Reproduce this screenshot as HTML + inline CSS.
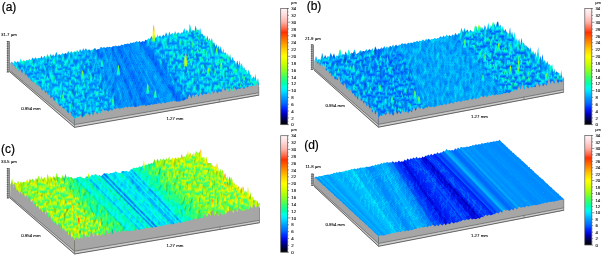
<!DOCTYPE html>
<html lang="en"><head><meta charset="utf-8"><title>3D surface topography</title>
<style>html,body{margin:0;padding:0;background:#fff}svg{display:block}text{font-family:"Liberation Sans",sans-serif;fill:#111}.s{font-size:4.35px;fill:#111;stroke:#111;stroke-width:0.12px}.u{font-size:4.1px;fill:#111;stroke:#111;stroke-width:0.1px}.l{font-size:12px;fill:#000;stroke:#000;stroke-width:0.2px}</style></head><body>
<svg width="602" height="255" viewBox="0 0 602 255">
<rect width="602" height="255" fill="#fff"/>
<defs><filter id="relief" filterUnits="userSpaceOnUse" x="0" y="0" width="602" height="255" color-interpolation-filters="sRGB">
<feTurbulence type="fractalNoise" baseFrequency="0.40 0.185" numOctaves="1" seed="5" result="t"/>
<feTurbulence type="fractalNoise" baseFrequency="0.22 0.105" numOctaves="1" seed="12" result="t2"/>
<feColorMatrix in="t" type="matrix" values="1 0 0 0 0  1 0 0 0 0  1 0 0 0 0  0 0 0 0 1" result="na"/>
<feColorMatrix in="t2" type="matrix" values="0 1 0 0 0  0 1 0 0 0  0 1 0 0 0  0 0 0 0 1" result="nb"/>
<feComposite in="na" in2="nb" operator="arithmetic" k1="0" k2="0.75" k3="0.6" k4="-0.175" result="n0"/>
<feComponentTransfer in="n0" result="n"><feFuncR type="table" tableValues="0.000 0.000 0.000 0.000 0.000 0.000 0.000 0.000 0.000 0.000 0.000 0.027 0.063 0.103 0.145 0.189 0.236 0.284 0.333 0.384 0.435 0.488 0.542 0.596 0.652 0.708 0.765 0.823 0.881 0.940 1.000 1.000 1.000 1.000 1.000 1.000 1.000 1.000 1.000 1.000 1.000"/><feFuncG type="table" tableValues="0.000 0.000 0.000 0.000 0.000 0.000 0.000 0.000 0.000 0.000 0.000 0.027 0.063 0.103 0.145 0.189 0.236 0.284 0.333 0.384 0.435 0.488 0.542 0.596 0.652 0.708 0.765 0.823 0.881 0.940 1.000 1.000 1.000 1.000 1.000 1.000 1.000 1.000 1.000 1.000 1.000"/><feFuncB type="table" tableValues="0.000 0.000 0.000 0.000 0.000 0.000 0.000 0.000 0.000 0.000 0.000 0.027 0.063 0.103 0.145 0.189 0.236 0.284 0.333 0.384 0.435 0.488 0.542 0.596 0.652 0.708 0.765 0.823 0.881 0.940 1.000 1.000 1.000 1.000 1.000 1.000 1.000 1.000 1.000 1.000 1.000"/></feComponentTransfer>
<feColorMatrix in="SourceGraphic" type="matrix" values="0 1 0 0 0  0 1 0 0 0  0 1 0 0 0  0 0 0 0 1" result="amp"/>
<feColorMatrix in="SourceGraphic" type="matrix" values="1 0 0 0 0  1 0 0 0 0  1 0 0 0 0  0 0 0 0 1" result="base"/>
<feComposite in="amp" in2="n" operator="arithmetic" k1="1" k2="0" k3="0" k4="0" result="an"/>
<feComposite in="base" in2="an" operator="arithmetic" k1="0" k2="1" k3="4.76" k4="0" result="h"/>
<feComponentTransfer in="h" result="col"><feFuncR type="table" tableValues="0.000 0.000 0.000 0.000 0.000 0.000 0.000 0.000 0.000 0.000 0.000 0.000 0.000 0.125 0.251 0.408 0.565 0.690 0.816 0.910 1.000 1.000 1.000 1.000 1.000 1.000 1.000 1.000 1.000 1.000 1.000 1.000 1.000 1.000 1.000"/><feFuncG type="table" tableValues="0.000 0.000 0.000 0.000 0.063 0.188 0.376 0.502 0.627 0.769 0.910 1.000 1.000 1.000 1.000 1.000 1.000 1.000 1.000 1.000 1.000 0.910 0.816 0.690 0.565 0.439 0.314 0.188 0.376 0.533 0.690 0.769 0.847 0.910 0.961"/><feFuncB type="table" tableValues="0.000 0.188 0.439 0.690 0.910 1.000 1.000 1.000 1.000 1.000 1.000 0.878 0.690 0.533 0.376 0.251 0.125 0.063 0.000 0.000 0.000 0.000 0.000 0.000 0.000 0.000 0.000 0.000 0.251 0.439 0.659 0.753 0.847 0.910 0.961"/></feComponentTransfer>
<feColorMatrix in="h" type="matrix" values="0 0 0 0 1  0 0 0 0 1  0 0 0 0 1  1 0 0 0 0" result="ha"/>
<feDiffuseLighting in="ha" surfaceScale="11" diffuseConstant="1.15" lighting-color="#fff" result="lit"><feDistantLight azimuth="215" elevation="58"/></feDiffuseLighting>
<feComposite in="col" in2="lit" operator="arithmetic" k1="0.3" k2="0.71" k3="0" k4="0" result="shaded"/>
<feComposite in="shaded" in2="SourceAlpha" operator="in"/>
</filter></defs>
<g id="panel-a">
<clipPath id="c0"><polygon points="10.3,63.3 11.6,61.7 13.4,63.7 14.6,60.7 16.4,62.7 17.5,61.2 19.4,62.3 20.9,58.3 21.9,62 23.5,60 25.4,61.5 26.6,59.9 28.4,60.2 29.3,58.7 30.8,60.2 32.7,57.4 34,59.3 35.4,57.3 36.8,58.7 38.8,57.7 40.3,58.3 41.6,55.7 42.8,58.5 44.4,55.8 46,58.1 47.3,53.8 49.2,57.3 50.6,53.8 52,56.4 53.1,54 54.6,56.3 56.4,51.7 57.7,55.5 59.1,53.9 60.8,55 62.5,53 63.9,54.3 65.3,53 66.9,53.8 68.1,50.9 69.8,53.3 71.3,50.9 72.7,52.8 74,51.2 76,52.1 76.9,49.9 78.8,51.9 80.1,49 81.7,51.7 83.3,48.3 84.7,50.6 85.9,48.2 87.3,50.6 89.1,49.3 90.4,50.6 91.9,49.7 93.5,49.6 95,47.7 96.4,49.9 97.9,49 99.3,49.3 100.9,46.8 102.6,48.1 103.9,47.1 105.5,48 107.1,46.8 108.6,47.2 109.6,46.7 111.3,47.6 113.1,46 114.4,46.3 115.8,45.5 117.3,46.5 118.6,45.6 120,45.9 121.6,44.4 123.2,45.2 124.5,44.1 126.3,44.1 127.6,43.6 129.4,44 130.7,42.5 131.9,43.3 133.3,42.2 134.8,42.4 136.4,41.3 138.3,42 139.7,40.9 140.8,42.6 142.5,41 144.3,41.7 145.4,39.8 146.9,40.2 148.5,38.3 149.7,39.3 151.7,36 152.6,38.5 154.5,35.5 155.9,38.4 157.6,34.4 158.6,37.1 160.1,35.3 161.5,37.3 163.2,34.6 164.7,36.2 166.1,32.2 168,36.4 169.2,31.5 170.5,34.7 172.3,33 173.9,34.7 175.1,31.1 176.8,34.2 178,31.9 179.9,34.4 181.1,32.7 182.9,32.5 184.3,27.9 185.5,31.9 187,29.5 188.5,32.7 189.8,23.8 191.7,31.5 192.9,29.7 194.5,31.3 195.7,25.5 196.8,30.2 198.1,29.3 199.3,31.3 200.1,27.8 201.5,34.4 202.3,33.4 203.6,35.9 204.7,35.4 206.1,39.4 207.4,35.5 208.5,40.8 209.4,38.1 210.6,41.1 211.9,38.1 212.9,42.8 214.3,42.4 215.5,46.9 216.3,44 217.8,48.1 218.6,45.3 219.6,49.8 220.7,45.9 222.2,52.9 223.5,48.2 224.2,53 225.9,52.5 226.8,55.5 227.8,53.2 229.1,57.8 230.1,53.8 231.2,60.7 232.4,56.8 233.8,60.4 235,61.3 236,64.8 237.4,60.3 238.4,65.8 239.7,60.3 240.6,66.6 241.8,62.9 243.1,68.7 244.1,66.9 245.2,70.2 246.4,70.1 247.5,74.6 248.6,69.5 249.9,74.1 251,75.3 251.9,78.9 253.4,76.3 254.6,78.5 255.3,73.6 256.4,81.3 258.1,78.3 259,83.9 258.2,92.9 74.4,124.6 10.8,69.8"/></clipPath>
<g clip-path="url(#c0)"><g filter="url(#relief)">
<polygon fill="#330800" points="50.8,146 54.2,145.4 -27.9,40.4 -31.2,41"/>
<polygon fill="#330800" points="52.7,145.6 56,145 -26.1,40.1 -29.4,40.7"/>
<polygon fill="#330800" points="54.5,145.3 57.9,144.7 -24.2,39.8 -27.6,40.4"/>
<polygon fill="#330800" points="56.4,145 59.7,144.4 -22.4,39.4 -25.7,40"/>
<polygon fill="#330800" points="58.2,144.6 61.5,144.1 -20.6,39.1 -23.9,39.7"/>
<polygon fill="#330800" points="60.1,144.3 63.4,143.7 -18.7,38.8 -22,39.4"/>
<polygon fill="#330800" points="61.9,144 65.2,143.4 -16.9,38.5 -20.2,39"/>
<polygon fill="#330800" points="63.8,143.7 67.1,143.1 -15,38.1 -18.4,38.7"/>
<polygon fill="#330800" points="65.6,143.3 68.9,142.7 -13.2,37.8 -16.5,38.4"/>
<polygon fill="#330800" points="67.5,143 70.8,142.4 -11.4,37.5 -14.7,38.1"/>
<polygon fill="#330800" points="69.3,142.7 72.6,142.1 -9.5,37.1 -12.8,37.7"/>
<polygon fill="#330800" points="71.2,142.3 74.5,141.7 -7.7,36.8 -11,37.4"/>
<polygon fill="#330800" points="73,142 76.3,141.4 -5.8,36.5 -9.2,37.1"/>
<polygon fill="#330800" points="74.9,141.7 78.2,141.1 -4,36.1 -7.3,36.7"/>
<polygon fill="#330800" points="76.7,141.3 80,140.8 -2.2,35.8 -5.5,36.4"/>
<polygon fill="#330800" points="78.5,141 81.7,140.5 -0.1,35.4 -3.6,36.1"/>
<polygon fill="#330800" points="80.4,140.7 83,140.2 2.3,35 -1.8,35.7"/>
<polygon fill="#330800" points="82,140.4 84.4,140 4.6,34.6 0.4,35.4"/>
<polygon fill="#330800" points="83.3,140.2 85.8,139.7 7,34.2 2.7,34.9"/>
<polygon fill="#330800" points="84.7,139.9 87.2,139.5 9.4,33.7 5.1,34.5"/>
<polygon fill="#330800" points="86.1,139.7 88.5,139.2 11.8,33.3 7.5,34.1"/>
<polygon fill="#330800" points="87.4,139.4 89.9,139 14.1,32.9 9.9,33.7"/>
<polygon fill="#330800" points="88.8,139.2 91.3,138.7 16.5,32.5 12.2,33.2"/>
<polygon fill="#330800" points="90.2,138.9 92.6,138.5 18.9,32 14.6,32.8"/>
<polygon fill="#330800" points="91.5,138.7 94,138.3 21.2,31.6 17,32.4"/>
<polygon fill="#330800" points="92.9,138.5 95.4,138 23.6,31.2 19.3,32"/>
<polygon fill="#330800" points="94.3,138.2 96.7,137.8 26,30.8 21.7,31.5"/>
<polygon fill="#330800" points="95.6,138 98.1,137.5 28.4,30.3 24.1,31.1"/>
<polygon fill="#330800" points="97,137.7 99.5,137.3 30.7,29.9 26.5,30.7"/>
<polygon fill="#330800" points="98.4,137.5 100.8,137 33.1,29.5 28.8,30.3"/>
<polygon fill="#320800" points="99.7,137.2 102.2,136.8 35.5,29.1 31.2,29.8"/>
<polygon fill="#320800" points="101.1,137 103.6,136.5 37.9,28.6 33.6,29.4"/>
<polygon fill="#320800" points="102.5,136.7 104.9,136.3 40.2,28.2 36,29"/>
<polygon fill="#320800" points="103.9,136.5 106.3,136.1 42.6,27.8 38.3,28.6"/>
<polygon fill="#320800" points="105.2,136.3 107.7,135.8 45,27.4 40.7,28.1"/>
<polygon fill="#320800" points="106.6,136 109.1,135.6 47.3,26.9 43.1,27.7"/>
<polygon fill="#320800" points="108,135.8 110.4,135.3 49.7,26.5 45.5,27.3"/>
<polygon fill="#320800" points="109.3,135.5 111.8,135.1 52.1,26.1 47.8,26.8"/>
<polygon fill="#320800" points="110.7,135.3 113.2,134.8 54.5,25.7 50.2,26.4"/>
<polygon fill="#320800" points="112.1,135 114.5,134.6 56.8,25.2 52.6,26"/>
<polygon fill="#320800" points="113.4,134.8 115.9,134.3 59.2,24.8 54.9,25.6"/>
<polygon fill="#310800" points="114.8,134.5 117.3,134.1 61.6,24.4 57.3,25.1"/>
<polygon fill="#310800" points="116.2,134.3 118.6,133.9 64,24 59.7,24.7"/>
<polygon fill="#310800" points="117.5,134.1 120,133.6 66.3,23.5 62.1,24.3"/>
<polygon fill="#300700" points="118.9,133.8 121.4,133.4 68.7,23.1 64.4,23.9"/>
<polygon fill="#300700" points="120.3,133.6 122.7,133.1 71.1,22.7 66.8,23.4"/>
<polygon fill="#300700" points="121.6,133.3 124.1,132.9 73.5,22.3 69.2,23"/>
<polygon fill="#2f0700" points="123,133.1 125.5,132.6 75.8,21.8 71.6,22.6"/>
<polygon fill="#300700" points="124.4,132.8 126.8,132.4 78.2,21.4 73.9,22.2"/>
<polygon fill="#300700" points="125.8,132.6 128.2,132.1 80.6,21 76.3,21.7"/>
<polygon fill="#2f0700" points="127.1,132.3 129.6,131.9 82.9,20.5 78.7,21.3"/>
<polygon fill="#2c0600" points="128.5,132.1 131,131.7 85.3,20.1 81,20.9"/>
<polygon fill="#2d0600" points="129.9,131.9 132.3,131.4 87.7,19.7 83.4,20.5"/>
<polygon fill="#2f0500" points="131.2,131.6 133.7,131.2 90.1,19.3 85.8,20"/>
<polygon fill="#310400" points="132.6,131.4 135.1,130.9 92.4,18.8 88.2,19.6"/>
<polygon fill="#360400" points="134,131.1 136.4,130.7 94.8,18.4 90.5,19.2"/>
<polygon fill="#320300" points="135.3,130.9 138.2,130.4 96.7,18.1 92.9,18.8"/>
<polygon fill="#350300" points="136.7,130.6 140.6,129.9 97.9,17.9 95.3,18.3"/>
<polygon fill="#360200" points="138.7,130.3 143,129.5 99.1,17.6 97,18"/>
<polygon fill="#340200" points="141.1,129.8 145.5,129.1 100.3,17.4 98.2,17.8"/>
<polygon fill="#2d0200" points="143.5,129.4 147.9,128.6 101.5,17.2 99.4,17.6"/>
<polygon fill="#340200" points="145.9,129 150.3,128.2 102.8,17 100.6,17.4"/>
<polygon fill="#360200" points="148.4,128.5 152.7,127.8 104,16.8 101.8,17.2"/>
<polygon fill="#330200" points="150.8,128.1 155.1,127.3 105.2,16.6 103,17"/>
<polygon fill="#2e0200" points="153.2,127.7 157.5,126.9 106.4,16.3 104.2,16.7"/>
<polygon fill="#2f0200" points="155.6,127.3 160,126.5 107.6,16.1 105.4,16.5"/>
<polygon fill="#300200" points="158,126.8 162.4,126 108.8,15.9 106.6,16.3"/>
<polygon fill="#360200" points="160.4,126.4 164.8,125.6 110,15.7 107.8,16.1"/>
<polygon fill="#320200" points="162.9,126 167.2,125.2 111.2,15.5 109,15.9"/>
<polygon fill="#320200" points="165.3,125.5 169.6,124.7 112.4,15.3 110.2,15.7"/>
<polygon fill="#370200" points="167.7,125.1 172,124.3 113.6,15 111.4,15.4"/>
<polygon fill="#330200" points="170.1,124.7 174.5,123.9 114.8,14.8 112.7,15.2"/>
<polygon fill="#390200" points="172.5,124.2 176.9,123.5 116,14.6 113.9,15"/>
<polygon fill="#340200" points="174.9,123.8 179.3,123 117.2,14.4 115.1,14.8"/>
<polygon fill="#350200" points="177.4,123.4 181.7,122.6 118.5,14.2 116.3,14.6"/>
<polygon fill="#380200" points="179.8,122.9 184.1,122.2 119.7,14 117.5,14.4"/>
<polygon fill="#390200" points="182.2,122.5 186.5,121.7 120.9,13.7 118.7,14.1"/>
<polygon fill="#360200" points="184.6,122.1 188.9,121.3 122.1,13.5 119.9,13.9"/>
<polygon fill="#340200" points="187,121.6 191.4,120.9 123.3,13.3 121.1,13.7"/>
<polygon fill="#2d0200" points="189.4,121.2 193.8,120.4 124.5,13.1 122.3,13.5"/>
<polygon fill="#2c0300" points="191.8,120.8 196.2,120 125.7,12.9 123.5,13.3"/>
<polygon fill="#2d0400" points="194.3,120.3 198.6,119.6 126.9,12.7 124.7,13.1"/>
<polygon fill="#2e0600" points="196.7,119.9 201,119.1 128.1,12.5 125.9,12.8"/>
<polygon fill="#300700" points="199.1,119.5 203.4,118.7 129.3,12.2 127.1,12.6"/>
<polygon fill="#2d0700" points="201.5,119.1 205.9,118.3 130.5,12 128.3,12.4"/>
<polygon fill="#2e0800" points="203.9,118.6 208.3,117.8 131.8,11.8 129.6,12.2"/>
<polygon fill="#2d0800" points="206.3,118.2 210.6,117.4 133,11.6 130.8,12"/>
<polygon fill="#300800" points="208.7,117.8 213,117 134.3,11.3 132,11.8"/>
<polygon fill="#310800" points="211.1,117.3 215.4,116.6 135.5,11.1 133.3,11.5"/>
<polygon fill="#330800" points="213.5,116.9 217.7,116.2 136.8,10.9 134.5,11.3"/>
<polygon fill="#330800" points="215.8,116.5 220.1,115.7 138,10.7 135.8,11.1"/>
<polygon fill="#330800" points="218.2,116.1 222.5,115.3 139.3,10.4 137,10.9"/>
<polygon fill="#330800" points="220.6,115.6 224.9,114.9 140.6,10.2 138.3,10.6"/>
<polygon fill="#340800" points="223,115.2 227.2,114.5 141.8,10 139.5,10.4"/>
<polygon fill="#340800" points="225.3,114.8 229.6,114 143.1,9.8 140.8,10.2"/>
<polygon fill="#340800" points="227.7,114.4 232,113.6 144.3,9.5 142.1,9.9"/>
<polygon fill="#340800" points="230.1,114 234.3,113.2 145.6,9.3 143.3,9.7"/>
<polygon fill="#340800" points="232.4,113.5 236.7,112.8 146.8,9.1 144.6,9.5"/>
<polygon fill="#340800" points="234.8,113.1 239.1,112.3 148.1,8.9 145.8,9.3"/>
<polygon fill="#340900" points="237.2,112.7 241.4,111.9 149.4,8.6 147.1,9"/>
<polygon fill="#340900" points="239.6,112.3 243.8,111.5 150.6,8.4 148.3,8.8"/>
<polygon fill="#340900" points="241.9,111.8 246.2,111.1 151.9,8.2 149.6,8.6"/>
<polygon fill="#340900" points="244.3,111.4 248.6,110.6 153.1,8 150.9,8.4"/>
<polygon fill="#350900" points="246.7,111 250.9,110.2 154.4,7.7 152.1,8.1"/>
<polygon fill="#350900" points="249,110.6 253.3,109.8 155.6,7.5 153.4,7.9"/>
<polygon fill="#350900" points="251.4,110.1 255.7,109.4 156.9,7.3 154.6,7.7"/>
<polygon fill="#350900" points="253.8,109.7 258,109 158.2,7.1 155.9,7.5"/>
<polygon fill="#350900" points="256.1,109.3 260.4,108.5 159.4,6.8 157.2,7.2"/>
<polygon fill="#350900" points="258.5,108.9 262.8,108.1 160.7,6.6 158.4,7"/>
<polygon fill="#350900" points="260.9,108.4 265.2,107.7 161.9,6.4 159.7,6.8"/>
<polygon fill="#350900" points="263.3,108 267.5,107.3 163.2,6.2 160.9,6.6"/>
<polygon fill="#350900" points="265.6,107.6 269.9,106.8 164.4,5.9 162.2,6.3"/>
<polygon fill="#350900" points="268,107.2 272.3,106.4 165.7,5.7 163.4,6.1"/>
<polygon fill="#360900" points="270.4,106.8 274.6,106 167,5.5 164.7,5.9"/>
<polygon fill="#360900" points="272.7,106.3 277,105.6 168.2,5.3 166,5.7"/>
<polygon fill="#360900" points="275.1,105.9 279.2,105.2 169.7,5 167.2,5.4"/>
<polygon fill="#360900" points="277.5,105.5 281,104.8 171.5,4.7 168.5,5.2"/>
<polygon fill="#360900" points="279.5,105.1 282.9,104.5 173.4,4.3 170.1,4.9"/>
<polygon fill="#360900" points="281.4,104.8 284.7,104.2 175.2,4 171.9,4.6"/>
<polygon fill="#360900" points="283.2,104.5 286.6,103.9 177.1,3.7 173.8,4.3"/>
<polygon fill="#360900" points="285.1,104.1 288.4,103.5 178.9,3.3 175.6,3.9"/>
<polygon fill="#360900" points="286.9,103.8 290.3,103.2 180.7,3 177.4,3.6"/>
<polygon fill="#360900" points="288.8,103.5 292.1,102.9 182.6,2.7 179.3,3.3"/>
<polygon fill="#360900" points="290.6,103.1 294,102.5 184.4,2.4 181.1,2.9"/>
<polygon fill="#360900" points="292.5,102.8 295.8,102.2 186.3,2 183,2.6"/>
<polygon fill="#360900" points="294.3,102.5 297.6,101.9 188.1,1.7 184.8,2.3"/>
<polygon fill="#360900" points="296.2,102.1 299.5,101.5 189.9,1.4 186.6,2"/>
<polygon fill="#360900" points="298,101.8 301.3,101.2 191.8,1 188.5,1.6"/>
<polygon fill="#360900" points="299.9,101.5 303.2,100.9 193.6,0.7 190.3,1.3"/>
<polygon fill="#360900" points="301.7,101.2 305,100.6 195.5,0.4 192.2,1"/>
<polygon fill="#360900" points="303.6,100.8 306.9,100.2 197.3,0 194,0.6"/>
<polygon fill="#360900" points="305.4,100.5 308.7,99.9 199.2,-0.3 195.8,0.3"/>
</g></g>
<defs>
<linearGradient id="kg0_0" x1="0" y1="0" x2="0" y2="1"><stop offset="0" stop-color="#00fae7"/><stop offset="0.45" stop-color="#00bbff"/><stop offset="0.8" stop-color="#0074ff" stop-opacity="0.85"/><stop offset="1" stop-color="#0074ff" stop-opacity="0"/></linearGradient>
<path id="k000" fill="url(#kg0_0)" d="M0 -0.5C0.3 1.9 1.4 3.8 2.5 6.2L-2.5 6.2C-1.4 3.8 -0.3 1.9 0 -0.5Z"/>
<path id="k001" fill="url(#kg0_0)" d="M0 -0.5C0.3 2.5 1.8 5.1 3.2 8.2L-3.2 8.2C-1.8 5.1 -0.3 2.5 0 -0.5Z"/>
<linearGradient id="kg0_1" x1="0" y1="0" x2="0" y2="1"><stop offset="0" stop-color="#00ffc8"/><stop offset="0.45" stop-color="#00cdff"/><stop offset="0.8" stop-color="#0074ff" stop-opacity="0.85"/><stop offset="1" stop-color="#0074ff" stop-opacity="0"/></linearGradient>
<path id="k010" fill="url(#kg0_1)" d="M0 -0.5C0.3 1.9 1.4 3.8 2.5 6.2L-2.5 6.2C-1.4 3.8 -0.3 1.9 0 -0.5Z"/>
<path id="k011" fill="url(#kg0_1)" d="M0 -0.5C0.3 2.5 1.8 5.1 3.2 8.2L-3.2 8.2C-1.8 5.1 -0.3 2.5 0 -0.5Z"/>
<linearGradient id="kg0_2" x1="0" y1="0" x2="0" y2="1"><stop offset="0" stop-color="#06ffa8"/><stop offset="0.45" stop-color="#00dfff"/><stop offset="0.8" stop-color="#0074ff" stop-opacity="0.85"/><stop offset="1" stop-color="#0074ff" stop-opacity="0"/></linearGradient>
<path id="k020" fill="url(#kg0_2)" d="M0 -0.5C0.3 1.9 1.4 3.8 2.5 6.2L-2.5 6.2C-1.4 3.8 -0.3 1.9 0 -0.5Z"/>
<path id="k021" fill="url(#kg0_2)" d="M0 -0.5C0.3 2.5 1.8 5.1 3.2 8.2L-3.2 8.2C-1.8 5.1 -0.3 2.5 0 -0.5Z"/>
<linearGradient id="kg0_3" x1="0" y1="0" x2="0" y2="1"><stop offset="0" stop-color="#1cff8c"/><stop offset="0.45" stop-color="#00edf8"/><stop offset="0.8" stop-color="#0074ff" stop-opacity="0.85"/><stop offset="1" stop-color="#0074ff" stop-opacity="0"/></linearGradient>
<path id="k030" fill="url(#kg0_3)" d="M0 -0.5C0.3 1.9 1.4 3.8 2.5 6.2L-2.5 6.2C-1.4 3.8 -0.3 1.9 0 -0.5Z"/>
<path id="k031" fill="url(#kg0_3)" d="M0 -0.5C0.3 2.5 1.8 5.1 3.2 8.2L-3.2 8.2C-1.8 5.1 -0.3 2.5 0 -0.5Z"/>
<linearGradient id="kg0_4" x1="0" y1="0" x2="0" y2="1"><stop offset="0" stop-color="#33ff70"/><stop offset="0.45" stop-color="#00f9e9"/><stop offset="0.8" stop-color="#0074ff" stop-opacity="0.85"/><stop offset="1" stop-color="#0074ff" stop-opacity="0"/></linearGradient>
<path id="k040" fill="url(#kg0_4)" d="M0 -0.5C0.3 1.9 1.4 3.8 2.5 6.2L-2.5 6.2C-1.4 3.8 -0.3 1.9 0 -0.5Z"/>
<path id="k041" fill="url(#kg0_4)" d="M0 -0.5C0.3 2.5 1.8 5.1 3.2 8.2L-3.2 8.2C-1.8 5.1 -0.3 2.5 0 -0.5Z"/>
<linearGradient id="kg0_5" x1="0" y1="0" x2="0" y2="1"><stop offset="0" stop-color="#4cff57"/><stop offset="0.45" stop-color="#00ffd6"/><stop offset="0.8" stop-color="#0074ff" stop-opacity="0.85"/><stop offset="1" stop-color="#0074ff" stop-opacity="0"/></linearGradient>
<path id="k050" fill="url(#kg0_5)" d="M0 -0.5C0.3 1.9 1.4 3.8 2.5 6.2L-2.5 6.2C-1.4 3.8 -0.3 1.9 0 -0.5Z"/>
<path id="k051" fill="url(#kg0_5)" d="M0 -0.5C0.3 2.5 1.8 5.1 3.2 8.2L-3.2 8.2C-1.8 5.1 -0.3 2.5 0 -0.5Z"/>
<linearGradient id="kg0_6" x1="0" y1="0" x2="0" y2="1"><stop offset="0" stop-color="#68ff40"/><stop offset="0.45" stop-color="#00ffbe"/><stop offset="0.8" stop-color="#0074ff" stop-opacity="0.85"/><stop offset="1" stop-color="#0074ff" stop-opacity="0"/></linearGradient>
<path id="k060" fill="url(#kg0_6)" d="M0 -0.5C0.3 1.9 1.4 3.8 2.5 6.2L-2.5 6.2C-1.4 3.8 -0.3 1.9 0 -0.5Z"/>
<path id="k061" fill="url(#kg0_6)" d="M0 -0.5C0.3 2.5 1.8 5.1 3.2 8.2L-3.2 8.2C-1.8 5.1 -0.3 2.5 0 -0.5Z"/>
<linearGradient id="kg0_7" x1="0" y1="0" x2="0" y2="1"><stop offset="0" stop-color="#84ff2a"/><stop offset="0.45" stop-color="#06ffa8"/><stop offset="0.8" stop-color="#0074ff" stop-opacity="0.85"/><stop offset="1" stop-color="#0074ff" stop-opacity="0"/></linearGradient>
<path id="k070" fill="url(#kg0_7)" d="M0 -0.5C0.3 1.9 1.4 3.8 2.5 6.2L-2.5 6.2C-1.4 3.8 -0.3 1.9 0 -0.5Z"/>
<path id="k071" fill="url(#kg0_7)" d="M0 -0.5C0.3 2.5 1.8 5.1 3.2 8.2L-3.2 8.2C-1.8 5.1 -0.3 2.5 0 -0.5Z"/>
</defs>
<use href="#k020" x="21.6" y="61.2"/>
<use href="#k040" x="179.5" y="32.5"/>
<use href="#k030" x="79.8" y="50.7"/>
<use href="#k040" x="195" y="30.3"/>
<use href="#k040" x="190" y="30.9"/>
<use href="#k030" x="183.1" y="32.8"/>
<use href="#k030" x="13.2" y="63.1"/>
<use href="#k040" x="175.6" y="34.3"/>
<use href="#k030" x="196.7" y="31.4"/>
<use href="#k010" x="29.5" y="61.8"/>
<use href="#k050" x="50.3" y="55.9"/>
<use href="#k070" x="196.7" y="28.7"/>
<use href="#k041" x="176.5" y="34.4"/>
<use href="#k010" x="60" y="56.5"/>
<use href="#k010" x="46.1" y="59.6"/>
<use href="#k010" x="87.8" y="51.8"/>
<use href="#k050" x="174.4" y="34.4"/>
<use href="#k020" x="31.2" y="62"/>
<use href="#k010" x="49.4" y="59.4"/>
<use href="#k030" x="195" y="32.9"/>
<use href="#k020" x="174.3" y="37.1"/>
<use href="#k030" x="186.6" y="34"/>
<use href="#k000" x="74.7" y="55.8"/>
<use href="#k010" x="36.7" y="63"/>
<use href="#k010" x="83.4" y="54.9"/>
<use href="#k020" x="62.7" y="58.1"/>
<use href="#k041" x="175.9" y="37"/>
<use href="#k010" x="49" y="61.9"/>
<use href="#k020" x="196.4" y="35.3"/>
<use href="#k040" x="170.1" y="38.6"/>
<use href="#k000" x="90.2" y="55.8"/>
<use href="#k040" x="76" y="55.5"/>
<use href="#k040" x="32.6" y="63.1"/>
<use href="#k030" x="22" y="66.1"/>
<use href="#k020" x="18.9" y="66.9"/>
<use href="#k010" x="156.1" y="43.6"/>
<use href="#k010" x="18.8" y="67.8"/>
<use href="#k030" x="189.3" y="37.5"/>
<use href="#k010" x="31" y="66.6"/>
<use href="#k010" x="72.3" y="60.3"/>
<use href="#k050" x="201.9" y="35.2"/>
<use href="#k030" x="40.4" y="65.4"/>
<use href="#k010" x="72" y="60.8"/>
<use href="#k041" x="30.3" y="67"/>
<use href="#k010" x="37.6" y="67.7"/>
<use href="#k010" x="60.2" y="64.4"/>
<use href="#k010" x="86.1" y="59.7"/>
<use href="#k010" x="27.9" y="69.8"/>
<use href="#k051" x="65.3" y="61.2"/>
<use href="#k020" x="161.1" y="46.3"/>
<use href="#k041" x="34.7" y="67.2"/>
<use href="#k041" x="188.9" y="40.3"/>
<use href="#k051" x="167" y="43.9"/>
<use href="#k030" x="88.2" y="59.2"/>
<use href="#k020" x="175.5" y="44.5"/>
<use href="#k030" x="60.2" y="64.3"/>
<use href="#k030" x="170.3" y="45.6"/>
<use href="#k020" x="193.6" y="42.1"/>
<use href="#k041" x="185" y="41.9"/>
<use href="#k020" x="69.1" y="64.2"/>
<use href="#k020" x="200.1" y="41.9"/>
<use href="#k020" x="88.8" y="61.9"/>
<use href="#k010" x="33.8" y="72.3"/>
<use href="#k060" x="206.5" y="38.7"/>
<use href="#k030" x="193.8" y="43.1"/>
<use href="#k000" x="156.1" y="51.8"/>
<use href="#k041" x="56.5" y="67.1"/>
<use href="#k071" x="192.8" y="41.6"/>
<use href="#k050" x="175.9" y="45.3"/>
<use href="#k020" x="208" y="42"/>
<use href="#k070" x="197.4" y="40.6"/>
<use href="#k030" x="189" y="45"/>
<use href="#k030" x="203.8" y="42.5"/>
<use href="#k020" x="197.2" y="44.5"/>
<use href="#k020" x="56.2" y="69.5"/>
<use href="#k030" x="203.3" y="43.2"/>
<use href="#k010" x="60" y="69.5"/>
<use href="#k010" x="167.3" y="50.9"/>
<use href="#k010" x="37.5" y="74.1"/>
<use href="#k030" x="197.2" y="44.8"/>
<use href="#k030" x="197.3" y="44.8"/>
<use href="#k000" x="159.9" y="53"/>
<use href="#k000" x="96.6" y="64.3"/>
<use href="#k000" x="94.1" y="65.4"/>
<use href="#k060" x="192.7" y="44.4"/>
<use href="#k030" x="195.2" y="45.9"/>
<use href="#k030" x="42.2" y="73.1"/>
<use href="#k041" x="171.5" y="50.2"/>
<use href="#k020" x="79" y="67.7"/>
<use href="#k020" x="185.6" y="49.7"/>
<use href="#k020" x="185.8" y="50.2"/>
<use href="#k020" x="185.3" y="49.8"/>
<use href="#k020" x="163.9" y="54.1"/>
<use href="#k050" x="199.9" y="46.3"/>
<use href="#k000" x="96.3" y="68.1"/>
<use href="#k020" x="163.3" y="55.1"/>
<use href="#k020" x="173.5" y="53.1"/>
<use href="#k010" x="40" y="77.6"/>
<use href="#k020" x="73.5" y="71.2"/>
<use href="#k030" x="65.6" y="71.9"/>
<use href="#k010" x="78.8" y="71.3"/>
<use href="#k010" x="59.2" y="74.9"/>
<use href="#k041" x="174.3" y="53.1"/>
<use href="#k020" x="93.3" y="68.5"/>
<use href="#k061" x="191.9" y="48.8"/>
<use href="#k020" x="69.2" y="73.4"/>
<use href="#k041" x="47.3" y="75.5"/>
<use href="#k071" x="197.6" y="47.8"/>
<use href="#k041" x="200.9" y="49.2"/>
<use href="#k010" x="170.7" y="56.7"/>
<use href="#k020" x="192.6" y="52.8"/>
<use href="#k041" x="178" y="54"/>
<use href="#k000" x="165.9" y="58.7"/>
<use href="#k030" x="182.2" y="53.7"/>
<use href="#k010" x="65.2" y="76.3"/>
<use href="#k030" x="76.6" y="72.8"/>
<use href="#k020" x="179.1" y="55.8"/>
<use href="#k020" x="188.5" y="54.1"/>
<use href="#k050" x="198.7" y="50.1"/>
<use href="#k030" x="178" y="55.9"/>
<use href="#k050" x="201.5" y="49.9"/>
<use href="#k030" x="203.9" y="51.6"/>
<use href="#k041" x="172.2" y="56.2"/>
<use href="#k030" x="178.9" y="55.6"/>
<use href="#k041" x="181" y="55.1"/>
<use href="#k040" x="35" y="80.5"/>
<use href="#k000" x="86.5" y="74.5"/>
<use href="#k041" x="206.4" y="51"/>
<use href="#k010" x="36.1" y="83.2"/>
<use href="#k030" x="170.5" y="58.2"/>
<use href="#k000" x="90.4" y="74.3"/>
<use href="#k030" x="53" y="79.3"/>
<use href="#k020" x="54.7" y="80"/>
<use href="#k041" x="55.4" y="78.8"/>
<use href="#k010" x="91.7" y="74.7"/>
<use href="#k010" x="63.9" y="79.5"/>
<use href="#k050" x="195" y="54.4"/>
<use href="#k020" x="45.6" y="83.1"/>
<use href="#k040" x="212.5" y="52.7"/>
<use href="#k030" x="189.7" y="57.3"/>
<use href="#k041" x="206.6" y="53.5"/>
<use href="#k020" x="208" y="55"/>
<use href="#k041" x="170.5" y="60.4"/>
<use href="#k010" x="69.8" y="80.2"/>
<use href="#k010" x="77.5" y="78.8"/>
<use href="#k010" x="65.4" y="81.4"/>
<use href="#k010" x="70.1" y="80.6"/>
<use href="#k020" x="185.6" y="59.8"/>
<use href="#k010" x="45.1" y="85.3"/>
<use href="#k030" x="191.1" y="58.6"/>
<use href="#k030" x="39.4" y="85.3"/>
<use href="#k030" x="191" y="59"/>
<use href="#k030" x="40.1" y="85.8"/>
<use href="#k030" x="94.7" y="76.1"/>
<use href="#k000" x="98" y="78.1"/>
<use href="#k020" x="202.9" y="58.4"/>
<use href="#k041" x="190.7" y="59.2"/>
<use href="#k030" x="70.2" y="81.1"/>
<use href="#k000" x="93.6" y="78.9"/>
<use href="#k030" x="67.4" y="82.1"/>
<use href="#k060" x="221.2" y="53"/>
<use href="#k051" x="202.2" y="57.3"/>
<use href="#k010" x="90.2" y="79.9"/>
<use href="#k020" x="45.4" y="87.3"/>
<use href="#k040" x="70.8" y="81.8"/>
<use href="#k051" x="207.1" y="57.3"/>
<use href="#k020" x="174" y="65.6"/>
<use href="#k030" x="209.5" y="59.1"/>
<use href="#k040" x="225.5" y="55.4"/>
<use href="#k041" x="179.2" y="63.9"/>
<use href="#k020" x="215.4" y="58.8"/>
<use href="#k010" x="69.8" y="85.2"/>
<use href="#k000" x="99.3" y="81.5"/>
<use href="#k010" x="170.9" y="68"/>
<use href="#k020" x="76.3" y="84.8"/>
<use href="#k060" x="191.4" y="62.2"/>
<use href="#k010" x="189.6" y="65.5"/>
<use href="#k010" x="174.1" y="68.8"/>
<use href="#k030" x="184.4" y="66"/>
<use href="#k041" x="65.7" y="86.4"/>
<use href="#k020" x="216.2" y="61.4"/>
<use href="#k041" x="84.3" y="83.1"/>
<use href="#k051" x="193.7" y="63.6"/>
<use href="#k040" x="215.8" y="60.5"/>
<use href="#k051" x="220.4" y="58.8"/>
<use href="#k061" x="222.6" y="58.3"/>
<use href="#k020" x="202.9" y="64.7"/>
<use href="#k040" x="218.5" y="60.5"/>
<use href="#k030" x="217.7" y="62"/>
<use href="#k041" x="76" y="85.8"/>
<use href="#k041" x="225.2" y="60.2"/>
<use href="#k020" x="93.6" y="84.6"/>
<use href="#k041" x="56.9" y="90"/>
<use href="#k041" x="221.4" y="61.6"/>
<use href="#k050" x="216.7" y="62"/>
<use href="#k041" x="203.6" y="64.6"/>
<use href="#k000" x="177.5" y="72.8"/>
<use href="#k020" x="58" y="92.8"/>
<use href="#k030" x="97.8" y="85.2"/>
<use href="#k051" x="187.9" y="68.4"/>
<use href="#k041" x="63.5" y="90.8"/>
<use href="#k020" x="86.5" y="88.6"/>
<use href="#k020" x="205.8" y="68.6"/>
<use href="#k040" x="64.9" y="91.4"/>
<use href="#k010" x="80.7" y="90.7"/>
<use href="#k050" x="196.1" y="68.3"/>
<use href="#k030" x="195.8" y="70"/>
<use href="#k020" x="188.5" y="72.3"/>
<use href="#k041" x="217.5" y="65.9"/>
<use href="#k020" x="78.9" y="91.5"/>
<use href="#k000" x="107.3" y="88.3"/>
<use href="#k061" x="209.8" y="66.5"/>
<use href="#k030" x="100.5" y="87.5"/>
<use href="#k020" x="191.8" y="72.3"/>
<use href="#k041" x="76.8" y="91.5"/>
<use href="#k030" x="226.6" y="66.7"/>
<use href="#k010" x="68.2" y="96.1"/>
<use href="#k030" x="72.4" y="94"/>
<use href="#k020" x="188.9" y="74.5"/>
<use href="#k061" x="203.7" y="69.1"/>
<use href="#k050" x="230" y="65.2"/>
<use href="#k020" x="68.3" y="96.2"/>
<use href="#k010" x="72.5" y="95.6"/>
<use href="#k050" x="203.2" y="69.8"/>
<use href="#k030" x="94.9" y="90.5"/>
<use href="#k000" x="98.5" y="92.6"/>
<use href="#k010" x="107.1" y="90.9"/>
<use href="#k010" x="185.6" y="77"/>
<use href="#k020" x="178" y="78.4"/>
<use href="#k000" x="178.7" y="79.4"/>
<use href="#k020" x="106.9" y="90.9"/>
<use href="#k041" x="96.4" y="91.8"/>
<use href="#k010" x="84.2" y="96.2"/>
<use href="#k040" x="91.1" y="93"/>
<use href="#k020" x="101" y="92.3"/>
<use href="#k071" x="215" y="69.2"/>
<use href="#k020" x="60.7" y="100.1"/>
<use href="#k030" x="214.5" y="72.2"/>
<use href="#k041" x="57.1" y="99.2"/>
<use href="#k041" x="220.3" y="70.9"/>
<use href="#k030" x="83.7" y="95.2"/>
<use href="#k041" x="209.5" y="73"/>
<use href="#k030" x="69.4" y="97.9"/>
<use href="#k040" x="207.3" y="73.3"/>
<use href="#k020" x="81.9" y="96.9"/>
<use href="#k020" x="226.7" y="71.7"/>
<use href="#k030" x="216.7" y="73.7"/>
<use href="#k000" x="106.3" y="95.4"/>
<use href="#k020" x="199.8" y="77.9"/>
<use href="#k030" x="180.8" y="80.7"/>
<use href="#k020" x="107.1" y="94.8"/>
<use href="#k040" x="231.6" y="71.5"/>
<use href="#k020" x="66.7" y="101.9"/>
<use href="#k071" x="235.3" y="68.8"/>
<use href="#k020" x="220.4" y="75.3"/>
<use href="#k030" x="98.5" y="96.4"/>
<use href="#k020" x="197.7" y="80.2"/>
<use href="#k030" x="216.8" y="76.7"/>
<use href="#k030" x="63.4" y="103"/>
<use href="#k040" x="244.9" y="70.8"/>
<use href="#k030" x="78.2" y="101.3"/>
<use href="#k020" x="77.5" y="102.4"/>
<use href="#k030" x="205.1" y="79.4"/>
<use href="#k010" x="88.8" y="101.1"/>
<use href="#k040" x="226.8" y="75.3"/>
<use href="#k041" x="215.6" y="77.4"/>
<use href="#k051" x="215.7" y="76.5"/>
<use href="#k020" x="101.5" y="98.8"/>
<use href="#k051" x="207.8" y="78.6"/>
<use href="#k030" x="246" y="73.7"/>
<use href="#k000" x="180.1" y="87.3"/>
<use href="#k010" x="72.6" y="105.8"/>
<use href="#k000" x="186" y="86.5"/>
<use href="#k030" x="235" y="76.3"/>
<use href="#k020" x="80.7" y="104.2"/>
<use href="#k010" x="110.3" y="99.3"/>
<use href="#k041" x="231.2" y="77.1"/>
<use href="#k020" x="98.2" y="101.7"/>
<use href="#k030" x="248" y="75"/>
<use href="#k040" x="189" y="84.5"/>
<use href="#k010" x="74.6" y="106.6"/>
<use href="#k010" x="81.6" y="105.5"/>
<use href="#k020" x="202.8" y="84.6"/>
<use href="#k020" x="70.9" y="107.9"/>
<use href="#k071" x="243" y="74.2"/>
<use href="#k020" x="80.9" y="106"/>
<use href="#k030" x="231" y="79.9"/>
<use href="#k010" x="187" y="89"/>
<use href="#k030" x="186.9" y="88"/>
<use href="#k010" x="76.5" y="109.2"/>
<use href="#k010" x="93.5" y="106.7"/>
<use href="#k041" x="194.8" y="87.2"/>
<use href="#k010" x="193.8" y="89.3"/>
<use href="#k071" x="244.2" y="76.3"/>
<use href="#k010" x="79" y="110"/>
<use href="#k020" x="243.9" y="80.1"/>
<use href="#k020" x="104.7" y="104.5"/>
<use href="#k041" x="85.2" y="106.5"/>
<use href="#k030" x="238.1" y="80.8"/>
<use href="#k020" x="221.1" y="85"/>
<use href="#k030" x="105.7" y="104.5"/>
<use href="#k020" x="101.4" y="105.9"/>
<use href="#k041" x="235.1" y="81"/>
<use href="#k010" x="205" y="88.5"/>
<use href="#k020" x="88.2" y="108.5"/>
<use href="#k051" x="218.9" y="83.6"/>
<use href="#k030" x="241.8" y="81.2"/>
<use href="#k020" x="207.3" y="88.5"/>
<use href="#k060" x="239.6" y="79.6"/>
<use href="#k061" x="229.4" y="81.4"/>
<use href="#k050" x="248.2" y="79.4"/>
<use href="#k051" x="216" y="85.2"/>
<use href="#k020" x="237.5" y="83.5"/>
<use href="#k030" x="220.9" y="86.1"/>
<use href="#k020" x="198" y="91.1"/>
<use href="#k040" x="79.4" y="110.7"/>
<use href="#k010" x="100" y="109.6"/>
<use href="#k030" x="244.1" y="83.5"/>
<use href="#k030" x="249.6" y="82.7"/>
<use href="#k070" x="251.1" y="79.2"/>
<use href="#k030" x="230.4" y="86.5"/>
<use href="#k010" x="105.8" y="109.7"/>
<use href="#k020" x="226.5" y="88"/>
<use href="#k020" x="222.9" y="89"/>
<use href="#k030" x="85.9" y="112.9"/>
<use href="#k040" x="226.4" y="87.7"/>
<use href="#k020" x="234.4" y="87.8"/>
<use href="#k020" x="99.2" y="111.3"/>
<use href="#k020" x="101.9" y="110.8"/>
<use href="#k000" x="111.2" y="110.9"/>
<use href="#k020" x="84.5" y="114.6"/>
<use href="#k030" x="86.6" y="113.1"/>
<use href="#k070" x="240.7" y="83.8"/>
<use href="#k030" x="76.8" y="115.7"/>
<use href="#k050" x="251.7" y="83.2"/>
<linearGradient id="sg0" x1="0" y1="0" x2="0" y2="1"><stop offset="0" stop-color="#ff5000"/><stop offset="0.2" stop-color="#ffb000"/><stop offset="0.5" stop-color="#ffff00"/><stop offset="0.8" stop-color="#b0ff10"/><stop offset="1" stop-color="#40ff60"/></linearGradient><polygon fill="url(#sg0)" points="152.2,41.5 153,28.8 153.7,24.5 154.4,28.8 155.2,41.5"/>
<linearGradient id="sg1" x1="0" y1="0" x2="0" y2="1"><stop offset="0" stop-color="#ff3000"/><stop offset="0.2" stop-color="#ff9000"/><stop offset="0.5" stop-color="#ffe800"/><stop offset="0.8" stop-color="#d0ff00"/><stop offset="1" stop-color="#68ff40"/></linearGradient><polygon fill="url(#sg1)" points="184.1,66.5 184.9,54.5 185.6,50.5 186.3,54.5 187.1,66.5"/>
<linearGradient id="sg2" x1="0" y1="0" x2="0" y2="1"><stop offset="0" stop-color="#e8ff00"/><stop offset="0.2" stop-color="#a0ff18"/><stop offset="0.5" stop-color="#40ff60"/><stop offset="0.8" stop-color="#00ffc8"/><stop offset="1" stop-color="#00c4ff"/></linearGradient><polygon fill="url(#sg2)" points="81,80 82,72.5 82.7,70 83.4,72.5 84.4,80"/>
<linearGradient id="sg3" x1="0" y1="0" x2="0" y2="1"><stop offset="0" stop-color="#b0ff10"/><stop offset="0.2" stop-color="#68ff40"/><stop offset="0.5" stop-color="#20ff88"/><stop offset="0.8" stop-color="#00ffe0"/><stop offset="1" stop-color="#00c4ff"/></linearGradient><polygon fill="url(#sg3)" points="116.7,75.5 117.7,67.2 118.4,64.5 119.1,67.2 120.1,75.5"/>
<linearGradient id="sg4" x1="0" y1="0" x2="0" y2="1"><stop offset="0" stop-color="#d0ff00"/><stop offset="0.2" stop-color="#86ff28"/><stop offset="0.5" stop-color="#30ff74"/><stop offset="0.8" stop-color="#00ffd4"/><stop offset="1" stop-color="#00c4ff"/></linearGradient><polygon fill="url(#sg4)" points="146,94 147,85.8 147.7,83 148.4,85.8 149.4,94"/>
<linearGradient id="sg5" x1="0" y1="0" x2="0" y2="1"><stop offset="0" stop-color="#b0ff10"/><stop offset="0.2" stop-color="#68ff40"/><stop offset="0.5" stop-color="#20ff88"/><stop offset="0.8" stop-color="#00ffe0"/><stop offset="1" stop-color="#00c4ff"/></linearGradient><polygon fill="url(#sg5)" points="153.6,98 154.6,92 155.3,90 156,92 157,98"/>
<linearGradient id="sg6" x1="0" y1="0" x2="0" y2="1"><stop offset="0" stop-color="#68ff40"/><stop offset="0.2" stop-color="#30ff74"/><stop offset="0.5" stop-color="#00ffb0"/><stop offset="0.8" stop-color="#00f4f0"/><stop offset="1" stop-color="#00c4ff"/></linearGradient><polygon fill="url(#sg6)" points="201.8,57 202.8,51 203.5,49 204.2,51 205.2,57"/>
<linearGradient id="sg7" x1="0" y1="0" x2="0" y2="1"><stop offset="0" stop-color="#e8ff00"/><stop offset="0.2" stop-color="#a0ff18"/><stop offset="0.5" stop-color="#40ff60"/><stop offset="0.8" stop-color="#00ffc8"/><stop offset="1" stop-color="#00c4ff"/></linearGradient><polygon fill="url(#sg7)" points="206.6,76.5 207.6,69.8 208.3,67.5 209,69.8 210,76.5"/>
<linearGradient id="sg8" x1="0" y1="0" x2="0" y2="1"><stop offset="0" stop-color="#d0ff00"/><stop offset="0.2" stop-color="#86ff28"/><stop offset="0.5" stop-color="#30ff74"/><stop offset="0.8" stop-color="#00ffd4"/><stop offset="1" stop-color="#00c4ff"/></linearGradient><polygon fill="url(#sg8)" points="215,56.5 216,49.8 216.7,47.5 217.4,49.8 218.4,56.5"/>
<linearGradient id="sg9" x1="0" y1="0" x2="0" y2="1"><stop offset="0" stop-color="#d0ff00"/><stop offset="0.2" stop-color="#86ff28"/><stop offset="0.5" stop-color="#30ff74"/><stop offset="0.8" stop-color="#00ffd4"/><stop offset="1" stop-color="#00c4ff"/></linearGradient><polygon fill="url(#sg9)" points="219.5,71 220.5,64.2 221.2,62 221.9,64.2 222.9,71"/>
<linearGradient id="sg10" x1="0" y1="0" x2="0" y2="1"><stop offset="0" stop-color="#68ff40"/><stop offset="0.2" stop-color="#30ff74"/><stop offset="0.5" stop-color="#00ffb0"/><stop offset="0.8" stop-color="#00f4f0"/><stop offset="1" stop-color="#00c4ff"/></linearGradient><polygon fill="url(#sg10)" points="234.6,75.5 235.6,70.2 236.3,68.5 237,70.2 238,75.5"/>
<linearGradient id="sg11" x1="0" y1="0" x2="0" y2="1"><stop offset="0" stop-color="#40ff60"/><stop offset="0.2" stop-color="#18ff92"/><stop offset="0.5" stop-color="#00ffc8"/><stop offset="0.8" stop-color="#00eef7"/><stop offset="1" stop-color="#00c4ff"/></linearGradient><polygon fill="url(#sg11)" points="89.3,82 90.3,76.8 91,75 91.7,76.8 92.7,82"/>
<linearGradient id="sg12" x1="0" y1="0" x2="0" y2="1"><stop offset="0" stop-color="#b0ff10"/><stop offset="0.2" stop-color="#68ff40"/><stop offset="0.5" stop-color="#20ff88"/><stop offset="0.8" stop-color="#00ffe0"/><stop offset="1" stop-color="#00c4ff"/></linearGradient><polygon fill="url(#sg12)" points="61.3,102 62.3,96 63,94 63.7,96 64.7,102"/>
<linearGradient id="sg13" x1="0" y1="0" x2="0" y2="1"><stop offset="0" stop-color="#90ff20"/><stop offset="0.2" stop-color="#4aff58"/><stop offset="0.5" stop-color="#10ff9c"/><stop offset="0.8" stop-color="#00f9e8"/><stop offset="1" stop-color="#00c4ff"/></linearGradient><polygon fill="url(#sg13)" points="111.3,106.5 112.3,100.5 113,98.5 113.7,100.5 114.7,106.5"/>
<linearGradient id="sg14" x1="0" y1="0" x2="0" y2="1"><stop offset="0" stop-color="#40ff60"/><stop offset="0.2" stop-color="#18ff92"/><stop offset="0.5" stop-color="#00ffc8"/><stop offset="0.8" stop-color="#00eef7"/><stop offset="1" stop-color="#00c4ff"/></linearGradient><polygon fill="url(#sg14)" points="100.3,67 101.3,61.8 102,60 102.7,61.8 103.7,67"/>
<linearGradient id="sg15" x1="0" y1="0" x2="0" y2="1"><stop offset="0" stop-color="#68ff40"/><stop offset="0.2" stop-color="#30ff74"/><stop offset="0.5" stop-color="#00ffb0"/><stop offset="0.8" stop-color="#00f4f0"/><stop offset="1" stop-color="#00c4ff"/></linearGradient><polygon fill="url(#sg15)" points="226.3,63 227.3,57.8 228,56 228.7,57.8 229.7,63"/>
<polygon fill="#a3a3a3" points="10.3,63.4 12,61.6 13.2,66.2 14.7,65.9 15.9,69.1 17.3,67.2 18.9,71.4 20.4,68.9 22.1,73.7 23.6,69.1 25.1,75.4 26.2,74.1 28,78.1 29.4,77.8 31,80.5 32.4,81.5 33.9,83 35.2,81.7 36.3,85 37.8,84.3 39.6,88.1 40.6,87.5 42.2,90.8 44,88.8 45.2,93.2 46.9,91.5 48,95.2 49.9,94 50.8,98.6 52.3,96.4 54.1,101.1 55.4,99.7 56.9,103.2 58.2,103.9 60.1,106.6 61.3,104.8 63,108.6 64.1,108.2 65.8,110.6 67.2,111.8 68.8,113.6 69.9,110.1 71.6,115.9 73.1,116.4 74.4,118.5 74.4,127.6 10,72.3"/>
<polygon fill="#a6a6a6" points="74.4,118.6 76.3,117.8 78.1,118.1 80.2,114.6 81.9,118 83.8,116.1 85.7,116.5 87.4,111.9 89.4,116.2 91.3,112.3 93.1,115.7 94.9,110.6 97.2,114.2 99,112.2 101,113.2 102.9,108.5 104.7,111.6 106.1,109.9 108.4,111.7 110.2,109.3 112.1,110.8 114,108.2 115.6,109.2 117.9,107.6 119.5,109.3 121.7,107.8 123.3,108.8 125.2,106.6 127.3,107.5 129.1,106.6 130.8,107.3 133,106.2 134.6,107 136.4,106.7 138.7,106.2 140.5,105.4 142.3,105.4 144.3,105 146,106 148,105 149.7,105.3 151.5,104.2 153.4,104.8 155.3,103.4 157.1,104.3 158.9,103 161.3,103.7 163.1,102.2 165,103.2 166.7,102.3 168.6,102.3 170.7,101.4 172.1,101.5 174.1,100.7 176.1,101.4 178,101.4 180.1,101.5 181.7,100.3 183.7,100.8 185.5,99.2 187.5,99 189.5,93.7 191.2,98.9 193,93.9 194.7,97.2 196.9,93.7 198.7,96.7 200.4,92.8 202.4,95.5 204.6,93.4 206.1,94.7 208.1,92.2 210.3,94.8 211.8,90.2 213.6,94.2 215.5,89.5 217.4,94 219.3,91.1 221.4,92.4 223.1,86.9 225.2,91.4 227.2,87.4 228.9,92.1 230.7,88.3 232.4,91.3 234.2,87.1 236.4,90.2 238.3,88.4 240.1,89 241.9,87 243.9,89.3 245.9,86.8 247.7,87.5 249.4,85.5 251.5,86.9 253.6,84.8 255,86.6 257.3,82.8 259,86.6 259,95.4 74.4,127.6"/>
<polygon fill="#cdcdcd" points="10,70.7 74.4,124.6 74.4,126.9 10,71.9"/>
<polyline fill="none" stroke="#5e5e5e" stroke-width="0.7" points="10,70.7 74.4,124.6"/>
<polyline fill="none" stroke="#505050" stroke-width="0.8" points="10,72.1 74.4,127.3"/>
<polygon fill="#cdcdcd" points="74.4,124.6 259,92.7 259,94.7 74.4,127.2"/>
<polyline fill="none" stroke="#5e5e5e" stroke-width="0.7" points="74.4,124.6 259,92.7"/>
<polyline fill="none" stroke="#505050" stroke-width="0.8" points="74.4,127.4 259,95.1"/>
<line x1="74.4" y1="119.1" x2="74.4" y2="127.6" stroke="#6a6a6a" stroke-width="0.7"/>
<line x1="258.8" y1="86.6" x2="258.8" y2="95.4" stroke="#7a7a7a" stroke-width="0.7"/>
<line x1="219.3" y1="99.1" x2="219.3" y2="101.9" stroke="#666" stroke-width="0.6"/>
</g>
<g id="panel-b">
<clipPath id="c1"><polygon points="314.5,60.9 316,56 317.4,60.2 318.9,59.1 320.5,60 322.1,52.8 323.7,58.8 325.1,54.7 326.6,58.3 327.8,55.7 329.3,57.2 330.7,52.6 332.4,56.9 334,53.2 335.4,57.7 336.5,55.4 338.5,56.2 339.7,51.1 341.1,55.7 342.8,53.9 344.4,55.1 345.6,51.3 347.4,55.3 348.4,49.3 350.3,53.9 351.7,52.4 352.9,53.5 354.5,49.2 356.2,54.3 357.3,53.4 358.8,52.6 360.3,50.1 361.9,51.8 363.2,51 365,51.4 366.3,49.1 367.6,51 369.4,48.9 371.2,50.4 372.2,48.2 373.8,50.9 375.2,46.2 377,49.9 378.6,48.4 379.9,49.7 381.2,47.3 382.8,48.7 384.4,46 385.6,48.4 387,46.3 388.5,47.8 390.1,45.7 391.6,47.1 393.2,44.6 394.5,46.5 396,44.4 397.6,46.3 399.2,44.6 400.4,45.1 402.2,43.1 403.3,44.3 405.2,43.3 406.4,44.4 408.1,42.4 409.2,43.6 410.9,42.4 412.7,42.9 413.9,41.5 415.4,42.3 417,40.7 418.4,41.9 419.6,40.5 421.2,41.3 422.9,39.6 424.6,41 426.1,38.8 427.1,39.9 428.8,38.8 430.1,39.9 431.7,38.9 433.4,39.1 434.8,37.9 436.3,39 437.4,37.9 438.8,38.2 440.4,36.3 442.1,37.5 443.9,35.5 444.8,37.3 446.8,34.5 448.1,36.4 449.3,35.1 451.2,36.4 452.2,34.5 454.2,35.4 455.3,33.1 457.1,35.3 458.3,33.2 460,33.5 461.3,27.7 463.1,32.6 464.5,27.8 465.6,31.6 467.5,29.4 469,32.5 470.1,29.7 471.7,31.2 473.2,31.8 475,31.4 476.4,25.8 477.5,30.8 479,26.7 480.5,30 482,27.1 483.5,29.9 484.9,25.1 486.8,30.1 488.4,22.4 489.5,29.6 490.9,25 492.8,28.4 493.8,22.2 495.7,27 497,22.3 498.1,21.2 499.1,27 500.3,24.6 501.7,28.9 502.8,25.8 503.9,31.4 505.4,28.9 506.5,31.8 507.6,32.8 509,33.7 510.1,27.1 510.9,35.8 512.1,31.3 513.4,38.1 514.7,31.9 515.8,41.5 517,37.7 517.8,43 519.1,38.7 520.2,45.3 521.6,37.7 522.6,43.5 523.9,42.6 524.8,46.1 526,45.3 527.7,47.6 528.6,47.8 530,50 530.7,46.9 532,53.1 533.1,50.5 534.2,54.3 535.7,51.9 536.7,57.3 538.2,46.7 539.2,60 540.2,55.8 541.4,60.3 542.4,53.9 543.7,62.1 544.9,59.8 546.1,63.6 547.3,60.9 548.7,65 549.8,64.2 551,66.6 552.2,64.1 553.3,72.1 554.2,68.4 555.4,73.1 556.6,71.2 557.8,72.7 559,72.7 560.1,77.2 561.3,70.3 562.6,79.6 563.7,75.9 563,89.9 378.3,124.4 314.8,67.8"/></clipPath>
<g clip-path="url(#c1)"><g filter="url(#relief)">
<polygon fill="#2f0800" points="354.2,145 357.6,144.4 276.5,36.2 273.3,36.8"/>
<polygon fill="#2f0800" points="356.1,144.6 359.4,144 278.4,35.9 275.1,36.5"/>
<polygon fill="#2f0800" points="357.9,144.3 361.3,143.7 280.2,35.6 276.9,36.2"/>
<polygon fill="#2f0800" points="359.8,143.9 363.2,143.3 282,35.3 278.7,35.8"/>
<polygon fill="#2f0800" points="361.7,143.6 365,143 283.8,34.9 280.5,35.5"/>
<polygon fill="#2f0800" points="363.5,143.2 366.9,142.6 285.6,34.6 282.3,35.2"/>
<polygon fill="#2f0800" points="365.4,142.9 368.8,142.3 287.4,34.3 284.2,34.9"/>
<polygon fill="#2f0800" points="367.3,142.5 370.6,141.9 289.2,34 286,34.5"/>
<polygon fill="#2f0800" points="369.1,142.2 372.5,141.6 291,33.6 287.8,34.2"/>
<polygon fill="#2f0800" points="371,141.8 374.3,141.2 292.9,33.3 289.6,33.9"/>
<polygon fill="#2f0800" points="372.9,141.5 376.2,140.9 294.7,33 291.4,33.6"/>
<polygon fill="#2f0800" points="374.7,141.1 378.1,140.5 296.5,32.7 293.2,33.2"/>
<polygon fill="#2f0800" points="376.6,140.8 379.9,140.2 298.3,32.3 295,32.9"/>
<polygon fill="#2f0800" points="378.4,140.4 381.8,139.8 300.1,32 296.8,32.6"/>
<polygon fill="#2f0800" points="380.3,140.1 383.7,139.5 301.9,31.7 298.7,32.3"/>
<polygon fill="#2f0800" points="382.2,139.7 385.3,139.2 304,31.3 300.5,32"/>
<polygon fill="#2f0800" points="384,139.4 386.7,138.9 306.3,30.9 302.3,31.6"/>
<polygon fill="#2e0800" points="385.6,139.1 388,138.6 308.7,30.5 304.4,31.2"/>
<polygon fill="#2e0800" points="386.9,138.8 389.3,138.4 311.1,30.1 306.8,30.8"/>
<polygon fill="#2e0800" points="388.3,138.6 390.7,138.1 313.5,29.6 309.2,30.4"/>
<polygon fill="#2d0800" points="389.6,138.3 392,137.9 315.9,29.2 311.6,30"/>
<polygon fill="#2d0800" points="391,138.1 393.4,137.6 318.2,28.8 313.9,29.6"/>
<polygon fill="#2d0800" points="392.3,137.8 394.7,137.4 320.6,28.4 316.3,29.1"/>
<polygon fill="#2c0800" points="393.6,137.6 396.1,137.1 323,27.9 318.7,28.7"/>
<polygon fill="#2c0800" points="395,137.3 397.4,136.9 325.4,27.5 321.1,28.3"/>
<polygon fill="#2b0800" points="396.3,137.1 398.7,136.6 327.7,27.1 323.5,27.9"/>
<polygon fill="#2b0800" points="397.7,136.8 400.1,136.4 330.1,26.7 325.8,27.4"/>
<polygon fill="#2b0800" points="399,136.6 401.4,136.1 332.5,26.2 328.2,27"/>
<polygon fill="#2b0800" points="400.4,136.3 402.8,135.9 334.9,25.8 330.6,26.6"/>
<polygon fill="#2b0800" points="401.7,136.1 404.1,135.6 337.3,25.4 333,26.2"/>
<polygon fill="#2b0800" points="403,135.8 405.5,135.4 339.6,25 335.4,25.7"/>
<polygon fill="#2b0800" points="404.4,135.6 406.8,135.1 342,24.5 337.7,25.3"/>
<polygon fill="#2b0800" points="405.7,135.3 408.1,134.9 344.4,24.1 340.1,24.9"/>
<polygon fill="#2a0800" points="407.1,135.1 409.5,134.6 346.8,23.7 342.5,24.5"/>
<polygon fill="#2a0800" points="408.4,134.8 410.8,134.4 349.2,23.3 344.9,24"/>
<polygon fill="#2a0800" points="409.7,134.6 412.2,134.1 351.5,22.8 347.3,23.6"/>
<polygon fill="#2a0800" points="411.1,134.3 413.5,133.9 353.9,22.4 349.6,23.2"/>
<polygon fill="#2a0800" points="412.4,134.1 414.8,133.6 356.3,22 352,22.8"/>
<polygon fill="#2a0800" points="413.8,133.8 416.2,133.4 358.7,21.6 354.4,22.3"/>
<polygon fill="#2a0800" points="415.1,133.6 417.5,133.1 361.1,21.1 356.8,21.9"/>
<polygon fill="#2a0800" points="416.5,133.3 418.9,132.8 363.4,20.7 359.2,21.5"/>
<polygon fill="#2a0800" points="417.8,133 420.2,132.6 365.8,20.3 361.5,21.1"/>
<polygon fill="#290800" points="419.1,132.8 421.6,132.3 368.2,19.9 363.9,20.6"/>
<polygon fill="#2a0800" points="420.5,132.5 422.9,132.1 370.6,19.4 366.3,20.2"/>
<polygon fill="#2a0800" points="421.8,132.3 424.2,131.8 373,19 368.7,19.8"/>
<polygon fill="#2b0800" points="423.2,132 425.6,131.6 375.3,18.6 371,19.4"/>
<polygon fill="#2b0800" points="424.5,131.8 426.9,131.3 377.7,18.2 373.4,18.9"/>
<polygon fill="#2c0700" points="425.8,131.5 428.3,131.1 380.1,17.8 375.8,18.5"/>
<polygon fill="#2d0700" points="427.2,131.3 429.6,130.8 382.5,17.3 378.2,18.1"/>
<polygon fill="#2d0700" points="428.5,131 430.9,130.6 384.8,16.9 380.6,17.7"/>
<polygon fill="#2d0700" points="429.9,130.8 432.5,130.3 387,16.5 382.9,17.2"/>
<polygon fill="#2e0700" points="431.2,130.5 434.9,129.8 388.2,16.3 385.3,16.8"/>
<polygon fill="#310600" points="433,130.2 437.3,129.4 389.5,16.1 387.2,16.5"/>
<polygon fill="#330600" points="435.4,129.7 439.7,128.9 390.7,15.9 388.5,16.3"/>
<polygon fill="#350500" points="437.7,129.3 442,128.5 392,15.6 389.7,16"/>
<polygon fill="#360500" points="440.1,128.9 444.4,128 393.2,15.4 391,15.8"/>
<polygon fill="#350400" points="442.5,128.4 446.8,127.6 394.5,15.2 392.2,15.6"/>
<polygon fill="#340400" points="444.9,128 449.2,127.1 395.7,15 393.5,15.4"/>
<polygon fill="#350400" points="447.3,127.5 451.6,126.7 397,14.7 394.7,15.1"/>
<polygon fill="#360400" points="449.7,127.1 454,126.3 398.2,14.5 396,14.9"/>
<polygon fill="#360400" points="452.1,126.6 456.4,125.8 399.5,14.3 397.2,14.7"/>
<polygon fill="#350400" points="454.5,126.2 458.7,125.4 400.7,14.1 398.5,14.5"/>
<polygon fill="#370400" points="456.8,125.7 461.1,124.9 401.9,13.9 399.7,14.3"/>
<polygon fill="#360400" points="459.2,125.3 463.5,124.5 403.2,13.6 400.9,14"/>
<polygon fill="#350400" points="461.6,124.8 465.9,124 404.4,13.4 402.2,13.8"/>
<polygon fill="#360400" points="464,124.4 468.3,123.6 405.7,13.2 403.4,13.6"/>
<polygon fill="#360400" points="466.4,123.9 470.7,123.1 406.9,13 404.7,13.4"/>
<polygon fill="#360400" points="468.8,123.5 473.1,122.7 408.2,12.7 405.9,13.1"/>
<polygon fill="#380400" points="471.2,123 475.4,122.2 409.4,12.5 407.2,12.9"/>
<polygon fill="#380400" points="473.5,122.6 477.8,121.8 410.7,12.3 408.4,12.7"/>
<polygon fill="#380400" points="475.9,122.1 480.2,121.3 411.9,12.1 409.7,12.5"/>
<polygon fill="#360400" points="478.3,121.7 482.6,120.9 413.1,11.9 410.9,12.3"/>
<polygon fill="#370400" points="480.7,121.2 485,120.4 414.4,11.6 412.2,12"/>
<polygon fill="#370400" points="483.1,120.8 487.4,120 415.6,11.4 413.4,11.8"/>
<polygon fill="#370400" points="485.5,120.3 489.8,119.5 416.9,11.2 414.6,11.6"/>
<polygon fill="#360400" points="487.9,119.9 492.1,119.1 418.1,11 415.9,11.4"/>
<polygon fill="#370400" points="490.2,119.4 494.5,118.6 419.4,10.7 417.1,11.1"/>
<polygon fill="#370400" points="492.6,119 496.9,118.2 420.6,10.5 418.4,10.9"/>
<polygon fill="#370400" points="495,118.5 499.3,117.7 421.9,10.3 419.6,10.7"/>
<polygon fill="#360400" points="497.4,118.1 501.7,117.3 423.1,10.1 420.9,10.5"/>
<polygon fill="#370400" points="499.8,117.6 504.1,116.8 424.4,9.9 422.1,10.3"/>
<polygon fill="#360400" points="502.2,117.2 506.5,116.4 425.6,9.6 423.4,10"/>
<polygon fill="#370400" points="504.6,116.7 508.8,115.9 426.8,9.4 424.6,9.8"/>
<polygon fill="#360400" points="506.9,116.3 511.2,115.5 428.1,9.2 425.8,9.6"/>
<polygon fill="#370400" points="509.3,115.9 513.6,115 429.3,9 427.1,9.4"/>
<polygon fill="#360400" points="511.7,115.4 516,114.6 430.6,8.7 428.3,9.1"/>
<polygon fill="#360400" points="514.1,115 518.4,114.1 431.8,8.5 429.6,8.9"/>
<polygon fill="#370400" points="516.5,114.5 520.8,113.7 433.1,8.3 430.8,8.7"/>
<polygon fill="#360500" points="518.9,114.1 523.2,113.3 434.3,8.1 432.1,8.5"/>
<polygon fill="#320700" points="521.3,113.6 525.6,112.8 435.6,7.9 433.3,8.3"/>
<polygon fill="#310800" points="523.6,113.2 527.9,112.4 436.8,7.6 434.6,8"/>
<polygon fill="#330800" points="526,112.7 530.3,111.9 438.1,7.4 435.8,7.8"/>
<polygon fill="#340900" points="528.4,112.3 532.7,111.5 439.3,7.2 437.1,7.6"/>
<polygon fill="#370900" points="530.8,111.8 535.1,111 440.5,7 438.3,7.4"/>
<polygon fill="#350900" points="533.2,111.4 537.5,110.6 441.7,6.8 439.5,7.1"/>
<polygon fill="#340900" points="535.6,110.9 539.9,110.1 443,6.5 440.7,6.9"/>
<polygon fill="#320900" points="538,110.5 542.3,109.6 444.2,6.3 442,6.7"/>
<polygon fill="#310900" points="540.4,110 544.7,109.2 445.4,6.1 443.2,6.5"/>
<polygon fill="#300900" points="542.8,109.6 547.1,108.7 446.6,5.9 444.4,6.3"/>
<polygon fill="#300900" points="545.2,109.1 549.5,108.3 447.9,5.7 445.7,6.1"/>
<polygon fill="#300900" points="547.6,108.7 552,107.8 449.1,5.4 446.9,5.8"/>
<polygon fill="#300900" points="550,108.2 554.4,107.4 450.3,5.2 448.1,5.6"/>
<polygon fill="#300900" points="552.4,107.8 556.8,106.9 451.5,5 449.3,5.4"/>
<polygon fill="#300900" points="554.8,107.3 559.2,106.5 452.8,4.8 450.6,5.2"/>
<polygon fill="#300900" points="557.2,106.8 561.6,106 454,4.6 451.8,5"/>
<polygon fill="#300900" points="559.6,106.4 564,105.6 455.2,4.3 453,4.7"/>
<polygon fill="#300900" points="562,105.9 566.4,105.1 456.4,4.1 454.2,4.5"/>
<polygon fill="#300900" points="564.5,105.5 568.8,104.7 457.7,3.9 455.5,4.3"/>
<polygon fill="#300900" points="566.9,105 571.2,104.2 458.9,3.7 456.7,4.1"/>
<polygon fill="#300900" points="569.3,104.6 573.6,103.8 460.1,3.5 457.9,3.9"/>
<polygon fill="#300900" points="571.7,104.1 576,103.3 461.3,3.3 459.1,3.6"/>
<polygon fill="#300900" points="574.1,103.7 578.4,102.9 462.6,3 460.4,3.4"/>
<polygon fill="#300a00" points="576.5,103.2 580.8,102.4 463.8,2.8 461.6,3.2"/>
<polygon fill="#300a00" points="578.9,102.8 583.2,102 465,2.6 462.8,3"/>
<polygon fill="#300a00" points="581.3,102.3 585.6,101.5 466.2,2.4 464,2.8"/>
<polygon fill="#2f0a00" points="583.7,101.9 587.8,101.1 467.7,2.1 465.3,2.6"/>
<polygon fill="#2f0a00" points="586.1,101.4 589.7,100.8 469.5,1.8 466.5,2.3"/>
<polygon fill="#2f0a00" points="588.2,101 591.5,100.4 471.3,1.5 468.1,2.1"/>
<polygon fill="#2f0a00" points="590,100.7 593.4,100.1 473.1,1.2 469.9,1.7"/>
<polygon fill="#2f0a00" points="591.9,100.3 595.2,99.7 475,0.8 471.7,1.4"/>
<polygon fill="#2f0a00" points="593.8,100 597.1,99.4 476.8,0.5 473.5,1.1"/>
<polygon fill="#2f0a00" points="595.6,99.6 599,99 478.6,0.2 475.3,0.8"/>
<polygon fill="#2f0a00" points="597.5,99.3 600.8,98.7 480.4,-0.1 477.1,0.4"/>
<polygon fill="#2f0a00" points="599.3,98.9 602.7,98.3 482.2,-0.5 478.9,0.1"/>
<polygon fill="#2f0a00" points="601.2,98.6 604.6,98 484,-0.8 480.8,-0.2"/>
<polygon fill="#2f0a00" points="603.1,98.2 606.4,97.6 485.8,-1.1 482.6,-0.5"/>
<polygon fill="#2f0a00" points="604.9,97.9 608.3,97.3 487.6,-1.4 484.4,-0.9"/>
<polygon fill="#2f0a00" points="606.8,97.5 610.2,96.9 489.5,-1.8 486.2,-1.2"/>
<polygon fill="#2f0a00" points="608.7,97.2 612,96.6 491.3,-2.1 488,-1.5"/>
<polygon fill="#2f0a00" points="610.5,96.8 613.9,96.2 493.1,-2.4 489.8,-1.8"/>
<polygon fill="#2f0a00" points="612.4,96.5 615.8,95.9 494.9,-2.7 491.6,-2.1"/>
<polygon fill="#2f0a00" points="614.3,96.1 617.6,95.5 496.7,-3.1 493.4,-2.5"/>
</g></g>
<defs>
<linearGradient id="kg1_0" x1="0" y1="0" x2="0" y2="1"><stop offset="0" stop-color="#00f2f2"/><stop offset="0.45" stop-color="#00a9ff"/><stop offset="0.8" stop-color="#0055ff" stop-opacity="0.85"/><stop offset="1" stop-color="#0055ff" stop-opacity="0"/></linearGradient>
<path id="k100" fill="url(#kg1_0)" d="M0 -0.5C0.3 1.9 1.4 3.8 2.5 6.2L-2.5 6.2C-1.4 3.8 -0.3 1.9 0 -0.5Z"/>
<path id="k101" fill="url(#kg1_0)" d="M0 -0.5C0.3 2.5 1.8 5.1 3.2 8.2L-3.2 8.2C-1.8 5.1 -0.3 2.5 0 -0.5Z"/>
<linearGradient id="kg1_1" x1="0" y1="0" x2="0" y2="1"><stop offset="0" stop-color="#00ffd8"/><stop offset="0.45" stop-color="#00bcff"/><stop offset="0.8" stop-color="#0055ff" stop-opacity="0.85"/><stop offset="1" stop-color="#0055ff" stop-opacity="0"/></linearGradient>
<path id="k110" fill="url(#kg1_1)" d="M0 -0.5C0.3 1.9 1.4 3.8 2.5 6.2L-2.5 6.2C-1.4 3.8 -0.3 1.9 0 -0.5Z"/>
<path id="k111" fill="url(#kg1_1)" d="M0 -0.5C0.3 2.5 1.8 5.1 3.2 8.2L-3.2 8.2C-1.8 5.1 -0.3 2.5 0 -0.5Z"/>
<linearGradient id="kg1_2" x1="0" y1="0" x2="0" y2="1"><stop offset="0" stop-color="#00ffb4"/><stop offset="0.45" stop-color="#00ceff"/><stop offset="0.8" stop-color="#0055ff" stop-opacity="0.85"/><stop offset="1" stop-color="#0055ff" stop-opacity="0"/></linearGradient>
<path id="k120" fill="url(#kg1_2)" d="M0 -0.5C0.3 1.9 1.4 3.8 2.5 6.2L-2.5 6.2C-1.4 3.8 -0.3 1.9 0 -0.5Z"/>
<path id="k121" fill="url(#kg1_2)" d="M0 -0.5C0.3 2.5 1.8 5.1 3.2 8.2L-3.2 8.2C-1.8 5.1 -0.3 2.5 0 -0.5Z"/>
<linearGradient id="kg1_3" x1="0" y1="0" x2="0" y2="1"><stop offset="0" stop-color="#15ff96"/><stop offset="0.45" stop-color="#00e1ff"/><stop offset="0.8" stop-color="#0055ff" stop-opacity="0.85"/><stop offset="1" stop-color="#0055ff" stop-opacity="0"/></linearGradient>
<path id="k130" fill="url(#kg1_3)" d="M0 -0.5C0.3 1.9 1.4 3.8 2.5 6.2L-2.5 6.2C-1.4 3.8 -0.3 1.9 0 -0.5Z"/>
<path id="k131" fill="url(#kg1_3)" d="M0 -0.5C0.3 2.5 1.8 5.1 3.2 8.2L-3.2 8.2C-1.8 5.1 -0.3 2.5 0 -0.5Z"/>
<linearGradient id="kg1_4" x1="0" y1="0" x2="0" y2="1"><stop offset="0" stop-color="#2dff78"/><stop offset="0.45" stop-color="#00f0f5"/><stop offset="0.8" stop-color="#0055ff" stop-opacity="0.85"/><stop offset="1" stop-color="#0055ff" stop-opacity="0"/></linearGradient>
<path id="k140" fill="url(#kg1_4)" d="M0 -0.5C0.3 1.9 1.4 3.8 2.5 6.2L-2.5 6.2C-1.4 3.8 -0.3 1.9 0 -0.5Z"/>
<path id="k141" fill="url(#kg1_4)" d="M0 -0.5C0.3 2.5 1.8 5.1 3.2 8.2L-3.2 8.2C-1.8 5.1 -0.3 2.5 0 -0.5Z"/>
<linearGradient id="kg1_5" x1="0" y1="0" x2="0" y2="1"><stop offset="0" stop-color="#46ff5c"/><stop offset="0.45" stop-color="#00fce5"/><stop offset="0.8" stop-color="#0055ff" stop-opacity="0.85"/><stop offset="1" stop-color="#0055ff" stop-opacity="0"/></linearGradient>
<path id="k150" fill="url(#kg1_5)" d="M0 -0.5C0.3 1.9 1.4 3.8 2.5 6.2L-2.5 6.2C-1.4 3.8 -0.3 1.9 0 -0.5Z"/>
<path id="k151" fill="url(#kg1_5)" d="M0 -0.5C0.3 2.5 1.8 5.1 3.2 8.2L-3.2 8.2C-1.8 5.1 -0.3 2.5 0 -0.5Z"/>
<linearGradient id="kg1_6" x1="0" y1="0" x2="0" y2="1"><stop offset="0" stop-color="#63ff44"/><stop offset="0.45" stop-color="#00ffce"/><stop offset="0.8" stop-color="#0055ff" stop-opacity="0.85"/><stop offset="1" stop-color="#0055ff" stop-opacity="0"/></linearGradient>
<path id="k160" fill="url(#kg1_6)" d="M0 -0.5C0.3 1.9 1.4 3.8 2.5 6.2L-2.5 6.2C-1.4 3.8 -0.3 1.9 0 -0.5Z"/>
<path id="k161" fill="url(#kg1_6)" d="M0 -0.5C0.3 2.5 1.8 5.1 3.2 8.2L-3.2 8.2C-1.8 5.1 -0.3 2.5 0 -0.5Z"/>
<linearGradient id="kg1_7" x1="0" y1="0" x2="0" y2="1"><stop offset="0" stop-color="#81ff2c"/><stop offset="0.45" stop-color="#00ffb5"/><stop offset="0.8" stop-color="#0055ff" stop-opacity="0.85"/><stop offset="1" stop-color="#0055ff" stop-opacity="0"/></linearGradient>
<path id="k170" fill="url(#kg1_7)" d="M0 -0.5C0.3 1.9 1.4 3.8 2.5 6.2L-2.5 6.2C-1.4 3.8 -0.3 1.9 0 -0.5Z"/>
<path id="k171" fill="url(#kg1_7)" d="M0 -0.5C0.3 2.5 1.8 5.1 3.2 8.2L-3.2 8.2C-1.8 5.1 -0.3 2.5 0 -0.5Z"/>
</defs>
<use href="#k160" x="480.6" y="26.5"/>
<use href="#k110" x="337.5" y="56.3"/>
<use href="#k110" x="335.4" y="56.9"/>
<use href="#k110" x="339.5" y="56.4"/>
<use href="#k141" x="498.1" y="24.9"/>
<use href="#k151" x="349.4" y="51.5"/>
<use href="#k141" x="493" y="26.8"/>
<use href="#k100" x="398.6" y="47.4"/>
<use href="#k120" x="326.7" y="58.5"/>
<use href="#k130" x="340.9" y="55"/>
<use href="#k130" x="324.3" y="57.8"/>
<use href="#k130" x="474" y="30.9"/>
<use href="#k120" x="471" y="32.8"/>
<use href="#k110" x="333.6" y="58"/>
<use href="#k130" x="325.7" y="57.7"/>
<use href="#k120" x="474.8" y="32.5"/>
<use href="#k171" x="492.6" y="24.8"/>
<use href="#k100" x="458.9" y="36.9"/>
<use href="#k141" x="467.6" y="32.6"/>
<use href="#k100" x="347.5" y="57"/>
<use href="#k130" x="355.6" y="53.5"/>
<use href="#k151" x="466.4" y="32"/>
<use href="#k150" x="497.1" y="26.9"/>
<use href="#k141" x="372.9" y="50.3"/>
<use href="#k140" x="493" y="28.8"/>
<use href="#k141" x="349.3" y="54.9"/>
<use href="#k130" x="367.8" y="53"/>
<use href="#k120" x="360.2" y="55.1"/>
<use href="#k100" x="399.1" y="49.7"/>
<use href="#k120" x="361" y="55.6"/>
<use href="#k120" x="382.7" y="52.2"/>
<use href="#k110" x="357.2" y="57.8"/>
<use href="#k120" x="490.3" y="33.1"/>
<use href="#k120" x="393.9" y="51"/>
<use href="#k161" x="481.7" y="32"/>
<use href="#k120" x="481.3" y="35.3"/>
<use href="#k130" x="501" y="31.3"/>
<use href="#k120" x="465.6" y="38.7"/>
<use href="#k150" x="472.2" y="34.6"/>
<use href="#k140" x="325.5" y="61.7"/>
<use href="#k130" x="342" y="60.1"/>
<use href="#k120" x="329.6" y="63.2"/>
<use href="#k140" x="358.1" y="56.7"/>
<use href="#k110" x="324.6" y="65.1"/>
<use href="#k100" x="395.4" y="53.7"/>
<use href="#k141" x="465" y="38.1"/>
<use href="#k161" x="501.5" y="30.2"/>
<use href="#k151" x="323.7" y="63.5"/>
<use href="#k150" x="502.9" y="31.2"/>
<use href="#k100" x="364.7" y="60"/>
<use href="#k141" x="346.3" y="59.9"/>
<use href="#k151" x="325.3" y="63.8"/>
<use href="#k110" x="364.3" y="60.3"/>
<use href="#k110" x="336.8" y="65.1"/>
<use href="#k130" x="474.1" y="39.2"/>
<use href="#k110" x="343.6" y="64.9"/>
<use href="#k141" x="380.8" y="55.9"/>
<use href="#k100" x="373.5" y="60"/>
<use href="#k120" x="387.5" y="56.2"/>
<use href="#k100" x="399.9" y="55.9"/>
<use href="#k141" x="493" y="35.8"/>
<use href="#k140" x="496.5" y="35.7"/>
<use href="#k100" x="381" y="60"/>
<use href="#k130" x="508.8" y="34.8"/>
<use href="#k130" x="477" y="40.6"/>
<use href="#k110" x="343.6" y="66.2"/>
<use href="#k120" x="485.2" y="40.9"/>
<use href="#k171" x="488" y="36.5"/>
<use href="#k110" x="372.9" y="62.4"/>
<use href="#k141" x="491.5" y="38.3"/>
<use href="#k120" x="345.8" y="65.9"/>
<use href="#k130" x="494.9" y="39"/>
<use href="#k140" x="510.9" y="35.2"/>
<use href="#k141" x="346.8" y="65.4"/>
<use href="#k141" x="387.6" y="58"/>
<use href="#k130" x="470.9" y="43.9"/>
<use href="#k141" x="347.7" y="64.8"/>
<use href="#k151" x="481.2" y="40.2"/>
<use href="#k110" x="386.4" y="61.4"/>
<use href="#k100" x="404" y="59.1"/>
<use href="#k141" x="500.9" y="38.5"/>
<use href="#k130" x="498.3" y="39.8"/>
<use href="#k120" x="404.3" y="58.2"/>
<use href="#k100" x="392.4" y="61.5"/>
<use href="#k110" x="346.8" y="68.9"/>
<use href="#k151" x="350.4" y="65.6"/>
<use href="#k110" x="361.9" y="66.5"/>
<use href="#k110" x="387.6" y="61.7"/>
<use href="#k130" x="380.6" y="62"/>
<use href="#k120" x="479" y="44.9"/>
<use href="#k110" x="351.2" y="69"/>
<use href="#k151" x="338.4" y="68.3"/>
<use href="#k120" x="499.6" y="41.7"/>
<use href="#k120" x="503.4" y="41.5"/>
<use href="#k100" x="370.8" y="67.2"/>
<use href="#k120" x="500.2" y="42.2"/>
<use href="#k110" x="368.6" y="66.9"/>
<use href="#k120" x="351.7" y="69.5"/>
<use href="#k120" x="400.5" y="60.2"/>
<use href="#k170" x="477.6" y="42.1"/>
<use href="#k120" x="348.1" y="70.2"/>
<use href="#k161" x="490.8" y="40.9"/>
<use href="#k120" x="490.6" y="45.1"/>
<use href="#k120" x="492.7" y="45"/>
<use href="#k130" x="387.7" y="63.8"/>
<use href="#k151" x="335" y="71.6"/>
<use href="#k150" x="499.6" y="41.6"/>
<use href="#k100" x="398" y="64.9"/>
<use href="#k110" x="350.3" y="72.7"/>
<use href="#k120" x="491.5" y="46.8"/>
<use href="#k130" x="506.1" y="43.4"/>
<use href="#k100" x="373" y="69.6"/>
<use href="#k140" x="378.2" y="66.6"/>
<use href="#k130" x="476.7" y="49"/>
<use href="#k110" x="344.8" y="75.4"/>
<use href="#k130" x="337.5" y="74.9"/>
<use href="#k110" x="389.8" y="67.3"/>
<use href="#k140" x="505" y="44.5"/>
<use href="#k110" x="406.5" y="64.5"/>
<use href="#k141" x="371.1" y="68.4"/>
<use href="#k100" x="378.9" y="71.3"/>
<use href="#k120" x="502.1" y="48.4"/>
<use href="#k141" x="388.8" y="67.1"/>
<use href="#k120" x="385.8" y="69.3"/>
<use href="#k120" x="347.2" y="76.2"/>
<use href="#k100" x="392.7" y="69.7"/>
<use href="#k120" x="401.6" y="67.2"/>
<use href="#k110" x="397.2" y="68.6"/>
<use href="#k130" x="504.5" y="48.3"/>
<use href="#k130" x="344" y="77.3"/>
<use href="#k110" x="348.9" y="77.9"/>
<use href="#k140" x="499.9" y="48.3"/>
<use href="#k130" x="486.7" y="52.4"/>
<use href="#k120" x="500.9" y="50.1"/>
<use href="#k110" x="350.6" y="78.1"/>
<use href="#k120" x="341.5" y="79.1"/>
<use href="#k141" x="389.9" y="68.9"/>
<use href="#k151" x="351.2" y="75.4"/>
<use href="#k161" x="497.3" y="47.8"/>
<use href="#k141" x="518.3" y="45.5"/>
<use href="#k141" x="506.6" y="48.1"/>
<use href="#k120" x="517.7" y="47.9"/>
<use href="#k110" x="369.7" y="76.2"/>
<use href="#k110" x="392.7" y="71.9"/>
<use href="#k130" x="390.5" y="70.8"/>
<use href="#k120" x="494" y="53.3"/>
<use href="#k110" x="350.5" y="79.7"/>
<use href="#k120" x="494.8" y="52.7"/>
<use href="#k161" x="504.9" y="48"/>
<use href="#k141" x="521.5" y="46.6"/>
<use href="#k130" x="523.3" y="47.7"/>
<use href="#k170" x="485.5" y="50.9"/>
<use href="#k100" x="379.3" y="76.5"/>
<use href="#k130" x="485.6" y="54.5"/>
<use href="#k120" x="496.7" y="54.5"/>
<use href="#k120" x="489.8" y="55.5"/>
<use href="#k130" x="513.6" y="50.5"/>
<use href="#k100" x="384.1" y="76.5"/>
<use href="#k130" x="361.4" y="78.2"/>
<use href="#k171" x="522" y="46.6"/>
<use href="#k110" x="386.7" y="76.3"/>
<use href="#k100" x="410.5" y="73"/>
<use href="#k151" x="510.3" y="50.5"/>
<use href="#k110" x="375.8" y="78.5"/>
<use href="#k120" x="501.1" y="55.2"/>
<use href="#k120" x="396" y="74.4"/>
<use href="#k130" x="357.2" y="80.4"/>
<use href="#k100" x="395.3" y="76.8"/>
<use href="#k100" x="406.6" y="74.8"/>
<use href="#k110" x="410.5" y="73.6"/>
<use href="#k140" x="507.9" y="54.2"/>
<use href="#k100" x="404.9" y="77.2"/>
<use href="#k110" x="411.5" y="75.5"/>
<use href="#k120" x="511.6" y="56.1"/>
<use href="#k120" x="360.2" y="83.3"/>
<use href="#k110" x="390.2" y="79.2"/>
<use href="#k100" x="374" y="82.8"/>
<use href="#k100" x="378.5" y="82.6"/>
<use href="#k110" x="360.9" y="85.4"/>
<use href="#k160" x="509.1" y="54.1"/>
<use href="#k110" x="382.9" y="81.7"/>
<use href="#k130" x="398.7" y="77.6"/>
<use href="#k150" x="492.3" y="58.3"/>
<use href="#k150" x="354.2" y="83.8"/>
<use href="#k110" x="399.6" y="79.5"/>
<use href="#k130" x="349" y="87.3"/>
<use href="#k110" x="372.1" y="84.4"/>
<use href="#k130" x="514.5" y="57"/>
<use href="#k130" x="507.8" y="58.9"/>
<use href="#k130" x="528.2" y="55.1"/>
<use href="#k120" x="517.3" y="58.4"/>
<use href="#k151" x="353.9" y="85.3"/>
<use href="#k120" x="399.7" y="80.1"/>
<use href="#k130" x="485.8" y="63.6"/>
<use href="#k110" x="413" y="79"/>
<use href="#k100" x="395.6" y="82.7"/>
<use href="#k110" x="402.2" y="80.5"/>
<use href="#k160" x="518.5" y="55.7"/>
<use href="#k120" x="502.1" y="62.4"/>
<use href="#k120" x="500.1" y="63"/>
<use href="#k120" x="524.1" y="58.6"/>
<use href="#k100" x="379.2" y="86.2"/>
<use href="#k120" x="406.6" y="79.8"/>
<use href="#k120" x="396.9" y="81.7"/>
<use href="#k160" x="524.7" y="55.4"/>
<use href="#k130" x="487.2" y="64.7"/>
<use href="#k100" x="365.5" y="89.2"/>
<use href="#k120" x="519" y="60.2"/>
<use href="#k151" x="509.6" y="59.8"/>
<use href="#k151" x="507.7" y="60.2"/>
<use href="#k130" x="378.8" y="85"/>
<use href="#k141" x="393.2" y="82.2"/>
<use href="#k171" x="518.7" y="57"/>
<use href="#k141" x="370.6" y="86.7"/>
<use href="#k110" x="379.3" y="87.9"/>
<use href="#k151" x="513.2" y="59.9"/>
<use href="#k110" x="377" y="88.6"/>
<use href="#k120" x="379.3" y="87.2"/>
<use href="#k130" x="530.5" y="59.2"/>
<use href="#k130" x="504.5" y="63.5"/>
<use href="#k160" x="493.4" y="63.5"/>
<use href="#k120" x="488" y="68.2"/>
<use href="#k141" x="494.5" y="65.5"/>
<use href="#k110" x="369.9" y="90.4"/>
<use href="#k100" x="382.2" y="89.2"/>
<use href="#k110" x="356.5" y="93.6"/>
<use href="#k100" x="386.2" y="89.1"/>
<use href="#k110" x="487.4" y="70"/>
<use href="#k141" x="368.9" y="89"/>
<use href="#k110" x="373.6" y="91.3"/>
<use href="#k110" x="385.4" y="88.9"/>
<use href="#k120" x="488.7" y="69.5"/>
<use href="#k151" x="521" y="60.5"/>
<use href="#k141" x="364.2" y="90.5"/>
<use href="#k100" x="373.5" y="92.3"/>
<use href="#k151" x="527.9" y="60.2"/>
<use href="#k120" x="538" y="61.1"/>
<use href="#k110" x="389.3" y="89"/>
<use href="#k110" x="385.8" y="90.2"/>
<use href="#k130" x="516.9" y="64.3"/>
<use href="#k150" x="500.9" y="66.5"/>
<use href="#k130" x="411.7" y="84.7"/>
<use href="#k171" x="529.4" y="59.4"/>
<use href="#k110" x="360.6" y="95.3"/>
<use href="#k150" x="528.4" y="62.2"/>
<use href="#k120" x="379.2" y="92.5"/>
<use href="#k130" x="504" y="68.6"/>
<use href="#k130" x="521.4" y="65.7"/>
<use href="#k140" x="399.7" y="86.7"/>
<use href="#k130" x="359.1" y="95.1"/>
<use href="#k130" x="391.1" y="89.7"/>
<use href="#k140" x="394.6" y="88.2"/>
<use href="#k100" x="409.5" y="89.3"/>
<use href="#k130" x="533.8" y="64"/>
<use href="#k120" x="386.3" y="92.1"/>
<use href="#k110" x="396.9" y="91.6"/>
<use href="#k110" x="386.3" y="93"/>
<use href="#k150" x="535.9" y="63"/>
<use href="#k110" x="404.4" y="90"/>
<use href="#k141" x="502.1" y="70.2"/>
<use href="#k110" x="363.8" y="97.8"/>
<use href="#k120" x="404.7" y="89.6"/>
<use href="#k130" x="363.2" y="97.4"/>
<use href="#k120" x="507.4" y="71.8"/>
<use href="#k110" x="377.7" y="97.3"/>
<use href="#k110" x="393.1" y="94.4"/>
<use href="#k110" x="380.2" y="96.7"/>
<use href="#k110" x="393.1" y="94.6"/>
<use href="#k120" x="538.1" y="67.3"/>
<use href="#k130" x="401.7" y="91.7"/>
<use href="#k130" x="495.5" y="74.9"/>
<use href="#k120" x="515.2" y="72.7"/>
<use href="#k160" x="504.5" y="71.3"/>
<use href="#k100" x="405.1" y="94.4"/>
<use href="#k130" x="520.5" y="70.6"/>
<use href="#k140" x="507.2" y="73.4"/>
<use href="#k100" x="396.9" y="96.4"/>
<use href="#k150" x="539.4" y="66.3"/>
<use href="#k130" x="496.3" y="76.2"/>
<use href="#k120" x="531.3" y="71.4"/>
<use href="#k110" x="375.8" y="101.1"/>
<use href="#k110" x="411.8" y="95.3"/>
<use href="#k130" x="374.3" y="99.8"/>
<use href="#k130" x="402.5" y="95"/>
<use href="#k120" x="407.5" y="95.7"/>
<use href="#k120" x="409.6" y="95.2"/>
<use href="#k170" x="533.1" y="68.5"/>
<use href="#k120" x="375.7" y="101.1"/>
<use href="#k141" x="538.1" y="70.7"/>
<use href="#k161" x="528.5" y="71.5"/>
<use href="#k110" x="410.5" y="97.1"/>
<use href="#k130" x="550.5" y="69.6"/>
<use href="#k120" x="500.9" y="80"/>
<use href="#k151" x="513" y="75"/>
<use href="#k130" x="537.4" y="72.5"/>
<use href="#k141" x="385.6" y="99.2"/>
<use href="#k110" x="385.1" y="102.6"/>
<use href="#k110" x="396.5" y="100.8"/>
<use href="#k130" x="518" y="77.5"/>
<use href="#k120" x="549.3" y="72.4"/>
<use href="#k141" x="504.4" y="78.5"/>
<use href="#k160" x="505.8" y="77.3"/>
<use href="#k151" x="508.8" y="77.9"/>
<use href="#k120" x="530.6" y="76.5"/>
<use href="#k120" x="388.8" y="102.8"/>
<use href="#k130" x="538.2" y="74.4"/>
<use href="#k120" x="519.8" y="78.8"/>
<use href="#k120" x="398.9" y="101.4"/>
<use href="#k130" x="536.2" y="75.2"/>
<use href="#k120" x="550" y="73.1"/>
<use href="#k100" x="420.7" y="99.2"/>
<use href="#k141" x="379" y="103"/>
<use href="#k171" x="523.1" y="74.8"/>
<use href="#k110" x="384.9" y="104.9"/>
<use href="#k120" x="548.9" y="74.7"/>
<use href="#k110" x="386.1" y="106.3"/>
<use href="#k120" x="414.9" y="99.7"/>
<use href="#k161" x="537.5" y="74.3"/>
<use href="#k120" x="529.6" y="79.3"/>
<use href="#k141" x="399.9" y="101.3"/>
<use href="#k100" x="382.6" y="107.7"/>
<use href="#k140" x="555.6" y="73"/>
<use href="#k130" x="382" y="106.3"/>
<use href="#k140" x="372.3" y="106.5"/>
<use href="#k140" x="526.2" y="79.1"/>
<use href="#k141" x="551.4" y="74.1"/>
<use href="#k141" x="548.6" y="75.2"/>
<use href="#k100" x="410.8" y="103.7"/>
<use href="#k171" x="528.4" y="76.5"/>
<use href="#k141" x="392.8" y="104.2"/>
<use href="#k130" x="546.1" y="77.3"/>
<use href="#k150" x="539.4" y="76.5"/>
<use href="#k171" x="529.4" y="77"/>
<use href="#k141" x="505.5" y="84.6"/>
<use href="#k110" x="386.9" y="109.2"/>
<use href="#k100" x="416.5" y="104.7"/>
<use href="#k120" x="558.9" y="76.8"/>
<use href="#k120" x="536" y="81.6"/>
<use href="#k130" x="543.8" y="79.4"/>
<use href="#k110" x="504.5" y="88.4"/>
<use href="#k120" x="541.8" y="80.6"/>
<use href="#k120" x="554.8" y="78.2"/>
<use href="#k171" x="515.2" y="81.3"/>
<use href="#k130" x="509.3" y="86.3"/>
<use href="#k120" x="545.7" y="80.6"/>
<use href="#k110" x="394.3" y="109.3"/>
<use href="#k120" x="399.1" y="107.7"/>
<use href="#k141" x="410.5" y="104"/>
<use href="#k171" x="557.9" y="74.4"/>
<use href="#k141" x="377" y="110.6"/>
<use href="#k150" x="561" y="76.3"/>
<use href="#k100" x="407.2" y="108.5"/>
<use href="#k110" x="414.1" y="106.4"/>
<use href="#k120" x="402.3" y="108.2"/>
<use href="#k140" x="398.4" y="107"/>
<use href="#k100" x="387.5" y="112.8"/>
<use href="#k120" x="411.1" y="107.2"/>
<use href="#k120" x="541.1" y="84.1"/>
<use href="#k110" x="407" y="109.8"/>
<linearGradient id="sg16" x1="0" y1="0" x2="0" y2="1"><stop offset="0" stop-color="#e8ff00"/><stop offset="0.2" stop-color="#a0ff18"/><stop offset="0.5" stop-color="#40ff60"/><stop offset="0.8" stop-color="#00ffc8"/><stop offset="1" stop-color="#00c4ff"/></linearGradient><polygon fill="url(#sg16)" points="477.3,33 478.3,26.2 479,24 479.7,26.2 480.7,33"/>
<linearGradient id="sg17" x1="0" y1="0" x2="0" y2="1"><stop offset="0" stop-color="#90ff20"/><stop offset="0.2" stop-color="#4aff58"/><stop offset="0.5" stop-color="#10ff9c"/><stop offset="0.8" stop-color="#00f9e8"/><stop offset="1" stop-color="#00c4ff"/></linearGradient><polygon fill="url(#sg17)" points="473.6,33 474.6,27 475.3,25 476,27 477,33"/>
<linearGradient id="sg18" x1="0" y1="0" x2="0" y2="1"><stop offset="0" stop-color="#68ff40"/><stop offset="0.2" stop-color="#30ff74"/><stop offset="0.5" stop-color="#00ffb0"/><stop offset="0.8" stop-color="#00f4f0"/><stop offset="1" stop-color="#00c4ff"/></linearGradient><polygon fill="url(#sg18)" points="491.3,30.5 492.3,23.8 493,21.5 493.7,23.8 494.7,30.5"/>
<linearGradient id="sg19" x1="0" y1="0" x2="0" y2="1"><stop offset="0" stop-color="#b0ff10"/><stop offset="0.2" stop-color="#68ff40"/><stop offset="0.5" stop-color="#20ff88"/><stop offset="0.8" stop-color="#00ffe0"/><stop offset="1" stop-color="#00c4ff"/></linearGradient><polygon fill="url(#sg19)" points="463.1,48 464.1,42 464.8,40 465.5,42 466.5,48"/>
<linearGradient id="sg20" x1="0" y1="0" x2="0" y2="1"><stop offset="0" stop-color="#e8ff00"/><stop offset="0.2" stop-color="#a0ff18"/><stop offset="0.5" stop-color="#40ff60"/><stop offset="0.8" stop-color="#00ffc8"/><stop offset="1" stop-color="#00c4ff"/></linearGradient><polygon fill="url(#sg20)" points="497,51.6 498,44.9 498.7,42.6 499.4,44.9 500.4,51.6"/>
<linearGradient id="sg21" x1="0" y1="0" x2="0" y2="1"><stop offset="0" stop-color="#b0ff10"/><stop offset="0.2" stop-color="#68ff40"/><stop offset="0.5" stop-color="#20ff88"/><stop offset="0.8" stop-color="#00ffe0"/><stop offset="1" stop-color="#00c4ff"/></linearGradient><polygon fill="url(#sg21)" points="483.2,62 484.2,56 484.9,54 485.6,56 486.6,62"/>
<linearGradient id="sg22" x1="0" y1="0" x2="0" y2="1"><stop offset="0" stop-color="#e8ff00"/><stop offset="0.2" stop-color="#a0ff18"/><stop offset="0.5" stop-color="#40ff60"/><stop offset="0.8" stop-color="#00ffc8"/><stop offset="1" stop-color="#00c4ff"/></linearGradient><polygon fill="url(#sg22)" points="517,69 518,62.2 518.7,60 519.4,62.2 520.4,69"/>
<linearGradient id="sg23" x1="0" y1="0" x2="0" y2="1"><stop offset="0" stop-color="#68ff40"/><stop offset="0.2" stop-color="#30ff74"/><stop offset="0.5" stop-color="#00ffb0"/><stop offset="0.8" stop-color="#00f4f0"/><stop offset="1" stop-color="#00c4ff"/></linearGradient><polygon fill="url(#sg23)" points="509.3,52 510.3,46 511,44 511.7,46 512.7,52"/>
<linearGradient id="sg24" x1="0" y1="0" x2="0" y2="1"><stop offset="0" stop-color="#ffff00"/><stop offset="0.2" stop-color="#b8ff0c"/><stop offset="0.5" stop-color="#54ff50"/><stop offset="0.8" stop-color="#00ffbc"/><stop offset="1" stop-color="#00c4ff"/></linearGradient><polygon fill="url(#sg24)" points="508.7,75 509.7,67.5 510.4,65 511.1,67.5 512.1,75"/>
<linearGradient id="sg25" x1="0" y1="0" x2="0" y2="1"><stop offset="0" stop-color="#e8ff00"/><stop offset="0.2" stop-color="#a0ff18"/><stop offset="0.5" stop-color="#40ff60"/><stop offset="0.8" stop-color="#00ffc8"/><stop offset="1" stop-color="#00c4ff"/></linearGradient><polygon fill="url(#sg25)" points="516.5,75.5 517.5,68.8 518.2,66.5 518.9,68.8 519.9,75.5"/>
<linearGradient id="sg26" x1="0" y1="0" x2="0" y2="1"><stop offset="0" stop-color="#b0ff10"/><stop offset="0.2" stop-color="#68ff40"/><stop offset="0.5" stop-color="#20ff88"/><stop offset="0.8" stop-color="#00ffe0"/><stop offset="1" stop-color="#00c4ff"/></linearGradient><polygon fill="url(#sg26)" points="544.6,80.8 545.6,74.8 546.3,72.8 547,74.8 548,80.8"/>
<linearGradient id="sg27" x1="0" y1="0" x2="0" y2="1"><stop offset="0" stop-color="#68ff40"/><stop offset="0.2" stop-color="#30ff74"/><stop offset="0.5" stop-color="#00ffb0"/><stop offset="0.8" stop-color="#00f4f0"/><stop offset="1" stop-color="#00c4ff"/></linearGradient><polygon fill="url(#sg27)" points="481.3,81 482.3,75.8 483,74 483.7,75.8 484.7,81"/>
<linearGradient id="sg28" x1="0" y1="0" x2="0" y2="1"><stop offset="0" stop-color="#90ff20"/><stop offset="0.2" stop-color="#4aff58"/><stop offset="0.5" stop-color="#10ff9c"/><stop offset="0.8" stop-color="#00f9e8"/><stop offset="1" stop-color="#00c4ff"/></linearGradient><polygon fill="url(#sg28)" points="351.8,72.5 352.8,66.5 353.5,64.5 354.2,66.5 355.2,72.5"/>
<linearGradient id="sg29" x1="0" y1="0" x2="0" y2="1"><stop offset="0" stop-color="#b0ff10"/><stop offset="0.2" stop-color="#68ff40"/><stop offset="0.5" stop-color="#20ff88"/><stop offset="0.8" stop-color="#00ffe0"/><stop offset="1" stop-color="#00c4ff"/></linearGradient><polygon fill="url(#sg29)" points="378.3,92 379.3,86 380,84 380.7,86 381.7,92"/>
<linearGradient id="sg30" x1="0" y1="0" x2="0" y2="1"><stop offset="0" stop-color="#d0ff00"/><stop offset="0.2" stop-color="#86ff28"/><stop offset="0.5" stop-color="#30ff74"/><stop offset="0.8" stop-color="#00ffd4"/><stop offset="1" stop-color="#00c4ff"/></linearGradient><polygon fill="url(#sg30)" points="413.3,99 414.3,92.2 415,90 415.7,92.2 416.7,99"/>
<linearGradient id="sg31" x1="0" y1="0" x2="0" y2="1"><stop offset="0" stop-color="#e8ff00"/><stop offset="0.2" stop-color="#a0ff18"/><stop offset="0.5" stop-color="#40ff60"/><stop offset="0.8" stop-color="#00ffc8"/><stop offset="1" stop-color="#00c4ff"/></linearGradient><polygon fill="url(#sg31)" points="417.3,104 418.3,98 419,96 419.7,98 420.7,104"/>
<linearGradient id="sg32" x1="0" y1="0" x2="0" y2="1"><stop offset="0" stop-color="#40ff60"/><stop offset="0.2" stop-color="#18ff92"/><stop offset="0.5" stop-color="#00ffc8"/><stop offset="0.8" stop-color="#00eef7"/><stop offset="1" stop-color="#00c4ff"/></linearGradient><polygon fill="url(#sg32)" points="338.3,56 339.3,50.8 340,49 340.7,50.8 341.7,56"/>
<linearGradient id="sg33" x1="0" y1="0" x2="0" y2="1"><stop offset="0" stop-color="#90ff20"/><stop offset="0.2" stop-color="#4aff58"/><stop offset="0.5" stop-color="#10ff9c"/><stop offset="0.8" stop-color="#00f9e8"/><stop offset="1" stop-color="#00c4ff"/></linearGradient><polygon fill="url(#sg33)" points="424.8,114 425.8,108.8 426.5,107 427.2,108.8 428.2,114"/>
<linearGradient id="sg34" x1="0" y1="0" x2="0" y2="1"><stop offset="0" stop-color="#90ff20"/><stop offset="0.2" stop-color="#4aff58"/><stop offset="0.5" stop-color="#10ff9c"/><stop offset="0.8" stop-color="#00f9e8"/><stop offset="1" stop-color="#00c4ff"/></linearGradient><polygon fill="url(#sg34)" points="390.3,103 391.3,97.8 392,96 392.7,97.8 393.7,103"/>
<polygon fill="#a3a3a3" points="314.5,60.7 315.9,60.2 317.4,63.7 318.9,62.8 320.1,66 321.5,62.3 323.2,68.1 324.8,65.7 326,70.8 327.7,69.6 329.2,74 330.5,72.5 331.7,76.7 333.6,75 334.7,79.2 336.4,79.3 337.5,80.3 338.9,76 340.8,83 342.2,84 343.7,86.1 344.9,82.3 346.7,89 347.7,88.4 349.3,91.3 350.8,89.8 352.3,93.7 353.6,93 355.3,97.3 356.3,96 358,100 359.4,93.4 361,101.6 362.2,99.5 363.9,103.8 365,101.3 366.7,106.7 368.1,103.7 369.5,109.2 370.9,107.2 372.3,112.9 373.7,107.3 375.2,115.1 376.8,111.4 378.3,116.6 378.3,127.4 314,70.3"/>
<polygon fill="#a6a6a6" points="378.3,118 380.3,115.2 382.3,116.1 384.1,113.8 385.9,115.6 387.8,110.2 389.6,115.5 391.3,112.9 393.4,115.9 395.4,109.3 397.1,114.5 398.9,111.1 400.6,114.4 402.4,110.1 404.5,112.6 406.5,111.6 408.1,113.3 410,110.5 411.8,112.2 413.7,107.1 415.5,111.1 417.8,106.1 419.7,109.7 421.5,107 423.4,109.7 425.3,107.3 427.2,108.3 428.6,106.1 430.5,107.3 432.6,106.8 434.5,107.3 436.2,106.3 438,106.1 440.3,104.8 442,105.5 444,103.9 446,105.1 447.9,103.2 449.4,104.1 451.2,102.2 453.1,103.7 455.2,101.2 456.9,102.4 458.9,101 461,102 462.6,100.6 464.6,100.8 466.3,100 467.9,100.6 470.1,98.5 472.1,100 474.1,97.7 475.5,99.4 477.8,97.9 479.2,98.6 481.5,95.6 483.4,97.4 484.8,95.6 486.8,97.3 488.8,95.2 490.5,96.1 492.6,94.4 494.2,95.7 496.1,94.3 498.3,95.1 500.2,94.3 501.7,94.5 503.7,92.9 505.8,93.3 507.5,92.4 509.4,93.3 511.1,91.3 513,91.4 514.7,89.8 517,90.5 518.8,85.9 520.7,89.4 522.3,84.2 524.3,89.8 526.5,86.3 528,88.7 529.9,86.8 532.2,87.8 533.9,86.6 535.5,87.3 537.2,81.7 539.5,87 541.5,83.1 543.1,86.5 544.8,83.7 546.8,85.4 548.8,78.3 550.8,84.4 552.2,80.6 554.4,83.8 556,78.1 558.1,84.6 559.7,80.5 561.8,82.9 563.7,78.2 563.8,92.4 378.3,127.4"/>
<polygon fill="#cdcdcd" points="314,68.7 378.3,124.4 378.3,126.7 314,69.9"/>
<polyline fill="none" stroke="#5e5e5e" stroke-width="0.7" points="314,68.7 378.3,124.4"/>
<polyline fill="none" stroke="#505050" stroke-width="0.8" points="314,70.1 378.3,127.1"/>
<polygon fill="#cdcdcd" points="378.3,124.4 563.8,89.7 563.8,91.7 378.3,127"/>
<polyline fill="none" stroke="#5e5e5e" stroke-width="0.7" points="378.3,124.4 563.8,89.7"/>
<polyline fill="none" stroke="#505050" stroke-width="0.8" points="378.3,127.2 563.8,92.1"/>
<line x1="378.3" y1="118.5" x2="378.3" y2="127.4" stroke="#6a6a6a" stroke-width="0.7"/>
<line x1="563.6" y1="78.2" x2="563.6" y2="92.4" stroke="#7a7a7a" stroke-width="0.7"/>
<line x1="523.9" y1="96.7" x2="523.9" y2="99.5" stroke="#666" stroke-width="0.6"/>
</g>
<g id="panel-c">
<clipPath id="c2"><polygon points="10.5,184.7 12.1,178.2 13.3,184.5 14.7,181.9 16.6,183.5 17.9,180.8 19.6,183.6 20.8,181.4 22.3,182.6 23.9,181.7 25.5,182.3 26.7,179.9 28.3,182.7 29.9,178.2 31.1,180.8 32.9,178.8 34.3,181.3 35.8,177.8 37,179.9 38.8,175.3 39.9,180.6 41.6,176.1 43,179.7 44.8,176.7 46.4,179.8 47.7,173.7 48.9,178.1 50.9,176.4 52,178.7 53.3,175.5 55.2,178.2 56.6,172.7 57.9,177.3 59.2,176.8 61.2,178.8 62.6,174.7 64.1,178.7 65.5,173.6 66.9,178.3 68.3,176.5 69.7,177.8 71.1,176.7 73,178.7 74.2,178.3 76,178.2 77.3,177 78.7,177 80.2,176.4 81.5,177.3 83.1,178.1 84.4,178.4 86.4,176.4 87.8,176.5 89.3,176.3 90.4,176.7 91.9,174.4 93.9,175.8 95.1,174 96.7,174.7 97.9,176.1 99.6,175 100.9,176.2 102.8,174.4 104,173.2 105.3,173.5 107.1,173 108.5,174.1 110,173.3 111.7,173.1 113.1,172.8 114.4,172.3 115.8,171.3 117.2,172.4 118.5,172.8 120.6,173 122,171.1 123.5,171.1 124.7,171.2 126.2,170.7 127.6,171.5 129,171.7 130.7,169.5 132.2,169.1 133.8,167.6 135.1,168.3 136.9,167.4 137.9,168 139.5,166.2 141.4,167 142.5,165.5 143.8,166.2 145.7,164.6 147.2,164.9 148.8,163.2 149.8,164.4 151.2,162.9 152.9,163.4 154.6,159.1 156,162.1 157.3,158.8 159.1,161.4 160.4,158.7 161.8,160.5 163.5,158.2 165.1,160.4 166.5,158.1 167.5,160 169.2,156.5 170.7,160.5 172.3,157.5 173.7,159.2 175.5,157.4 176.7,159.1 177.9,157 179.7,158.6 181,157.3 182.8,156.9 184.1,156.2 185.5,157.5 187.2,153.1 188.8,156.4 190,152.4 191.8,156.4 193.1,153.7 194.5,156.4 196,151 196.9,152.3 198.2,153.8 199.4,151.2 200.8,156.7 201.8,157.1 203.2,158.1 204,156.2 205.1,160.4 206.4,156.2 207.6,162.8 208.5,163.2 210.2,163.1 211,162.7 212.1,165.4 213.6,166.3 214.4,167 216,165.2 216.9,169.5 217.7,166 219.1,172.3 220.3,168.6 221.4,172.5 222.9,169.6 223.8,176 225,176.4 225.9,178.8 227.4,176 228.3,180.6 229.7,176 230.9,179.9 231.6,176.8 233.2,182.9 234.1,182.7 235.6,185.5 236.5,184.3 237.5,187.8 239.1,186 240,190.5 241.2,186.7 242.2,190.2 243.6,187.2 244.6,192.8 245.9,190.5 247.1,193.2 248,186.2 249.3,197.6 250.4,191.7 251.5,198.7 253,195.9 254,200.9 255,199.5 256.2,201 257.1,200.2 258.4,203.7 259.7,202.4 258.9,220.5 74.5,251.2 10.8,195.7"/></clipPath>
<g clip-path="url(#c2)"><g filter="url(#relief)">
<polygon fill="#690a00" points="58.7,266 62,265.4 -36.6,162.4 -39.9,162.9"/>
<polygon fill="#690a00" points="60.5,265.7 63.9,265.1 -34.7,162.1 -38.1,162.6"/>
<polygon fill="#690a00" points="62.4,265.4 65.7,264.8 -32.9,161.8 -36.2,162.3"/>
<polygon fill="#690a00" points="64.2,265 67.6,264.4 -31,161.5 -34.4,162.1"/>
<polygon fill="#690a00" points="66.1,264.7 69.4,264.1 -29.2,161.3 -32.5,161.8"/>
<polygon fill="#690a00" points="67.9,264.4 71.3,263.8 -27.3,161 -30.6,161.5"/>
<polygon fill="#690a00" points="69.8,264 73.1,263.4 -25.4,160.7 -28.8,161.2"/>
<polygon fill="#690a00" points="71.6,263.7 75,263.1 -23.6,160.4 -26.9,160.9"/>
<polygon fill="#690a00" points="73.5,263.4 76.8,262.8 -21.7,160.1 -25.1,160.6"/>
<polygon fill="#690a00" points="75.3,263 78.7,262.4 -19.9,159.9 -23.2,160.4"/>
<polygon fill="#690a00" points="77.2,262.7 80.5,262.1 -18,159.6 -21.4,160.1"/>
<polygon fill="#690a00" points="79,262.4 82.4,261.8 -16.2,159.3 -19.5,159.8"/>
<polygon fill="#690a00" points="80.9,262 84.2,261.4 -14.3,159 -17.7,159.5"/>
<polygon fill="#690a00" points="82.7,261.7 86.1,261.1 -12.5,158.7 -15.8,159.2"/>
<polygon fill="#690a00" points="84.6,261.4 87.9,260.8 -10.6,158.4 -13.9,159"/>
<polygon fill="#690a00" points="86.4,261 89.7,260.5 -8.6,158.1 -12.1,158.7"/>
<polygon fill="#690a00" points="88.3,260.7 91.2,260.2 -6.4,157.8 -10.2,158.4"/>
<polygon fill="#690a00" points="90,260.4 92.8,259.9 -4.2,157.5 -8.2,158.1"/>
<polygon fill="#690a00" points="91.5,260.1 94.3,259.6 -2,157.1 -6,157.7"/>
<polygon fill="#690a00" points="93.1,259.8 95.9,259.3 0.1,156.8 -3.8,157.4"/>
<polygon fill="#690a00" points="94.6,259.6 97.4,259.1 2.3,156.5 -1.6,157.1"/>
<polygon fill="#690a00" points="96.2,259.3 99,258.8 4.5,156.1 0.6,156.7"/>
<polygon fill="#6a0a00" points="97.8,259 100.6,258.5 6.7,155.8 2.8,156.4"/>
<polygon fill="#6a0a00" points="99.3,258.7 102.1,258.2 8.9,155.5 4.9,156.1"/>
<polygon fill="#6a0a00" points="100.9,258.4 103.7,257.9 11.1,155.1 7.1,155.7"/>
<polygon fill="#6a0a00" points="102.4,258.2 105.2,257.7 13.3,154.8 9.3,155.4"/>
<polygon fill="#6a0a00" points="104,257.9 106.8,257.4 15.4,154.5 11.5,155.1"/>
<polygon fill="#6a0a00" points="105.5,257.6 108.3,257.1 17.6,154.2 13.7,154.7"/>
<polygon fill="#6a0a00" points="107.1,257.3 109.9,256.8 19.8,153.8 15.9,154.4"/>
<polygon fill="#6a0a00" points="108.7,257 111.5,256.5 22,153.5 18.1,154.1"/>
<polygon fill="#6a0a00" points="110.2,256.8 113,256.3 24.2,153.2 20.2,153.8"/>
<polygon fill="#6b0a00" points="111.8,256.5 114.6,256 26.4,152.8 22.4,153.4"/>
<polygon fill="#6b0a00" points="113.3,256.2 116.1,255.7 28.6,152.5 24.6,153.1"/>
<polygon fill="#6b0a00" points="114.9,255.9 117.7,255.4 30.7,152.2 26.8,152.8"/>
<polygon fill="#6b0a00" points="116.4,255.6 119.2,255.1 32.9,151.8 29,152.4"/>
<polygon fill="#690a00" points="118,255.4 120.8,254.9 35.1,151.5 31.2,152.1"/>
<polygon fill="#640a00" points="119.5,255.1 122.4,254.6 37.3,151.2 33.4,151.8"/>
<polygon fill="#600900" points="121.1,254.8 124.9,254.1 38.3,151 35.5,151.4"/>
<polygon fill="#5c0900" points="122.9,254.5 127.5,253.6 39.3,150.8 37.5,151.1"/>
<polygon fill="#580900" points="125.5,254 130.1,253.2 40.4,150.7 38.5,151"/>
<polygon fill="#540800" points="128.1,253.6 132.7,252.7 41.4,150.5 39.6,150.8"/>
<polygon fill="#510800" points="130.6,253.1 135.3,252.2 42.4,150.4 40.6,150.7"/>
<polygon fill="#500800" points="133.2,252.6 137.9,251.8 43.4,150.2 41.6,150.5"/>
<polygon fill="#520700" points="135.8,252.2 140.5,251.3 44.5,150.1 42.6,150.3"/>
<polygon fill="#520700" points="138.4,251.7 143.1,250.8 45.5,149.9 43.6,150.2"/>
<polygon fill="#550600" points="141,251.2 145.7,250.4 46.5,149.8 44.7,150"/>
<polygon fill="#580500" points="143.6,250.8 148.3,249.9 47.5,149.6 45.7,149.9"/>
<polygon fill="#480400" points="146.2,250.3 150.5,249.5 49,149.4 46.7,149.7"/>
<polygon fill="#4c0300" points="148.8,249.8 152.3,249.2 50.9,149.1 47.7,149.6"/>
<polygon fill="#4d0300" points="150.9,249.5 154,248.9 52.9,148.8 49.4,149.3"/>
<polygon fill="#550300" points="152.6,249.1 155.7,248.6 54.9,148.5 51.3,149"/>
<polygon fill="#530300" points="154.3,248.8 157.4,248.3 56.9,148.2 53.3,148.7"/>
<polygon fill="#4c0300" points="156.1,248.5 159.2,248 58.9,147.9 55.3,148.4"/>
<polygon fill="#3e0300" points="157.8,248.2 160.9,247.6 60.9,147.6 57.3,148.1"/>
<polygon fill="#4b0300" points="159.5,247.9 162.6,247.3 62.9,147.3 59.3,147.8"/>
<polygon fill="#4b0300" points="161.2,247.6 164.4,247 64.9,147 61.3,147.5"/>
<polygon fill="#440300" points="163,247.3 166.1,246.7 66.9,146.7 63.3,147.2"/>
<polygon fill="#550300" points="164.7,247 167.8,246.4 68.9,146.4 65.3,146.9"/>
<polygon fill="#490300" points="166.4,246.7 169.5,246.1 70.9,146 67.3,146.6"/>
<polygon fill="#510300" points="168.2,246.3 171.3,245.8 72.9,145.7 69.3,146.3"/>
<polygon fill="#350300" points="169.9,246 173,245.5 74.9,145.4 71.3,146"/>
<polygon fill="#480300" points="171.6,245.7 174.7,245.2 76.9,145.1 73.3,145.7"/>
<polygon fill="#310300" points="173.3,245.4 176.4,244.9 78.9,144.8 75.3,145.4"/>
<polygon fill="#4b0300" points="175.1,245.1 178.2,244.5 80.9,144.5 77.3,145.1"/>
<polygon fill="#4d0300" points="176.8,244.8 179.9,244.2 82.9,144.2 79.3,144.8"/>
<polygon fill="#440300" points="178.5,244.5 181.6,243.9 84.8,143.9 81.3,144.5"/>
<polygon fill="#430300" points="180.3,244.2 183.4,243.6 86.8,143.6 83.3,144.2"/>
<polygon fill="#490300" points="182,243.9 185.1,243.3 88.8,143.3 85.2,143.9"/>
<polygon fill="#450300" points="183.7,243.5 186.8,243 90.8,143 87.2,143.6"/>
<polygon fill="#4d0300" points="185.4,243.2 188.5,242.7 92.8,142.7 89.2,143.3"/>
<polygon fill="#470300" points="187.2,242.9 190.3,242.4 94.8,142.4 91.2,143"/>
<polygon fill="#3d0300" points="188.9,242.6 192,242.1 96.8,142.1 93.2,142.6"/>
<polygon fill="#3b0300" points="190.6,242.3 193.7,241.7 98.8,141.8 95.2,142.3"/>
<polygon fill="#480300" points="192.3,242 195.5,241.4 100.8,141.5 97.2,142"/>
<polygon fill="#410300" points="194.1,241.7 197.2,241.1 102.8,141.2 99.2,141.7"/>
<polygon fill="#490300" points="195.8,241.4 198.9,240.8 104.8,140.9 101.2,141.4"/>
<polygon fill="#390300" points="197.5,241.1 200.6,240.5 106.8,140.6 103.2,141.1"/>
<polygon fill="#4c0300" points="199.3,240.8 202.4,240.2 108.8,140.3 105.2,140.8"/>
<polygon fill="#4f0300" points="201,240.4 204.1,239.9 110.8,140 107.2,140.5"/>
<polygon fill="#520300" points="202.7,240.1 206,239.5 112.6,139.7 109.2,140.2"/>
<polygon fill="#570400" points="204.4,239.8 208.2,239.1 114.1,139.5 111.2,139.9"/>
<polygon fill="#4e0500" points="206.4,239.5 210.4,238.8 115.5,139.3 112.9,139.7"/>
<polygon fill="#480600" points="208.6,239.1 212.5,238.4 117,139 114.4,139.4"/>
<polygon fill="#4f0700" points="210.8,238.7 214.7,238 118.5,138.8 115.8,139.2"/>
<polygon fill="#500700" points="213,238.3 216.9,237.6 120,138.6 117.3,139"/>
<polygon fill="#510700" points="215.2,237.9 219.1,237.2 121.5,138.3 118.8,138.8"/>
<polygon fill="#530800" points="217.3,237.5 221.3,236.8 123,138.1 120.3,138.5"/>
<polygon fill="#560800" points="219.5,237.1 223.4,236.4 124.5,137.9 121.8,138.3"/>
<polygon fill="#590800" points="221.7,236.7 225.6,236 126,137.7 123.3,138.1"/>
<polygon fill="#5c0800" points="223.9,236.3 227.8,235.6 127.5,137.4 124.8,137.8"/>
<polygon fill="#5f0900" points="226.1,235.9 230,235.2 128.9,137.2 126.3,137.6"/>
<polygon fill="#620900" points="228.2,235.5 232.1,234.9 130.5,137 127.8,137.4"/>
<polygon fill="#650900" points="230.4,235.2 234.1,234.5 132.2,136.7 129.2,137.2"/>
<polygon fill="#660900" points="232.5,234.8 236,234.1 133.9,136.5 130.9,136.9"/>
<polygon fill="#660900" points="234.5,234.4 238,233.8 135.6,136.2 132.6,136.7"/>
<polygon fill="#670900" points="236.4,234.1 240,233.4 137.4,135.9 134.3,136.4"/>
<polygon fill="#670900" points="238.4,233.7 242,233.1 139.1,135.7 136,136.1"/>
<polygon fill="#670900" points="240.4,233.4 244,232.7 140.8,135.4 137.7,135.9"/>
<polygon fill="#670900" points="242.4,233 245.9,232.4 142.5,135.2 139.4,135.6"/>
<polygon fill="#680900" points="244.4,232.6 247.9,232 144.2,134.9 141.1,135.4"/>
<polygon fill="#680a00" points="246.3,232.3 249.9,231.6 145.9,134.6 142.8,135.1"/>
<polygon fill="#680a00" points="248.3,231.9 251.9,231.3 147.6,134.4 144.5,134.8"/>
<polygon fill="#680a00" points="250.3,231.6 253.9,230.9 149.3,134.1 146.2,134.6"/>
<polygon fill="#690a00" points="252.3,231.2 255.9,230.6 151,133.9 148,134.3"/>
<polygon fill="#690a00" points="254.3,230.9 257.8,230.2 152.7,133.6 149.7,134.1"/>
<polygon fill="#690a00" points="256.3,230.5 259.8,229.9 154.5,133.3 151.4,133.8"/>
<polygon fill="#690a00" points="258.2,230.1 261.8,229.5 156.2,133.1 153.1,133.5"/>
<polygon fill="#6a0a00" points="260.2,229.8 263.8,229.1 157.9,132.8 154.8,133.3"/>
<polygon fill="#6a0a00" points="262.2,229.4 265.8,228.8 159.6,132.6 156.5,133"/>
<polygon fill="#6a0a00" points="264.2,229.1 267.7,228.4 161.3,132.3 158.2,132.8"/>
<polygon fill="#6b0a00" points="266.2,228.7 269.7,228.1 163,132 159.9,132.5"/>
<polygon fill="#6b0a00" points="268.1,228.4 271.7,227.7 164.7,131.8 161.6,132.2"/>
<polygon fill="#6b0a00" points="270.1,228 273.7,227.4 166.4,131.5 163.3,132"/>
<polygon fill="#6b0a00" points="272.1,227.7 275.7,227 168.1,131.3 165.1,131.7"/>
<polygon fill="#6c0a00" points="274.1,227.3 277.7,226.7 169.8,131 166.8,131.5"/>
<polygon fill="#6c0a00" points="276.1,226.9 279.6,226.3 171.6,130.7 168.5,131.2"/>
<polygon fill="#6c0a00" points="278.1,226.6 281.4,226 173.5,130.4 170.2,130.9"/>
<polygon fill="#6c0a00" points="280,226.2 283.3,225.6 175.3,130.2 172,130.7"/>
<polygon fill="#6c0a00" points="281.8,225.9 285.1,225.3 177.2,129.9 173.8,130.4"/>
<polygon fill="#6c0a00" points="283.7,225.6 287,225 179,129.6 175.7,130.1"/>
<polygon fill="#6c0a00" points="285.5,225.2 288.8,224.6 180.9,129.3 177.5,129.8"/>
<polygon fill="#6c0a00" points="287.4,224.9 290.7,224.3 182.7,129 179.4,129.5"/>
<polygon fill="#6c0a00" points="289.2,224.6 292.5,224 184.6,128.7 181.3,129.3"/>
<polygon fill="#6c0a00" points="291.1,224.2 294.4,223.6 186.5,128.5 183.1,129"/>
<polygon fill="#6c0a00" points="292.9,223.9 296.2,223.3 188.3,128.2 185,128.7"/>
<polygon fill="#6c0a00" points="294.8,223.6 298.1,223 190.2,127.9 186.8,128.4"/>
<polygon fill="#6c0a00" points="296.6,223.2 299.9,222.6 192,127.6 188.7,128.1"/>
<polygon fill="#6c0a00" points="298.5,222.9 301.8,222.3 193.9,127.3 190.5,127.8"/>
<polygon fill="#6c0a00" points="300.3,222.6 303.7,222 195.7,127.1 192.4,127.6"/>
<polygon fill="#6c0a00" points="302.2,222.2 305.5,221.6 197.6,126.8 194.3,127.3"/>
<polygon fill="#6c0a00" points="304,221.9 307.4,221.3 199.4,126.5 196.1,127"/>
<polygon fill="#6c0a00" points="305.9,221.6 309.2,221 201.3,126.2 198,126.7"/>
</g></g>
<defs>
<linearGradient id="kg2_0" x1="0" y1="0" x2="0" y2="1"><stop offset="0" stop-color="#69ff3f"/><stop offset="0.45" stop-color="#34ff6f"/><stop offset="0.8" stop-color="#1eff8a" stop-opacity="0.85"/><stop offset="1" stop-color="#1eff8a" stop-opacity="0"/></linearGradient>
<path id="k200" fill="url(#kg2_0)" d="M0 -0.5C0.3 1.9 1.4 3.8 2.5 6.2L-2.5 6.2C-1.4 3.8 -0.3 1.9 0 -0.5Z"/>
<path id="k201" fill="url(#kg2_0)" d="M0 -0.5C0.3 2.5 1.8 5.1 3.2 8.2L-3.2 8.2C-1.8 5.1 -0.3 2.5 0 -0.5Z"/>
<linearGradient id="kg2_1" x1="0" y1="0" x2="0" y2="1"><stop offset="0" stop-color="#98ff1c"/><stop offset="0.45" stop-color="#53ff51"/><stop offset="0.8" stop-color="#1eff8a" stop-opacity="0.85"/><stop offset="1" stop-color="#1eff8a" stop-opacity="0"/></linearGradient>
<path id="k210" fill="url(#kg2_1)" d="M0 -0.5C0.3 1.9 1.4 3.8 2.5 6.2L-2.5 6.2C-1.4 3.8 -0.3 1.9 0 -0.5Z"/>
<path id="k211" fill="url(#kg2_1)" d="M0 -0.5C0.3 2.5 1.8 5.1 3.2 8.2L-3.2 8.2C-1.8 5.1 -0.3 2.5 0 -0.5Z"/>
<linearGradient id="kg2_2" x1="0" y1="0" x2="0" y2="1"><stop offset="0" stop-color="#c0ff08"/><stop offset="0.45" stop-color="#76ff35"/><stop offset="0.8" stop-color="#1eff8a" stop-opacity="0.85"/><stop offset="1" stop-color="#1eff8a" stop-opacity="0"/></linearGradient>
<path id="k220" fill="url(#kg2_2)" d="M0 -0.5C0.3 1.9 1.4 3.8 2.5 6.2L-2.5 6.2C-1.4 3.8 -0.3 1.9 0 -0.5Z"/>
<path id="k221" fill="url(#kg2_2)" d="M0 -0.5C0.3 2.5 1.8 5.1 3.2 8.2L-3.2 8.2C-1.8 5.1 -0.3 2.5 0 -0.5Z"/>
<linearGradient id="kg2_3" x1="0" y1="0" x2="0" y2="1"><stop offset="0" stop-color="#e1ff00"/><stop offset="0.45" stop-color="#97ff1d"/><stop offset="0.8" stop-color="#1eff8a" stop-opacity="0.85"/><stop offset="1" stop-color="#1eff8a" stop-opacity="0"/></linearGradient>
<path id="k230" fill="url(#kg2_3)" d="M0 -0.5C0.3 1.9 1.4 3.8 2.5 6.2L-2.5 6.2C-1.4 3.8 -0.3 1.9 0 -0.5Z"/>
<path id="k231" fill="url(#kg2_3)" d="M0 -0.5C0.3 2.5 1.8 5.1 3.2 8.2L-3.2 8.2C-1.8 5.1 -0.3 2.5 0 -0.5Z"/>
<linearGradient id="kg2_4" x1="0" y1="0" x2="0" y2="1"><stop offset="0" stop-color="#feff00"/><stop offset="0.45" stop-color="#b2ff0f"/><stop offset="0.8" stop-color="#1eff8a" stop-opacity="0.85"/><stop offset="1" stop-color="#1eff8a" stop-opacity="0"/></linearGradient>
<path id="k240" fill="url(#kg2_4)" d="M0 -0.5C0.3 1.9 1.4 3.8 2.5 6.2L-2.5 6.2C-1.4 3.8 -0.3 1.9 0 -0.5Z"/>
<path id="k241" fill="url(#kg2_4)" d="M0 -0.5C0.3 2.5 1.8 5.1 3.2 8.2L-3.2 8.2C-1.8 5.1 -0.3 2.5 0 -0.5Z"/>
<linearGradient id="kg2_5" x1="0" y1="0" x2="0" y2="1"><stop offset="0" stop-color="#ffe300"/><stop offset="0.45" stop-color="#ceff01"/><stop offset="0.8" stop-color="#1eff8a" stop-opacity="0.85"/><stop offset="1" stop-color="#1eff8a" stop-opacity="0"/></linearGradient>
<path id="k250" fill="url(#kg2_5)" d="M0 -0.5C0.3 1.9 1.4 3.8 2.5 6.2L-2.5 6.2C-1.4 3.8 -0.3 1.9 0 -0.5Z"/>
<path id="k251" fill="url(#kg2_5)" d="M0 -0.5C0.3 2.5 1.8 5.1 3.2 8.2L-3.2 8.2C-1.8 5.1 -0.3 2.5 0 -0.5Z"/>
<linearGradient id="kg2_6" x1="0" y1="0" x2="0" y2="1"><stop offset="0" stop-color="#ffc200"/><stop offset="0.45" stop-color="#e3ff00"/><stop offset="0.8" stop-color="#1eff8a" stop-opacity="0.85"/><stop offset="1" stop-color="#1eff8a" stop-opacity="0"/></linearGradient>
<path id="k260" fill="url(#kg2_6)" d="M0 -0.5C0.3 1.9 1.4 3.8 2.5 6.2L-2.5 6.2C-1.4 3.8 -0.3 1.9 0 -0.5Z"/>
<path id="k261" fill="url(#kg2_6)" d="M0 -0.5C0.3 2.5 1.8 5.1 3.2 8.2L-3.2 8.2C-1.8 5.1 -0.3 2.5 0 -0.5Z"/>
<linearGradient id="kg2_7" x1="0" y1="0" x2="0" y2="1"><stop offset="0" stop-color="#ff9b00"/><stop offset="0.45" stop-color="#f7ff00"/><stop offset="0.8" stop-color="#1eff8a" stop-opacity="0.85"/><stop offset="1" stop-color="#1eff8a" stop-opacity="0"/></linearGradient>
<path id="k270" fill="url(#kg2_7)" d="M0 -0.5C0.3 1.9 1.4 3.8 2.5 6.2L-2.5 6.2C-1.4 3.8 -0.3 1.9 0 -0.5Z"/>
<path id="k271" fill="url(#kg2_7)" d="M0 -0.5C0.3 2.5 1.8 5.1 3.2 8.2L-3.2 8.2C-1.8 5.1 -0.3 2.5 0 -0.5Z"/>
</defs>
<use href="#k260" x="27.7" y="179.3"/>
<use href="#k251" x="31.7" y="180.2"/>
<use href="#k261" x="39.3" y="177.7"/>
<use href="#k241" x="51.8" y="178"/>
<use href="#k220" x="66.2" y="177.2"/>
<use href="#k270" x="193.9" y="152.7"/>
<use href="#k271" x="190.7" y="153.9"/>
<use href="#k240" x="44.7" y="180"/>
<use href="#k240" x="176.9" y="158.6"/>
<use href="#k251" x="189.2" y="155.8"/>
<use href="#k200" x="144.5" y="167.6"/>
<use href="#k241" x="26.3" y="183"/>
<use href="#k241" x="167.5" y="160.6"/>
<use href="#k250" x="187.9" y="156.8"/>
<use href="#k261" x="166.4" y="158.9"/>
<use href="#k230" x="160" y="163"/>
<use href="#k261" x="31.1" y="180.6"/>
<use href="#k250" x="53.1" y="178.1"/>
<use href="#k251" x="25.5" y="182.6"/>
<use href="#k240" x="170.7" y="161.9"/>
<use href="#k230" x="168.6" y="162.4"/>
<use href="#k261" x="44.9" y="179.9"/>
<use href="#k210" x="68.5" y="180.4"/>
<use href="#k261" x="34.5" y="180.6"/>
<use href="#k241" x="54.4" y="179.8"/>
<use href="#k220" x="67.3" y="179.8"/>
<use href="#k250" x="51.4" y="179.7"/>
<use href="#k241" x="184" y="160.1"/>
<use href="#k260" x="42.7" y="179.9"/>
<use href="#k241" x="50" y="181.5"/>
<use href="#k251" x="32.2" y="183.5"/>
<use href="#k210" x="72.2" y="180"/>
<use href="#k240" x="170.2" y="162.3"/>
<use href="#k230" x="152.8" y="166"/>
<use href="#k251" x="200.6" y="157"/>
<use href="#k260" x="169.6" y="160.8"/>
<use href="#k261" x="36" y="181.6"/>
<use href="#k271" x="182.5" y="157.9"/>
<use href="#k240" x="157.2" y="164.3"/>
<use href="#k240" x="31" y="185.3"/>
<use href="#k251" x="196.7" y="157.8"/>
<use href="#k220" x="65.4" y="181.8"/>
<use href="#k260" x="56.4" y="179.2"/>
<use href="#k241" x="180.3" y="161.5"/>
<use href="#k260" x="33.4" y="182.7"/>
<use href="#k220" x="155" y="166.9"/>
<use href="#k261" x="35.7" y="183.1"/>
<use href="#k250" x="177.1" y="161"/>
<use href="#k241" x="48.2" y="182.7"/>
<use href="#k210" x="149.1" y="169.9"/>
<use href="#k251" x="63.1" y="179.4"/>
<use href="#k240" x="46" y="184"/>
<use href="#k240" x="165.7" y="164.5"/>
<use href="#k251" x="57.3" y="181.5"/>
<use href="#k240" x="181.3" y="162"/>
<use href="#k251" x="25.8" y="186"/>
<use href="#k251" x="184.8" y="161.6"/>
<use href="#k241" x="43.5" y="184.4"/>
<use href="#k241" x="67.2" y="180.5"/>
<use href="#k230" x="162.1" y="166.5"/>
<use href="#k241" x="190.9" y="161.8"/>
<use href="#k241" x="44.9" y="185.2"/>
<use href="#k251" x="169.9" y="164.2"/>
<use href="#k270" x="178.6" y="161.1"/>
<use href="#k250" x="61.7" y="181.4"/>
<use href="#k260" x="62.1" y="179.9"/>
<use href="#k251" x="184.8" y="161.8"/>
<use href="#k241" x="29.9" y="187.3"/>
<use href="#k251" x="178.5" y="163.4"/>
<use href="#k251" x="40.1" y="185.6"/>
<use href="#k251" x="172.4" y="164.1"/>
<use href="#k261" x="54.2" y="182.2"/>
<use href="#k240" x="52.3" y="184.5"/>
<use href="#k261" x="172.4" y="163.6"/>
<use href="#k241" x="183.8" y="164.1"/>
<use href="#k230" x="65.5" y="184.2"/>
<use href="#k220" x="150.9" y="170.8"/>
<use href="#k241" x="198.8" y="161.8"/>
<use href="#k210" x="154.3" y="171.6"/>
<use href="#k261" x="164.3" y="165"/>
<use href="#k240" x="184" y="164.8"/>
<use href="#k251" x="191.5" y="162.6"/>
<use href="#k250" x="189.8" y="163.5"/>
<use href="#k220" x="73.2" y="183.5"/>
<use href="#k260" x="204.3" y="159.8"/>
<use href="#k241" x="197.8" y="163.2"/>
<use href="#k251" x="50.6" y="185.5"/>
<use href="#k241" x="28.9" y="190.5"/>
<use href="#k260" x="43.5" y="186.8"/>
<use href="#k251" x="173.7" y="166.9"/>
<use href="#k260" x="51.4" y="185.5"/>
<use href="#k241" x="62.5" y="186"/>
<use href="#k241" x="56.9" y="186.9"/>
<use href="#k220" x="67.9" y="186.5"/>
<use href="#k230" x="156.9" y="171.6"/>
<use href="#k241" x="31.1" y="191.5"/>
<use href="#k270" x="41.7" y="186.8"/>
<use href="#k241" x="168" y="169.3"/>
<use href="#k250" x="190.1" y="164.6"/>
<use href="#k200" x="153" y="175"/>
<use href="#k240" x="64.4" y="186.6"/>
<use href="#k240" x="26.1" y="192.8"/>
<use href="#k260" x="33" y="190"/>
<use href="#k230" x="67.6" y="187.8"/>
<use href="#k261" x="58.4" y="186.9"/>
<use href="#k261" x="39.1" y="190"/>
<use href="#k200" x="74.4" y="188.9"/>
<use href="#k240" x="191.4" y="167.1"/>
<use href="#k240" x="208.1" y="164.5"/>
<use href="#k230" x="174.6" y="171.1"/>
<use href="#k241" x="195" y="166.9"/>
<use href="#k271" x="202.1" y="162.6"/>
<use href="#k240" x="64.6" y="188.8"/>
<use href="#k241" x="187" y="169.3"/>
<use href="#k251" x="201.3" y="165.3"/>
<use href="#k261" x="64.6" y="186.9"/>
<use href="#k200" x="76.4" y="189.6"/>
<use href="#k240" x="54.6" y="190.4"/>
<use href="#k261" x="48" y="190.1"/>
<use href="#k271" x="63.8" y="186.2"/>
<use href="#k251" x="177.4" y="170"/>
<use href="#k251" x="167.9" y="171.8"/>
<use href="#k240" x="186.7" y="169.5"/>
<use href="#k240" x="52" y="191.9"/>
<use href="#k251" x="65.7" y="188.9"/>
<use href="#k240" x="45.5" y="193"/>
<use href="#k251" x="62.8" y="189.1"/>
<use href="#k261" x="185.8" y="168.3"/>
<use href="#k271" x="62" y="187.6"/>
<use href="#k230" x="163.8" y="175"/>
<use href="#k270" x="205.6" y="164.2"/>
<use href="#k241" x="174.3" y="172.8"/>
<use href="#k241" x="59.5" y="191.8"/>
<use href="#k251" x="189.9" y="169.3"/>
<use href="#k210" x="78.6" y="191.5"/>
<use href="#k241" x="203.2" y="168.7"/>
<use href="#k261" x="39.4" y="193.5"/>
<use href="#k240" x="67.9" y="190.7"/>
<use href="#k241" x="34.5" y="196.9"/>
<use href="#k220" x="75.8" y="191.6"/>
<use href="#k210" x="160.3" y="178.9"/>
<use href="#k250" x="194.4" y="170.7"/>
<use href="#k241" x="173.6" y="175.2"/>
<use href="#k241" x="42.8" y="196"/>
<use href="#k270" x="212.2" y="165.3"/>
<use href="#k251" x="204.8" y="169.5"/>
<use href="#k261" x="46.4" y="193.7"/>
<use href="#k241" x="168.9" y="176"/>
<use href="#k250" x="174.8" y="174.4"/>
<use href="#k271" x="40.6" y="194.3"/>
<use href="#k210" x="82" y="192.8"/>
<use href="#k220" x="161.6" y="178.5"/>
<use href="#k261" x="39.3" y="195.5"/>
<use href="#k240" x="54.3" y="195.5"/>
<use href="#k241" x="199.6" y="171.7"/>
<use href="#k220" x="163.2" y="178.5"/>
<use href="#k261" x="55.1" y="193.7"/>
<use href="#k230" x="178.9" y="176"/>
<use href="#k241" x="41.1" y="198.2"/>
<use href="#k251" x="199.8" y="170.6"/>
<use href="#k260" x="207.2" y="168.7"/>
<use href="#k241" x="192.2" y="173.8"/>
<use href="#k270" x="51.2" y="193.8"/>
<use href="#k250" x="181.9" y="173.7"/>
<use href="#k240" x="206.5" y="171.2"/>
<use href="#k241" x="197.9" y="173"/>
<use href="#k240" x="188.9" y="173.8"/>
<use href="#k220" x="162.3" y="179.6"/>
<use href="#k250" x="36" y="198.6"/>
<use href="#k250" x="205.2" y="171.2"/>
<use href="#k200" x="81.6" y="194.9"/>
<use href="#k271" x="31.7" y="197.4"/>
<use href="#k220" x="170.3" y="179.6"/>
<use href="#k250" x="70.7" y="193.5"/>
<use href="#k241" x="68.3" y="195.5"/>
<use href="#k251" x="57.3" y="196.3"/>
<use href="#k220" x="171.3" y="180.2"/>
<use href="#k251" x="211.6" y="170.8"/>
<use href="#k251" x="69" y="194.9"/>
<use href="#k270" x="185.2" y="174"/>
<use href="#k241" x="203.2" y="174.2"/>
<use href="#k230" x="190.4" y="177.1"/>
<use href="#k230" x="189.6" y="177.7"/>
<use href="#k260" x="67.9" y="194.8"/>
<use href="#k260" x="202" y="173.5"/>
<use href="#k260" x="70.8" y="194.7"/>
<use href="#k241" x="211.2" y="174.4"/>
<use href="#k200" x="163.2" y="185.2"/>
<use href="#k241" x="206.5" y="175.4"/>
<use href="#k220" x="172.4" y="182.6"/>
<use href="#k261" x="75.8" y="194.8"/>
<use href="#k241" x="218" y="173.9"/>
<use href="#k241" x="45.6" y="202.3"/>
<use href="#k251" x="54.7" y="200"/>
<use href="#k241" x="44.3" y="202.7"/>
<use href="#k251" x="50.7" y="200.6"/>
<use href="#k250" x="207.1" y="174.7"/>
<use href="#k251" x="77.9" y="195.5"/>
<use href="#k250" x="187.7" y="177.6"/>
<use href="#k250" x="178.9" y="180.3"/>
<use href="#k260" x="36.8" y="202.3"/>
<use href="#k251" x="56.1" y="200.5"/>
<use href="#k250" x="198.2" y="177.9"/>
<use href="#k241" x="184.2" y="181.2"/>
<use href="#k251" x="62" y="200"/>
<use href="#k240" x="212.1" y="177"/>
<use href="#k241" x="67.5" y="200.9"/>
<use href="#k220" x="171.5" y="185.2"/>
<use href="#k241" x="47.2" y="203.8"/>
<use href="#k241" x="194.1" y="180.3"/>
<use href="#k241" x="206.2" y="178.4"/>
<use href="#k250" x="201.5" y="178.5"/>
<use href="#k220" x="85.3" y="199.5"/>
<use href="#k261" x="68.1" y="199.4"/>
<use href="#k261" x="74.1" y="198.1"/>
<use href="#k251" x="70.1" y="200.6"/>
<use href="#k250" x="183.2" y="181.8"/>
<use href="#k241" x="210" y="178.9"/>
<use href="#k241" x="177" y="183.8"/>
<use href="#k241" x="207" y="179.4"/>
<use href="#k251" x="60.9" y="201.9"/>
<use href="#k220" x="85.8" y="200.3"/>
<use href="#k240" x="65.7" y="203.3"/>
<use href="#k210" x="93.3" y="200"/>
<use href="#k230" x="176.8" y="185.4"/>
<use href="#k240" x="204.1" y="180.3"/>
<use href="#k260" x="207.6" y="177.6"/>
<use href="#k271" x="68.1" y="200"/>
<use href="#k271" x="70.2" y="199.9"/>
<use href="#k260" x="205.7" y="178.4"/>
<use href="#k230" x="80.8" y="201.6"/>
<use href="#k271" x="219.6" y="175.1"/>
<use href="#k250" x="51.8" y="205.2"/>
<use href="#k240" x="77.6" y="202.5"/>
<use href="#k240" x="217.1" y="179.5"/>
<use href="#k220" x="172.3" y="187.1"/>
<use href="#k241" x="61.9" y="205.5"/>
<use href="#k210" x="86.9" y="202.9"/>
<use href="#k241" x="200.6" y="183"/>
<use href="#k241" x="222.5" y="179"/>
<use href="#k251" x="188.8" y="183.9"/>
<use href="#k250" x="224.4" y="178.2"/>
<use href="#k241" x="46.6" y="209"/>
<use href="#k250" x="225.5" y="177.8"/>
<use href="#k210" x="86.6" y="204"/>
<use href="#k220" x="84.7" y="203.8"/>
<use href="#k250" x="218.2" y="179.8"/>
<use href="#k230" x="183.9" y="187.1"/>
<use href="#k241" x="184.4" y="185.7"/>
<use href="#k200" x="168" y="192.4"/>
<use href="#k220" x="178.3" y="188.8"/>
<use href="#k241" x="218.8" y="181"/>
<use href="#k250" x="227.6" y="179.6"/>
<use href="#k230" x="85" y="203.6"/>
<use href="#k200" x="169" y="193"/>
<use href="#k260" x="222.8" y="179.8"/>
<use href="#k240" x="70" y="207.2"/>
<use href="#k270" x="75.8" y="203.2"/>
<use href="#k261" x="75.8" y="204.5"/>
<use href="#k200" x="172.3" y="192.9"/>
<use href="#k261" x="190.1" y="185.1"/>
<use href="#k261" x="189" y="185.6"/>
<use href="#k240" x="223.5" y="182.1"/>
<use href="#k251" x="219.7" y="182.6"/>
<use href="#k261" x="57.9" y="207.8"/>
<use href="#k220" x="89" y="205.4"/>
<use href="#k251" x="199.5" y="185.3"/>
<use href="#k200" x="173.8" y="193.6"/>
<use href="#k270" x="47.7" y="208.8"/>
<use href="#k220" x="176.8" y="191.1"/>
<use href="#k220" x="180.6" y="190.8"/>
<use href="#k261" x="210.6" y="183.3"/>
<use href="#k200" x="170.6" y="194.6"/>
<use href="#k250" x="209.8" y="184"/>
<use href="#k240" x="79.5" y="207.4"/>
<use href="#k251" x="56.8" y="210"/>
<use href="#k250" x="53.8" y="210.7"/>
<use href="#k240" x="224.5" y="184.3"/>
<use href="#k250" x="68.7" y="209.3"/>
<use href="#k250" x="201.2" y="186.7"/>
<use href="#k271" x="77.7" y="205.4"/>
<use href="#k261" x="200.3" y="186.2"/>
<use href="#k230" x="187.2" y="191.9"/>
<use href="#k261" x="197.9" y="187"/>
<use href="#k270" x="222.1" y="181.8"/>
<use href="#k250" x="215.8" y="185.6"/>
<use href="#k251" x="52.5" y="213"/>
<use href="#k261" x="75.4" y="208.6"/>
<use href="#k200" x="175.6" y="196.4"/>
<use href="#k220" x="179.5" y="194.4"/>
<use href="#k261" x="81.3" y="207.4"/>
<use href="#k251" x="72" y="210.2"/>
<use href="#k241" x="221.7" y="186.7"/>
<use href="#k251" x="213.7" y="186.8"/>
<use href="#k270" x="226.6" y="183.3"/>
<use href="#k260" x="196.2" y="188.7"/>
<use href="#k240" x="233.6" y="185.2"/>
<use href="#k230" x="86.3" y="209.9"/>
<use href="#k261" x="67.3" y="210.8"/>
<use href="#k270" x="224.3" y="183.6"/>
<use href="#k241" x="217.5" y="188.1"/>
<use href="#k200" x="177" y="197.5"/>
<use href="#k230" x="193.3" y="193.4"/>
<use href="#k241" x="55.9" y="215.6"/>
<use href="#k250" x="211.9" y="188.8"/>
<use href="#k251" x="189.1" y="191.9"/>
<use href="#k250" x="62.2" y="214.1"/>
<use href="#k251" x="55.9" y="215.7"/>
<use href="#k240" x="53.8" y="216.6"/>
<use href="#k250" x="225.4" y="187.5"/>
<use href="#k250" x="233.2" y="185.9"/>
<use href="#k241" x="72.6" y="214.1"/>
<use href="#k220" x="186" y="196.4"/>
<use href="#k261" x="222.5" y="187.2"/>
<use href="#k250" x="204" y="190.6"/>
<use href="#k240" x="231.2" y="187.7"/>
<use href="#k230" x="188.9" y="195.2"/>
<use href="#k251" x="223.7" y="188.3"/>
<use href="#k241" x="213.8" y="190.8"/>
<use href="#k260" x="83.9" y="211"/>
<use href="#k271" x="232.8" y="184.7"/>
<use href="#k240" x="54.8" y="217.7"/>
<use href="#k241" x="71.4" y="216.1"/>
<use href="#k241" x="207.8" y="192.6"/>
<use href="#k200" x="103.3" y="212.7"/>
<use href="#k241" x="59.4" y="218.2"/>
<use href="#k260" x="60.6" y="215.1"/>
<use href="#k241" x="70.9" y="215.9"/>
<use href="#k220" x="94.6" y="212.9"/>
<use href="#k230" x="193.9" y="195.9"/>
<use href="#k241" x="219.8" y="191.1"/>
<use href="#k261" x="228.7" y="188.1"/>
<use href="#k251" x="232.3" y="188.7"/>
<use href="#k270" x="75.9" y="212.4"/>
<use href="#k220" x="91.9" y="213.9"/>
<use href="#k241" x="92.6" y="212.3"/>
<use href="#k240" x="213.7" y="193.4"/>
<use href="#k220" x="92.4" y="214.5"/>
<use href="#k261" x="201.8" y="193"/>
<use href="#k241" x="67" y="218.1"/>
<use href="#k210" x="98" y="214.6"/>
<use href="#k260" x="236.9" y="187.1"/>
<use href="#k250" x="56.9" y="219.4"/>
<use href="#k260" x="81.6" y="213.8"/>
<use href="#k240" x="56.1" y="219.9"/>
<use href="#k251" x="202.9" y="195.1"/>
<use href="#k270" x="233.2" y="188.1"/>
<use href="#k250" x="76.5" y="216.5"/>
<use href="#k241" x="222.4" y="192.9"/>
<use href="#k270" x="76.7" y="214.4"/>
<use href="#k251" x="72.5" y="216.7"/>
<use href="#k270" x="231.2" y="188.5"/>
<use href="#k241" x="211.4" y="194.5"/>
<use href="#k241" x="204.5" y="196.5"/>
<use href="#k200" x="106.7" y="214.9"/>
<use href="#k210" x="106.5" y="213.6"/>
<use href="#k270" x="211.7" y="192.3"/>
<use href="#k220" x="188.3" y="200.1"/>
<use href="#k240" x="65.2" y="220"/>
<use href="#k200" x="107.5" y="215.4"/>
<use href="#k251" x="75.4" y="217.8"/>
<use href="#k241" x="220.4" y="194.4"/>
<use href="#k240" x="78" y="218.9"/>
<use href="#k210" x="99.4" y="216.7"/>
<use href="#k230" x="201.4" y="198.4"/>
<use href="#k261" x="235.7" y="190.4"/>
<use href="#k271" x="238.1" y="188.3"/>
<use href="#k241" x="88.5" y="217.4"/>
<use href="#k240" x="198.2" y="199"/>
<use href="#k250" x="87.3" y="216.2"/>
<use href="#k240" x="57.6" y="222.9"/>
<use href="#k240" x="86.2" y="217.9"/>
<use href="#k230" x="193.8" y="200.3"/>
<use href="#k250" x="230" y="192.7"/>
<use href="#k250" x="213.4" y="196.2"/>
<use href="#k271" x="80.4" y="216.5"/>
<use href="#k210" x="106.1" y="216.5"/>
<use href="#k240" x="204.4" y="198.9"/>
<use href="#k230" x="195" y="200.3"/>
<use href="#k261" x="234.6" y="191.5"/>
<use href="#k251" x="228.4" y="193.7"/>
<use href="#k271" x="79.1" y="217.6"/>
<use href="#k220" x="103" y="216.9"/>
<use href="#k241" x="212.7" y="198.5"/>
<use href="#k230" x="204.6" y="200.2"/>
<use href="#k261" x="81.1" y="218.7"/>
<use href="#k261" x="71.9" y="220.7"/>
<use href="#k260" x="208" y="197.7"/>
<use href="#k251" x="91.9" y="218.5"/>
<use href="#k251" x="62.8" y="223.2"/>
<use href="#k241" x="229.4" y="196.6"/>
<use href="#k241" x="219.7" y="198.7"/>
<use href="#k240" x="227.1" y="197"/>
<use href="#k260" x="67.5" y="222.4"/>
<use href="#k260" x="89" y="218.9"/>
<use href="#k220" x="97.6" y="220.4"/>
<use href="#k251" x="221.2" y="198"/>
<use href="#k230" x="198.7" y="203.3"/>
<use href="#k270" x="227.9" y="194.3"/>
<use href="#k260" x="239.4" y="193.5"/>
<use href="#k251" x="244.3" y="194.8"/>
<use href="#k241" x="68.3" y="225.6"/>
<use href="#k241" x="194" y="203"/>
<use href="#k250" x="215.5" y="199"/>
<use href="#k251" x="97.1" y="218.2"/>
<use href="#k241" x="244.6" y="195.5"/>
<use href="#k241" x="242.9" y="196"/>
<use href="#k251" x="86.2" y="222.3"/>
<use href="#k271" x="87.1" y="220"/>
<use href="#k271" x="236.3" y="194.6"/>
<use href="#k251" x="91.3" y="221.8"/>
<use href="#k261" x="96.7" y="218.9"/>
<use href="#k250" x="237.1" y="197.3"/>
<use href="#k251" x="236.9" y="196.8"/>
<use href="#k260" x="220.1" y="198.4"/>
<use href="#k220" x="98.1" y="222.6"/>
<use href="#k240" x="228.5" y="199.8"/>
<use href="#k251" x="82.2" y="223.3"/>
<use href="#k241" x="94.9" y="222.3"/>
<use href="#k260" x="244.9" y="194.8"/>
<use href="#k241" x="206.9" y="202.9"/>
<use href="#k260" x="246" y="195.2"/>
<use href="#k241" x="213.6" y="202.3"/>
<use href="#k240" x="65.4" y="227.8"/>
<use href="#k250" x="248.6" y="196.4"/>
<use href="#k241" x="235.6" y="199"/>
<use href="#k250" x="64.9" y="227.3"/>
<use href="#k230" x="200.6" y="205.5"/>
<use href="#k251" x="216.1" y="201.6"/>
<use href="#k260" x="233.6" y="198.5"/>
<use href="#k200" x="186.6" y="210.1"/>
<use href="#k261" x="230.6" y="199.1"/>
<use href="#k200" x="186.4" y="211"/>
<use href="#k210" x="112" y="222.8"/>
<use href="#k271" x="219.9" y="199.7"/>
<use href="#k240" x="205.7" y="205.6"/>
<use href="#k241" x="220.2" y="202.6"/>
<use href="#k261" x="86.2" y="224.5"/>
<use href="#k250" x="236.9" y="199.8"/>
<use href="#k241" x="241" y="200.3"/>
<use href="#k220" x="109.3" y="222.4"/>
<use href="#k220" x="101.4" y="225.1"/>
<use href="#k200" x="189.3" y="211.1"/>
<use href="#k210" x="107.1" y="224.8"/>
<use href="#k261" x="231.8" y="200"/>
<use href="#k240" x="250.8" y="199.2"/>
<use href="#k210" x="111.8" y="224.1"/>
<use href="#k260" x="248.7" y="197.9"/>
<use href="#k240" x="215.6" y="205.9"/>
<use href="#k241" x="249.6" y="199.9"/>
<use href="#k240" x="77.6" y="230.1"/>
<use href="#k220" x="196.1" y="209.9"/>
<use href="#k241" x="68.2" y="231.3"/>
<use href="#k250" x="221.1" y="204.2"/>
<use href="#k250" x="249.7" y="199.3"/>
<use href="#k220" x="104.5" y="226.8"/>
<use href="#k230" x="208.4" y="208.4"/>
<use href="#k240" x="237.1" y="203.2"/>
<use href="#k241" x="245.7" y="201.8"/>
<use href="#k251" x="219.3" y="204.4"/>
<use href="#k200" x="191.6" y="212.7"/>
<use href="#k200" x="116.9" y="226"/>
<use href="#k271" x="242.7" y="199.4"/>
<use href="#k251" x="98.6" y="226.1"/>
<use href="#k241" x="78.6" y="231.2"/>
<use href="#k210" x="108" y="227.5"/>
<use href="#k250" x="89.7" y="228"/>
<use href="#k240" x="94.7" y="228.9"/>
<use href="#k230" x="106.9" y="226.5"/>
<use href="#k251" x="235.9" y="202.8"/>
<use href="#k251" x="252.7" y="200.6"/>
<use href="#k251" x="250" y="200.8"/>
<use href="#k261" x="82" y="229.5"/>
<use href="#k241" x="223.4" y="207.2"/>
<use href="#k220" x="108.5" y="227.3"/>
<use href="#k261" x="222.2" y="204.8"/>
<use href="#k241" x="92" y="230.6"/>
<use href="#k200" x="193" y="214.2"/>
<use href="#k251" x="86.6" y="230.4"/>
<use href="#k220" x="104.2" y="229.4"/>
<use href="#k240" x="251.8" y="202.8"/>
<use href="#k241" x="78.9" y="233.1"/>
<use href="#k241" x="209.2" y="210.5"/>
<use href="#k271" x="72" y="231.5"/>
<use href="#k240" x="254.6" y="203.4"/>
<use href="#k251" x="253.6" y="203.2"/>
<use href="#k251" x="251.7" y="203.2"/>
<use href="#k241" x="97.6" y="231.2"/>
<use href="#k251" x="249.9" y="203.6"/>
<use href="#k251" x="256.5" y="202.7"/>
<use href="#k260" x="239.9" y="205.2"/>
<use href="#k271" x="84.2" y="230.9"/>
<use href="#k250" x="255.6" y="203.4"/>
<use href="#k220" x="204.1" y="214.9"/>
<use href="#k240" x="79.5" y="235.7"/>
<use href="#k241" x="209" y="212.4"/>
<use href="#k251" x="208.5" y="210.9"/>
<use href="#k241" x="83.5" y="235"/>
<use href="#k240" x="208.2" y="212.8"/>
<use href="#k250" x="253.4" y="205.3"/>
<use href="#k200" x="115.3" y="231.6"/>
<use href="#k250" x="84.7" y="234.1"/>
<linearGradient id="sg35" x1="0" y1="0" x2="0" y2="1"><stop offset="0" stop-color="#ff7000"/><stop offset="0.2" stop-color="#ffb000"/><stop offset="0.5" stop-color="#ffe800"/><stop offset="0.8" stop-color="#e8ff00"/><stop offset="1" stop-color="#b0ff10"/></linearGradient><polygon fill="url(#sg35)" points="199.7,159 200.3,151.5 200.8,149 201.3,151.5 201.9,159"/>
<linearGradient id="sg36" x1="0" y1="0" x2="0" y2="1"><stop offset="0" stop-color="#ff3000"/><stop offset="0.2" stop-color="#ff7800"/><stop offset="0.5" stop-color="#ffc000"/><stop offset="0.8" stop-color="#fff900"/><stop offset="1" stop-color="#d0ff00"/></linearGradient><polygon fill="url(#sg36)" points="180.6,162 181.3,156 181.8,154 182.3,156 183,162"/>
<linearGradient id="sg37" x1="0" y1="0" x2="0" y2="1"><stop offset="0" stop-color="#ffe800"/><stop offset="0.2" stop-color="#f9ff00"/><stop offset="0.5" stop-color="#dcff00"/><stop offset="0.8" stop-color="#b8ff0c"/><stop offset="1" stop-color="#90ff20"/></linearGradient><polygon fill="url(#sg37)" points="186.9,159.5 187.5,152.8 188,150.5 188.5,152.8 189.1,159.5"/>
<linearGradient id="sg38" x1="0" y1="0" x2="0" y2="1"><stop offset="0" stop-color="#ff3000"/><stop offset="0.2" stop-color="#ff7800"/><stop offset="0.5" stop-color="#ffc000"/><stop offset="0.8" stop-color="#fff900"/><stop offset="1" stop-color="#d0ff00"/></linearGradient><polygon fill="url(#sg38)" points="223.7,182 224.4,175.2 225,173 225.6,175.2 226.3,182"/>
<linearGradient id="sg39" x1="0" y1="0" x2="0" y2="1"><stop offset="0" stop-color="#ff9000"/><stop offset="0.2" stop-color="#ffc000"/><stop offset="0.5" stop-color="#ffe800"/><stop offset="0.8" stop-color="#f4ff00"/><stop offset="1" stop-color="#d0ff00"/></linearGradient><polygon fill="url(#sg39)" points="215.8,171 216.5,165 217,163 217.5,165 218.2,171"/>
<linearGradient id="sg40" x1="0" y1="0" x2="0" y2="1"><stop offset="0" stop-color="#ff3000"/><stop offset="0.2" stop-color="#ff7800"/><stop offset="0.5" stop-color="#ffc000"/><stop offset="0.8" stop-color="#fff900"/><stop offset="1" stop-color="#d0ff00"/></linearGradient><polygon fill="url(#sg40)" points="226.2,190.5 226.9,183.8 227.5,181.5 228.1,183.8 228.8,190.5"/>
<linearGradient id="sg41" x1="0" y1="0" x2="0" y2="1"><stop offset="0" stop-color="#ff9000"/><stop offset="0.2" stop-color="#ffc000"/><stop offset="0.5" stop-color="#ffe800"/><stop offset="0.8" stop-color="#f4ff00"/><stop offset="1" stop-color="#d0ff00"/></linearGradient><polygon fill="url(#sg41)" points="241.8,194 242.5,188 243,186 243.5,188 244.2,194"/>
<linearGradient id="sg42" x1="0" y1="0" x2="0" y2="1"><stop offset="0" stop-color="#ff9000"/><stop offset="0.2" stop-color="#ffc000"/><stop offset="0.5" stop-color="#ffe800"/><stop offset="0.8" stop-color="#f4ff00"/><stop offset="1" stop-color="#d0ff00"/></linearGradient><polygon fill="url(#sg42)" points="209.8,186 210.5,180 211,178 211.5,180 212.2,186"/>
<linearGradient id="sg43" x1="0" y1="0" x2="0" y2="1"><stop offset="0" stop-color="#ff5000"/><stop offset="0.2" stop-color="#ff9000"/><stop offset="0.5" stop-color="#ffd000"/><stop offset="0.8" stop-color="#ffff00"/><stop offset="1" stop-color="#d0ff00"/></linearGradient><polygon fill="url(#sg43)" points="211.2,207.5 211.9,200.8 212.5,198.5 213.1,200.8 213.8,207.5"/>
<linearGradient id="sg44" x1="0" y1="0" x2="0" y2="1"><stop offset="0" stop-color="#ff9000"/><stop offset="0.2" stop-color="#ffc000"/><stop offset="0.5" stop-color="#ffe800"/><stop offset="0.8" stop-color="#f4ff00"/><stop offset="1" stop-color="#d0ff00"/></linearGradient><polygon fill="url(#sg44)" points="223.8,201.5 224.5,195.5 225,193.5 225.5,195.5 226.2,201.5"/>
<linearGradient id="sg45" x1="0" y1="0" x2="0" y2="1"><stop offset="0" stop-color="#ff9000"/><stop offset="0.2" stop-color="#ffc000"/><stop offset="0.5" stop-color="#ffe800"/><stop offset="0.8" stop-color="#f4ff00"/><stop offset="1" stop-color="#d0ff00"/></linearGradient><polygon fill="url(#sg45)" points="234.8,204 235.5,198 236,196 236.5,198 237.2,204"/>
<linearGradient id="sg46" x1="0" y1="0" x2="0" y2="1"><stop offset="0" stop-color="#ffb0a8"/><stop offset="0.2" stop-color="#ff3c10"/><stop offset="0.5" stop-color="#ff8000"/><stop offset="0.8" stop-color="#ffd600"/><stop offset="1" stop-color="#e8ff00"/></linearGradient><polygon fill="url(#sg46)" points="77.4,226.5 78.2,219 78.8,216.5 79.4,219 80.2,226.5"/>
<linearGradient id="sg47" x1="0" y1="0" x2="0" y2="1"><stop offset="0" stop-color="#ff9000"/><stop offset="0.2" stop-color="#ffc000"/><stop offset="0.5" stop-color="#ffe800"/><stop offset="0.8" stop-color="#f4ff00"/><stop offset="1" stop-color="#d0ff00"/></linearGradient><polygon fill="url(#sg47)" points="98.7,226.5 99.4,220.5 100,218.5 100.6,220.5 101.3,226.5"/>
<linearGradient id="sg48" x1="0" y1="0" x2="0" y2="1"><stop offset="0" stop-color="#ff9000"/><stop offset="0.2" stop-color="#ffc000"/><stop offset="0.5" stop-color="#ffe800"/><stop offset="0.8" stop-color="#f4ff00"/><stop offset="1" stop-color="#d0ff00"/></linearGradient><polygon fill="url(#sg48)" points="71.3,211.5 72,205.5 72.5,203.5 73,205.5 73.7,211.5"/>
<linearGradient id="sg49" x1="0" y1="0" x2="0" y2="1"><stop offset="0" stop-color="#ff3000"/><stop offset="0.2" stop-color="#ff7800"/><stop offset="0.5" stop-color="#ffc000"/><stop offset="0.8" stop-color="#fff900"/><stop offset="1" stop-color="#d0ff00"/></linearGradient><polygon fill="url(#sg49)" points="50.1,186 50.8,180 51.3,178 51.8,180 52.5,186"/>
<linearGradient id="sg50" x1="0" y1="0" x2="0" y2="1"><stop offset="0" stop-color="#ffd000"/><stop offset="0.2" stop-color="#fff900"/><stop offset="0.5" stop-color="#dcff00"/><stop offset="0.8" stop-color="#a8ff14"/><stop offset="1" stop-color="#68ff40"/></linearGradient><polygon fill="url(#sg50)" points="142.7,168.5 143.3,162.5 143.8,160.5 144.3,162.5 144.9,168.5"/>
<linearGradient id="sg51" x1="0" y1="0" x2="0" y2="1"><stop offset="0" stop-color="#ffff00"/><stop offset="0.2" stop-color="#d6ff00"/><stop offset="0.5" stop-color="#a0ff18"/><stop offset="0.8" stop-color="#5eff48"/><stop offset="1" stop-color="#20ff88"/></linearGradient><polygon fill="url(#sg51)" points="87.4,179 88,174.5 88.5,173 89,174.5 89.6,179"/>
<polygon fill="#a3a3a3" points="10.5,184.5 12,181.9 13.6,188.2 14.7,183.7 16.5,190.5 17.6,189.6 19.4,193.3 20.6,191.4 22.1,195.2 23.4,191.7 25.2,198.1 26.6,194.6 27.8,200 29.3,195.4 31,202 32.6,199.9 33.7,205.3 35.2,203.4 36.4,207.6 37.9,205.3 39.6,209.9 41,209.5 42.5,212.1 43.8,210.8 45.6,214.7 46.7,210.3 48.3,218.1 50.1,214.5 51.2,219.7 52.8,221.3 54.3,223.2 55.3,221.6 56.8,225.5 58.7,223.2 60.2,228.2 61.5,225.1 62.6,230.8 64.3,228.9 65.9,232.4 67.4,230.4 68.4,235.9 70,230.5 71.3,238.2 72.9,237.1 74.5,240.4 74.5,254.2 10,198.2"/>
<polygon fill="#a6a6a6" points="74.5,239.8 76.4,237.2 78,239.4 80.4,237.4 82.1,239.5 83.7,232.3 86,237.6 87.9,236.4 89.4,237.4 91.6,230 93.5,237.6 95.2,231.6 97.2,236.5 99,234.4 100.9,235.4 103,233.6 104.7,235.9 106.5,230.1 108.3,234.5 110.3,231.5 112.5,234.3 114.2,228.9 115.9,233.4 117.7,230.2 120.1,232.9 121.6,229.4 123.6,232.4 125.4,229.9 127.7,231.4 129.5,230.3 131,231.1 133.2,230.6 134.8,230.4 137.1,228.8 138.5,229.9 140.5,229.2 142.5,229.2 144.7,228.3 146.1,228.2 148.4,227.9 149.9,227.6 151.9,227.5 153.8,227.3 155.9,227.3 157.9,226.5 159.5,226.1 161.3,226.2 163.3,225.2 165.4,225.2 166.9,224.5 168.7,224.6 170.9,223.7 173,224.4 174.5,223.3 176.6,223.6 178.6,222.3 180.1,223 182.1,222.2 184,221.9 186.1,220.9 188.1,221.1 189.8,220 191.9,220.4 193.8,218.3 195.7,219.8 197.3,218.3 199.1,218.9 200.8,217.8 202.8,218 205,213.4 206.6,217.7 208.9,212.8 210.5,216.1 212.7,210.2 214.5,215.9 216.1,212.8 218,216.2 220.1,212.3 222.2,214.8 223.7,214.2 225.9,214 227.5,210.6 229.3,212.6 231.5,208.9 233.2,213.2 235.1,208.3 237.3,212.3 238.8,207.7 240.8,211.1 242.9,210.6 244.4,210.8 246.4,208.7 248.6,210.2 250.2,206 252.1,208.6 254,203.1 255.8,208.6 257.8,204.9 259.7,207.9 259.7,223 74.5,254.2"/>
<polygon fill="#cdcdcd" points="10,196.6 74.5,251.2 74.5,253.5 10,197.8"/>
<polyline fill="none" stroke="#5e5e5e" stroke-width="0.7" points="10,196.6 74.5,251.2"/>
<polyline fill="none" stroke="#505050" stroke-width="0.8" points="10,198 74.5,253.9"/>
<polygon fill="#cdcdcd" points="74.5,251.2 259.7,220.3 259.7,222.3 74.5,253.8"/>
<polyline fill="none" stroke="#5e5e5e" stroke-width="0.7" points="74.5,251.2 259.7,220.3"/>
<polyline fill="none" stroke="#505050" stroke-width="0.8" points="74.5,254 259.7,222.7"/>
<line x1="74.5" y1="240.3" x2="74.5" y2="254.2" stroke="#6a6a6a" stroke-width="0.7"/>
<line x1="259.5" y1="207.9" x2="259.5" y2="223" stroke="#7a7a7a" stroke-width="0.7"/>
<line x1="219.9" y1="226.5" x2="219.9" y2="229.3" stroke="#666" stroke-width="0.6"/>
</g>
<g id="panel-d">
<clipPath id="c3"><polygon points="314.5,177.4 316,176.6 317.6,177.2 318.9,176 320.2,176.2 321.7,175.9 323.4,175.5 324.6,175 326.2,175.1 327.8,174.4 329.4,174.7 331,173.7 332.2,174 334,172.8 335.3,173.2 336.4,172.2 338.2,172.7 339.4,171.7 341.4,172.2 342.5,171.5 344,171.4 345.7,170.6 347.2,170.7 348.7,169.9 349.9,170 351.5,168.9 352.8,169.3 354.6,168.5 356.1,169.2 357.4,168.3 358.8,168.6 360.3,167.4 361.6,167.7 363.3,167.4 365,167.5 366.4,166.4 367.9,167 369.2,166.7 370.5,166.6 372.5,165.4 373.9,166 375.3,164.5 376.4,165 377.9,164.3 379.6,164.6 381.2,162.9 382.7,163.7 383.8,162.6 385.6,163.1 387.1,161.9 388.7,162.8 390,162.3 391.3,162.6 392.7,161.3 394.7,162.7 395.8,161.6 397.3,162.4 398.8,160.4 400.3,162 401.7,161.3 403.2,161.7 404.6,159.4 406.1,160.8 407.5,158.5 409.4,160 410.5,158.2 412.1,159.1 413.4,157.5 415,158.4 416.7,156.7 417.8,158.5 419.8,157.4 421.3,158.2 422.3,156.5 423.9,157.4 425.7,155.5 427,156.1 428.2,154.5 429.8,155.8 431.1,153.8 432.6,155.3 434.6,153.5 436.1,154 437.4,152.2 439,153.8 440.2,152.4 442,152.6 443.5,150.8 444.7,151.6 446.5,148.9 448,150.6 449.1,149.9 450.8,150.5 452.1,149.9 453.9,150.4 455.1,148.3 456.6,149.5 458,147.4 459.5,148.9 460.8,146.8 462.7,147.6 463.7,147.2 465.4,147.3 466.8,146.5 468.6,146.9 470,145.9 471.5,146.1 472.9,145 474.2,145.6 475.9,144.3 477.5,145 478.6,144 480.3,144.4 481.8,143 483.2,143.7 484.7,143 486.1,143.1 487.7,142.2 489.2,142.7 490.8,141.7 492,142.1 493.7,141.2 495.2,141.5 496.7,140.7 498.2,140.9 499.5,139.7 500.6,141 501.9,142.4 502.7,143 504.2,144.5 505.3,145.1 505.9,146.5 507.3,147 508.1,148.6 509.2,148.9 510.4,150.5 511.5,151.1 512.6,152.7 513.8,153 514.9,154.6 516.4,155.4 517.1,156.7 518.5,157.3 519.8,158.8 520.7,159.2 521.8,160.7 522.8,161.3 524.3,162.8 524.8,163.2 526.4,164.8 527.3,165.3 528.2,166.9 529.8,167.3 530.4,168.9 531.9,169.3 532.9,170.9 533.9,171.2 534.8,172.9 536,173.6 537.4,175 538.4,175.4 539.3,177 540.8,177.7 541.8,179.1 543.2,179.6 544.1,181.1 544.9,181.6 546,183.1 547.4,183.7 548.7,185.2 549.5,185.9 550.8,187.2 552,187.8 552.7,189.2 554.2,189.9 555,191.2 556.3,192 557.3,193.3 558.7,193.7 559.3,195.3 560.7,196 561.8,197.4 562.8,197.8 564,199.4 563.2,208 378.5,243.5 314.8,184"/></clipPath>
<g clip-path="url(#c3)"><g filter="url(#relief)">
<polygon fill="#440100" points="371.6,263 374.5,262.4 259.4,156.2 256.5,156.8"/>
<polygon fill="#450100" points="373,262.7 375.9,262.1 260.9,155.9 258,156.5"/>
<polygon fill="#460100" points="374.4,262.4 377.4,261.8 262.3,155.6 259.4,156.2"/>
<polygon fill="#420100" points="375.9,262.1 378.8,261.6 263.7,155.4 260.8,155.9"/>
<polygon fill="#3f0100" points="377.3,261.9 380.2,261.3 265.1,155.1 262.2,155.7"/>
<polygon fill="#3d0100" points="378.7,261.6 381.6,261 266.5,154.8 263.6,155.4"/>
<polygon fill="#3b0100" points="380.2,261.3 383.1,260.7 268,154.5 265.1,155.1"/>
<polygon fill="#3f0100" points="381.6,261 384.5,260.4 269.4,154.2 266.5,154.8"/>
<polygon fill="#390100" points="383,260.7 385.9,260.1 270.8,153.9 267.9,154.5"/>
<polygon fill="#3e0100" points="384.4,260.4 387.4,259.8 272.2,153.6 269.3,154.2"/>
<polygon fill="#3f0100" points="385.9,260.1 388.8,259.6 273.6,153.4 270.7,153.9"/>
<polygon fill="#3d0100" points="387.3,259.9 390.2,259.3 275.1,153.1 272.2,153.7"/>
<polygon fill="#3a0100" points="388.7,259.6 391.6,259 276.5,152.8 273.6,153.4"/>
<polygon fill="#3c0100" points="390.2,259.3 393.1,258.7 277.9,152.5 275,153.1"/>
<polygon fill="#3f0100" points="391.6,259 394.5,258.4 279.3,152.2 276.4,152.8"/>
<polygon fill="#400100" points="393,258.7 395.9,258.1 280.8,151.9 277.9,152.5"/>
<polygon fill="#3e0100" points="394.4,258.4 397.4,257.9 282.2,151.7 279.3,152.2"/>
<polygon fill="#400100" points="395.9,258.2 398.8,257.6 283.6,151.4 280.7,152"/>
<polygon fill="#420100" points="397.3,257.9 400.2,257.3 285,151.1 282.1,151.7"/>
<polygon fill="#3d0100" points="398.7,257.6 401.1,257.1 287,150.7 283.5,151.4"/>
<polygon fill="#410100" points="400.2,257.3 401.5,257 289.6,150.2 285,151.1"/>
<polygon fill="#3a0100" points="401.1,257.1 401.9,256.9 292.1,149.7 286.9,150.7"/>
<polygon fill="#410100" points="401.5,257 402.4,256.9 294.7,149.2 289.5,150.2"/>
<polygon fill="#3c0100" points="401.9,256.9 402.8,256.8 297.2,148.6 292,149.7"/>
<polygon fill="#430100" points="402.3,256.9 403.2,256.7 299.8,148.1 294.6,149.2"/>
<polygon fill="#3f0100" points="402.8,256.8 403.6,256.6 302.3,147.6 297.1,148.7"/>
<polygon fill="#3b0100" points="403.2,256.7 404,256.5 304.9,147.1 299.7,148.2"/>
<polygon fill="#3d0100" points="403.6,256.6 404.4,256.4 307.4,146.6 302.2,147.6"/>
<polygon fill="#3f0100" points="404,256.5 404.9,256.4 309.9,146.1 304.7,147.1"/>
<polygon fill="#410100" points="404.4,256.4 405.3,256.3 312.5,145.6 307.3,146.6"/>
<polygon fill="#420100" points="404.8,256.4 405.7,256.2 315,145.1 309.8,146.1"/>
<polygon fill="#400100" points="405.3,256.3 406.1,256.1 317.6,144.6 312.4,145.6"/>
<polygon fill="#3f0100" points="405.7,256.2 406.5,256 320.1,144.1 314.9,145.1"/>
<polygon fill="#3e0100" points="406.1,256.1 406.9,255.9 322.7,143.5 317.5,144.6"/>
<polygon fill="#410100" points="406.5,256 407.4,255.9 325.2,143 320,144.1"/>
<polygon fill="#410100" points="406.9,255.9 408.4,255.7 327.1,142.7 322.6,143.6"/>
<polygon fill="#430100" points="407.3,255.9 409.4,255.5 329,142.3 325.1,143.1"/>
<polygon fill="#420100" points="408.3,255.7 410.5,255.2 330.8,141.9 327,142.7"/>
<polygon fill="#440100" points="409.4,255.5 411.5,255 332.7,141.5 328.9,142.3"/>
<polygon fill="#470100" points="410.4,255.3 412.6,254.8 334.5,141.2 330.7,141.9"/>
<polygon fill="#460100" points="411.5,255 413.6,254.6 336.3,140.8 332.6,141.6"/>
<polygon fill="#3f0100" points="412.5,254.8 414.7,254.4 338.2,140.4 334.4,141.2"/>
<polygon fill="#3f0100" points="413.6,254.6 415.7,254.2 340,140.1 336.3,140.8"/>
<polygon fill="#3e0100" points="414.6,254.4 416.8,254 341.9,139.7 338.1,140.5"/>
<polygon fill="#3e0100" points="415.7,254.2 417.8,253.8 343.7,139.3 340,140.1"/>
<polygon fill="#420100" points="416.7,254 418.9,253.6 345.6,139 341.8,139.7"/>
<polygon fill="#3d0100" points="417.8,253.8 419.9,253.4 347.4,138.6 343.6,139.3"/>
<polygon fill="#3d0100" points="418.8,253.6 421,253.2 349.2,138.2 345.5,139"/>
<polygon fill="#3c0100" points="419.9,253.4 422,252.9 351.1,137.9 347.3,138.6"/>
<polygon fill="#370100" points="420.9,253.2 423,252.7 352.9,137.5 349.2,138.2"/>
<polygon fill="#380100" points="422,253 424.1,252.5 354.8,137.1 351,137.9"/>
<polygon fill="#370100" points="423,252.7 425.1,252.3 356.6,136.7 352.9,137.5"/>
<polygon fill="#390100" points="424.1,252.5 426.2,252.1 358.5,136.4 354.7,137.1"/>
<polygon fill="#3c0100" points="425.1,252.3 427.2,251.9 360.3,136 356.5,136.8"/>
<polygon fill="#3e0100" points="426.2,252.1 428.3,251.7 362.1,135.6 358.4,136.4"/>
<polygon fill="#3e0100" points="427.2,251.9 429.4,251.5 363.9,135.3 360.2,136"/>
<polygon fill="#3b0100" points="428.3,251.7 431.2,251.1 364.9,135.1 362.1,135.7"/>
<polygon fill="#410100" points="429.4,251.5 433.1,250.7 365.9,134.9 363.8,135.3"/>
<polygon fill="#410100" points="431.2,251.1 434.9,250.4 366.9,134.7 364.8,135.1"/>
<polygon fill="#3f0100" points="433,250.8 436.7,250 367.9,134.5 365.8,134.9"/>
<polygon fill="#400100" points="434.8,250.4 438.5,249.7 368.8,134.3 366.8,134.7"/>
<polygon fill="#3d0100" points="436.6,250 440.3,249.3 369.8,134.1 367.8,134.5"/>
<polygon fill="#390100" points="438.4,249.7 442.1,248.9 370.8,133.9 368.8,134.3"/>
<polygon fill="#3a0100" points="440.2,249.3 443.9,248.6 371.8,133.7 369.8,134.1"/>
<polygon fill="#350100" points="442.1,248.9 445.8,248.2 372.8,133.5 370.8,133.9"/>
<polygon fill="#360100" points="443.9,248.6 447.6,247.8 373.8,133.3 371.8,133.7"/>
<polygon fill="#340100" points="445.7,248.2 449.4,247.5 374.8,133.1 372.8,133.5"/>
<polygon fill="#2b0100" points="447.5,247.9 451.2,247.1 375.8,132.9 373.8,133.3"/>
<polygon fill="#290100" points="449.3,247.5 453,246.8 376.8,132.7 374.8,133.1"/>
<polygon fill="#2a0100" points="451.1,247.1 454.8,246.4 377.8,132.5 375.7,132.9"/>
<polygon fill="#260100" points="452.9,246.8 456.7,246 378.8,132.3 376.7,132.7"/>
<polygon fill="#240100" points="454.8,246.4 458.5,245.7 379.8,132.1 377.7,132.5"/>
<polygon fill="#230100" points="456.6,246.1 460.3,245.3 380.7,131.9 378.7,132.3"/>
<polygon fill="#220100" points="458.4,245.7 462.1,245 381.7,131.7 379.7,132.1"/>
<polygon fill="#1c0100" points="460.2,245.3 463.9,244.6 382.7,131.5 380.7,131.9"/>
<polygon fill="#1d0100" points="462,245 465.7,244.2 383.7,131.3 381.7,131.7"/>
<polygon fill="#220100" points="463.8,244.6 467.5,243.9 384.7,131.1 382.7,131.5"/>
<polygon fill="#200100" points="465.7,244.2 469.4,243.5 385.7,130.9 383.7,131.3"/>
<polygon fill="#220100" points="467.5,243.9 471.2,243.1 386.7,130.7 384.7,131.1"/>
<polygon fill="#240100" points="469.3,243.5 473,242.8 387.7,130.5 385.7,130.9"/>
<polygon fill="#250100" points="471.1,243.2 474.8,242.4 388.7,130.3 386.7,130.7"/>
<polygon fill="#260100" points="472.9,242.8 476.6,242.1 389.7,130.1 387.6,130.5"/>
<polygon fill="#260100" points="474.7,242.4 478.4,241.7 390.7,129.9 388.6,130.3"/>
<polygon fill="#2a0100" points="476.5,242.1 480.2,241.3 391.7,129.7 389.6,130.1"/>
<polygon fill="#250100" points="478.4,241.7 482.2,241 392.5,129.6 390.6,129.9"/>
<polygon fill="#2c0100" points="480.2,241.4 484.2,240.5 393.3,129.4 391.6,129.7"/>
<polygon fill="#290100" points="482.1,241 486.2,240.1 394,129.3 392.5,129.6"/>
<polygon fill="#260100" points="484.1,240.6 488.3,239.7 394.8,129.1 393.2,129.4"/>
<polygon fill="#200100" points="486.2,240.2 490.3,239.3 395.5,129 394,129.3"/>
<polygon fill="#240100" points="488.2,239.8 492.3,238.9 396.2,128.8 394.7,129.1"/>
<polygon fill="#1d0100" points="490.2,239.3 494.4,238.5 397,128.7 395.5,129"/>
<polygon fill="#1c0100" points="492.3,238.9 496.4,238.1 397.7,128.5 396.2,128.8"/>
<polygon fill="#1d0100" points="494.3,238.5 498.5,237.7 398.5,128.4 397,128.7"/>
<polygon fill="#170100" points="496.3,238.1 500.5,237.3 399.2,128.2 397.7,128.5"/>
<polygon fill="#1f0100" points="498.4,237.7 502.5,236.9 400,128.1 398.5,128.4"/>
<polygon fill="#230100" points="500.4,237.3 504.6,236.5 400.7,127.9 399.2,128.2"/>
<polygon fill="#2a0100" points="502.4,236.9 506.6,236.1 401.5,127.8 400,128.1"/>
<polygon fill="#260100" points="504.5,236.5 508.3,235.7 402.6,127.5 400.7,127.9"/>
<polygon fill="#2b0100" points="506.5,236.1 509.7,235.5 404.1,127.3 401.4,127.8"/>
<polygon fill="#260100" points="508.2,235.8 511.1,235.2 405.5,127 402.5,127.6"/>
<polygon fill="#270100" points="509.6,235.5 512.5,234.9 407,126.7 404,127.3"/>
<polygon fill="#240100" points="511,235.2 513.9,234.6 408.4,126.4 405.5,127"/>
<polygon fill="#220100" points="512.4,234.9 515.3,234.4 409.9,126.1 406.9,126.7"/>
<polygon fill="#2e0100" points="513.8,234.7 516.6,234.1 411.4,125.8 408.4,126.4"/>
<polygon fill="#290100" points="515.2,234.4 518,233.8 412.8,125.5 409.8,126.1"/>
<polygon fill="#280100" points="516.6,234.1 519.4,233.5 414.3,125.2 411.3,125.8"/>
<polygon fill="#2d0100" points="518,233.8 520.8,233.3 415.7,124.9 412.8,125.5"/>
<polygon fill="#320100" points="519.4,233.5 522.2,233 417.2,124.6 414.2,125.2"/>
<polygon fill="#2e0100" points="520.8,233.3 523.6,232.7 418.7,124.3 415.7,124.9"/>
<polygon fill="#380100" points="522.2,233 525,232.4 420.1,124 417.1,124.6"/>
<polygon fill="#430100" points="523.6,232.7 526.4,232.1 421.6,123.7 418.6,124.3"/>
<polygon fill="#3e0100" points="524.9,232.4 527.8,231.9 423,123.4 420.1,124"/>
<polygon fill="#3c0100" points="526.3,232.2 529.2,231.6 424.5,123.2 421.5,123.8"/>
<polygon fill="#370100" points="527.7,231.9 530.6,231.3 426,122.9 423,123.5"/>
<polygon fill="#320100" points="529.1,231.6 532,231 427.4,122.6 424.4,123.2"/>
<polygon fill="#2f0100" points="530.5,231.3 533.4,230.8 428.9,122.3 425.9,122.9"/>
<polygon fill="#310100" points="531.9,231 534.8,230.5 430.4,122 427.4,122.6"/>
<polygon fill="#330100" points="533.3,230.8 536.1,230.2 431.8,121.7 428.8,122.3"/>
<polygon fill="#390100" points="534.7,230.5 537.5,229.9 433.3,121.4 430.3,122"/>
<polygon fill="#330100" points="536.1,230.2 539,229.6 434.6,121.1 431.8,121.7"/>
<polygon fill="#3d0100" points="537.5,229.9 540.6,229.3 435.8,120.9 433.2,121.4"/>
<polygon fill="#3f0100" points="539,229.6 542.2,229 437.1,120.6 434.6,121.1"/>
<polygon fill="#390100" points="540.6,229.3 543.9,228.7 438.3,120.4 435.8,120.9"/>
<polygon fill="#390100" points="542.2,229 545.5,228.3 439.5,120.2 437,120.7"/>
<polygon fill="#3b0100" points="543.8,228.7 547.1,228 440.7,119.9 438.2,120.4"/>
<polygon fill="#3a0100" points="545.4,228.4 548.7,227.7 441.9,119.7 439.4,120.2"/>
<polygon fill="#380100" points="547,228 550.3,227.4 443.1,119.4 440.7,119.9"/>
<polygon fill="#3a0100" points="548.6,227.7 551.9,227.1 444.4,119.2 441.9,119.7"/>
<polygon fill="#3a0100" points="550.2,227.4 553.5,226.7 445.6,118.9 443.1,119.4"/>
<polygon fill="#3c0100" points="551.9,227.1 555.2,226.4 446.8,118.7 444.3,119.2"/>
<polygon fill="#390100" points="553.5,226.7 556.8,226.1 448,118.4 445.5,118.9"/>
<polygon fill="#390100" points="555.1,226.4 558.4,225.8 449.2,118.2 446.7,118.7"/>
<polygon fill="#370100" points="556.7,226.1 560,225.4 450.4,118 448,118.5"/>
<polygon fill="#380100" points="558.3,225.8 561.6,225.1 451.7,117.7 449.2,118.2"/>
<polygon fill="#380100" points="559.9,225.5 563.2,224.8 452.9,117.5 450.4,118"/>
<polygon fill="#380100" points="561.5,225.1 564.8,224.5 454.1,117.2 451.6,117.7"/>
<polygon fill="#3a0100" points="563.2,224.8 566.4,224.2 455.3,117 452.8,117.5"/>
<polygon fill="#3a0100" points="564.8,224.5 568.1,223.8 456.5,116.7 454,117.2"/>
<polygon fill="#390100" points="566.4,224.2 569.7,223.5 457.7,116.5 455.3,117"/>
<polygon fill="#3a0100" points="568,223.9 571.3,223.2 458.9,116.3 456.5,116.8"/>
<polygon fill="#390100" points="569.6,223.5 572.9,222.9 460.2,116 457.7,116.5"/>
<polygon fill="#390100" points="571.2,223.2 574.5,222.6 461.4,115.8 458.9,116.3"/>
<polygon fill="#380100" points="572.8,222.9 576.1,222.2 462.6,115.5 460.1,116"/>
<polygon fill="#380100" points="574.4,222.6 577.7,221.9 463.8,115.3 461.3,115.8"/>
<polygon fill="#370100" points="576.1,222.2 579.3,221.6 465,115 462.5,115.5"/>
<polygon fill="#380100" points="577.7,221.9 581,221.3 466.2,114.8 463.8,115.3"/>
<polygon fill="#380100" points="579.3,221.6 582.6,220.9 467.5,114.6 465,115.1"/>
<polygon fill="#3b0100" points="580.9,221.3 584.2,220.6 468.7,114.3 466.2,114.8"/>
<polygon fill="#370100" points="582.5,221 585.8,220.3 469.9,114.1 467.4,114.6"/>
<polygon fill="#390100" points="584.1,220.6 587.3,220 471.2,113.8 468.6,114.3"/>
<polygon fill="#370100" points="585.7,220.3 588.7,219.7 472.6,113.5 469.8,114.1"/>
<polygon fill="#390100" points="587.3,220 590.2,219.4 474.1,113.2 471.2,113.8"/>
<polygon fill="#380100" points="588.7,219.7 591.6,219.1 475.5,112.9 472.6,113.5"/>
<polygon fill="#3a0100" points="590.1,219.4 593,218.9 476.9,112.7 474,113.2"/>
<polygon fill="#380100" points="591.5,219.2 594.5,218.6 478.3,112.4 475.4,113"/>
<polygon fill="#380100" points="593,218.9 595.9,218.3 479.7,112.1 476.8,112.7"/>
<polygon fill="#360100" points="594.4,218.6 597.3,218 481.2,111.8 478.3,112.4"/>
<polygon fill="#370100" points="595.8,218.3 598.7,217.7 482.6,111.5 479.7,112.1"/>
<polygon fill="#380100" points="597.3,218 600.2,217.4 484,111.2 481.1,111.8"/>
<polygon fill="#390100" points="598.7,217.7 601.6,217.2 485.4,111 482.5,111.5"/>
<polygon fill="#380100" points="600.1,217.5 603,216.9 486.8,110.7 483.9,111.3"/>
<polygon fill="#370100" points="601.5,217.2 604.5,216.6 488.3,110.4 485.4,111"/>
<polygon fill="#380100" points="603,216.9 605.9,216.3 489.7,110.1 486.8,110.7"/>
<polygon fill="#380100" points="604.4,216.6 607.3,216 491.1,109.8 488.2,110.4"/>
<polygon fill="#380100" points="605.8,216.3 608.7,215.7 492.5,109.5 489.6,110.1"/>
<polygon fill="#380100" points="607.3,216 610.2,215.4 494,109.2 491.1,109.8"/>
<polygon fill="#380100" points="608.7,215.7 611.6,215.2 495.4,109 492.5,109.5"/>
<polygon fill="#380100" points="610.1,215.5 613,214.9 496.8,108.7 493.9,109.3"/>
<polygon fill="#380100" points="611.5,215.2 614.5,214.6 498.2,108.4 495.3,109"/>
<polygon fill="#380100" points="613,214.9 615.9,214.3 499.6,108.1 496.7,108.7"/>
</g></g>

<polygon fill="#a3a3a3" points="314.5,177.4 315.8,178.2 317.5,180.1 318.5,181.1 320.4,182.7 321.4,183.7 322.8,185.3 324.5,186.3 326.1,187.9 327.4,188.9 328.6,190.5 330,191.5 331.7,193.1 333.2,193.9 334.2,195.8 335.8,196.7 337.3,198.4 338.9,199 339.9,201 341.6,201.6 342.9,203.7 344.4,204.6 345.9,206.3 347.2,206.9 348.7,208.9 350.2,209.9 351.7,211.5 353,212.2 354.3,214.1 355.5,214.9 357.4,216.7 358.5,217.2 359.8,219.4 361.3,220 363,222 364.2,222.8 365.7,224.6 367.2,225.3 368.5,227.2 369.8,228.1 371.7,229.8 372.6,230.6 374.1,232.5 375.6,233.4 376.9,235.1 378.5,235.8 378.5,246.5 314,186.5"/>
<polygon fill="#a6a6a6" points="378.5,236.4 380.5,235.3 382.1,235.5 383.8,235.4 386,234.9 387.6,233.9 389.7,234.3 391.9,233 393.8,233.3 395.5,232.4 397.4,232.3 398.9,231.6 400.7,232.1 403.1,230.6 404.7,231.4 406.8,230.3 408.2,231 410.4,229.9 412.3,230.2 414,229.1 416.2,229 417.7,227.4 419.6,228.1 421.6,226.9 423.7,227.4 425.4,226.5 427.4,227.2 429.4,225.5 430.8,226.5 432.7,224.5 434.9,226.6 436.5,224.9 438.7,225.9 440,224.1 442.5,225.6 444.2,223.4 445.8,225.3 447.5,223.2 449.9,224.2 451.5,222.1 453.7,223.4 455.3,222.2 457.4,222.4 459.3,221.3 460.6,221.4 463,219.8 464.6,220.5 466.8,219.3 468.7,220.1 470.6,218.3 472,219.5 474.2,218.8 476,219.3 478.1,218 479.5,218.8 481.8,216.8 483.2,217.2 485.6,214.7 487.5,216 489,214.6 490.8,215.5 493,214.2 494.6,214.2 496.6,212.4 498.3,213.6 500.6,211.2 501.9,212.7 504.1,209.4 505.7,210.8 507.5,209.8 509.4,210.9 511.4,209 513.4,210.3 515,207.6 517,209.4 519.1,206.6 521,207.8 522.9,206.9 524.6,207.4 526.8,205.8 528.3,206.7 530.6,205.4 532.3,205.7 534,205.1 536.1,205.2 537.9,204.7 539.7,204.5 541.7,203.4 543.5,203.6 545.2,202.5 547,202.9 548.8,201.7 550.8,202.1 553,201.5 554.9,201.4 556.6,200.7 558.2,200.7 560,199.7 562.2,200 564,199 564,210.5 378.5,246.5"/>
<polygon fill="#cdcdcd" points="314,184.9 378.5,243.5 378.5,245.8 314,186.1"/>
<polyline fill="none" stroke="#5e5e5e" stroke-width="0.7" points="314,184.9 378.5,243.5"/>
<polyline fill="none" stroke="#505050" stroke-width="0.8" points="314,186.3 378.5,246.2"/>
<polygon fill="#cdcdcd" points="378.5,243.5 564,207.8 564,209.8 378.5,246.1"/>
<polyline fill="none" stroke="#5e5e5e" stroke-width="0.7" points="378.5,243.5 564,207.8"/>
<polyline fill="none" stroke="#505050" stroke-width="0.8" points="378.5,246.3 564,210.2"/>
<line x1="378.5" y1="236.9" x2="378.5" y2="246.5" stroke="#6a6a6a" stroke-width="0.7"/>
<line x1="563.8" y1="199" x2="563.8" y2="210.5" stroke="#7a7a7a" stroke-width="0.7"/>
<line x1="524.1" y1="215" x2="524.1" y2="217.8" stroke="#666" stroke-width="0.6"/>
</g>
<rect x="7.5" y="41.5" width="2" height="30.5" fill="#a8a8a8" stroke="#444" stroke-width="0.5"/>
<line x1="6.6" y1="41.5" x2="8.7" y2="41.5" stroke="#333" stroke-width="0.5"/>
<line x1="6.6" y1="43.8" x2="8.7" y2="43.8" stroke="#333" stroke-width="0.5"/>
<line x1="6.6" y1="46.2" x2="8.7" y2="46.2" stroke="#333" stroke-width="0.5"/>
<line x1="6.6" y1="48.5" x2="8.7" y2="48.5" stroke="#333" stroke-width="0.5"/>
<line x1="6.6" y1="50.9" x2="8.7" y2="50.9" stroke="#333" stroke-width="0.5"/>
<line x1="6.6" y1="53.2" x2="8.7" y2="53.2" stroke="#333" stroke-width="0.5"/>
<line x1="6.6" y1="55.6" x2="8.7" y2="55.6" stroke="#333" stroke-width="0.5"/>
<line x1="6.6" y1="57.9" x2="8.7" y2="57.9" stroke="#333" stroke-width="0.5"/>
<line x1="6.6" y1="60.3" x2="8.7" y2="60.3" stroke="#333" stroke-width="0.5"/>
<line x1="6.6" y1="62.6" x2="8.7" y2="62.6" stroke="#333" stroke-width="0.5"/>
<line x1="6.6" y1="65" x2="8.7" y2="65" stroke="#333" stroke-width="0.5"/>
<line x1="6.6" y1="67.3" x2="8.7" y2="67.3" stroke="#333" stroke-width="0.5"/>
<line x1="6.6" y1="69.7" x2="8.7" y2="69.7" stroke="#333" stroke-width="0.5"/>
<line x1="6.6" y1="72" x2="8.7" y2="72" stroke="#333" stroke-width="0.5"/>
<text x="1" y="35.6" class="s">31.7 µm</text>
<rect x="311.6" y="44.8" width="2" height="24.7" fill="#a8a8a8" stroke="#444" stroke-width="0.5"/>
<line x1="310.7" y1="44.8" x2="312.8" y2="44.8" stroke="#333" stroke-width="0.5"/>
<line x1="310.7" y1="47" x2="312.8" y2="47" stroke="#333" stroke-width="0.5"/>
<line x1="310.7" y1="49.3" x2="312.8" y2="49.3" stroke="#333" stroke-width="0.5"/>
<line x1="310.7" y1="51.5" x2="312.8" y2="51.5" stroke="#333" stroke-width="0.5"/>
<line x1="310.7" y1="53.8" x2="312.8" y2="53.8" stroke="#333" stroke-width="0.5"/>
<line x1="310.7" y1="56" x2="312.8" y2="56" stroke="#333" stroke-width="0.5"/>
<line x1="310.7" y1="58.3" x2="312.8" y2="58.3" stroke="#333" stroke-width="0.5"/>
<line x1="310.7" y1="60.5" x2="312.8" y2="60.5" stroke="#333" stroke-width="0.5"/>
<line x1="310.7" y1="62.8" x2="312.8" y2="62.8" stroke="#333" stroke-width="0.5"/>
<line x1="310.7" y1="65" x2="312.8" y2="65" stroke="#333" stroke-width="0.5"/>
<line x1="310.7" y1="67.3" x2="312.8" y2="67.3" stroke="#333" stroke-width="0.5"/>
<line x1="310.7" y1="69.5" x2="312.8" y2="69.5" stroke="#333" stroke-width="0.5"/>
<text x="305" y="39.6" class="s">21.9 µm</text>
<rect x="7.5" y="168.7" width="2" height="29.3" fill="#a8a8a8" stroke="#444" stroke-width="0.5"/>
<line x1="6.6" y1="168.7" x2="8.7" y2="168.7" stroke="#333" stroke-width="0.5"/>
<line x1="6.6" y1="171" x2="8.7" y2="171" stroke="#333" stroke-width="0.5"/>
<line x1="6.6" y1="173.2" x2="8.7" y2="173.2" stroke="#333" stroke-width="0.5"/>
<line x1="6.6" y1="175.5" x2="8.7" y2="175.5" stroke="#333" stroke-width="0.5"/>
<line x1="6.6" y1="177.7" x2="8.7" y2="177.7" stroke="#333" stroke-width="0.5"/>
<line x1="6.6" y1="180" x2="8.7" y2="180" stroke="#333" stroke-width="0.5"/>
<line x1="6.6" y1="182.2" x2="8.7" y2="182.2" stroke="#333" stroke-width="0.5"/>
<line x1="6.6" y1="184.5" x2="8.7" y2="184.5" stroke="#333" stroke-width="0.5"/>
<line x1="6.6" y1="186.7" x2="8.7" y2="186.7" stroke="#333" stroke-width="0.5"/>
<line x1="6.6" y1="189" x2="8.7" y2="189" stroke="#333" stroke-width="0.5"/>
<line x1="6.6" y1="191.2" x2="8.7" y2="191.2" stroke="#333" stroke-width="0.5"/>
<line x1="6.6" y1="193.5" x2="8.7" y2="193.5" stroke="#333" stroke-width="0.5"/>
<line x1="6.6" y1="195.7" x2="8.7" y2="195.7" stroke="#333" stroke-width="0.5"/>
<line x1="6.6" y1="198" x2="8.7" y2="198" stroke="#333" stroke-width="0.5"/>
<text x="1" y="163.3" class="s">33.5 µm</text>
<rect x="311.8" y="174" width="2" height="11.5" fill="#a8a8a8" stroke="#444" stroke-width="0.5"/>
<line x1="310.9" y1="174" x2="313" y2="174" stroke="#333" stroke-width="0.5"/>
<line x1="310.9" y1="176.3" x2="313" y2="176.3" stroke="#333" stroke-width="0.5"/>
<line x1="310.9" y1="178.6" x2="313" y2="178.6" stroke="#333" stroke-width="0.5"/>
<line x1="310.9" y1="180.9" x2="313" y2="180.9" stroke="#333" stroke-width="0.5"/>
<line x1="310.9" y1="183.2" x2="313" y2="183.2" stroke="#333" stroke-width="0.5"/>
<line x1="310.9" y1="185.5" x2="313" y2="185.5" stroke="#333" stroke-width="0.5"/>
<text x="305.5" y="168.3" class="s">11.8 µm</text>
<linearGradient id="cb0" x1="0" y1="0" x2="0" y2="1"><stop offset="0.0000" stop-color="#fff5f5"/><stop offset="0.0294" stop-color="#ffe8e8"/><stop offset="0.0588" stop-color="#ffd8d8"/><stop offset="0.0882" stop-color="#ffc4c0"/><stop offset="0.1176" stop-color="#ffb0a8"/><stop offset="0.1471" stop-color="#ff8870"/><stop offset="0.1765" stop-color="#ff6040"/><stop offset="0.2059" stop-color="#ff3000"/><stop offset="0.2353" stop-color="#ff5000"/><stop offset="0.2647" stop-color="#ff7000"/><stop offset="0.2941" stop-color="#ff9000"/><stop offset="0.3235" stop-color="#ffb000"/><stop offset="0.3529" stop-color="#ffd000"/><stop offset="0.3824" stop-color="#ffe800"/><stop offset="0.4118" stop-color="#ffff00"/><stop offset="0.4412" stop-color="#e8ff00"/><stop offset="0.4706" stop-color="#d0ff00"/><stop offset="0.5000" stop-color="#b0ff10"/><stop offset="0.5294" stop-color="#90ff20"/><stop offset="0.5588" stop-color="#68ff40"/><stop offset="0.5882" stop-color="#40ff60"/><stop offset="0.6176" stop-color="#20ff88"/><stop offset="0.6471" stop-color="#00ffb0"/><stop offset="0.6765" stop-color="#00ffe0"/><stop offset="0.7059" stop-color="#00e8ff"/><stop offset="0.7353" stop-color="#00c4ff"/><stop offset="0.7647" stop-color="#00a0ff"/><stop offset="0.7941" stop-color="#0080ff"/><stop offset="0.8235" stop-color="#0060ff"/><stop offset="0.8529" stop-color="#0030ff"/><stop offset="0.8824" stop-color="#0010e8"/><stop offset="0.9118" stop-color="#0000b0"/><stop offset="0.9412" stop-color="#000070"/><stop offset="0.9706" stop-color="#000030"/><stop offset="1.0000" stop-color="#000000"/></linearGradient>
<rect x="280.7" y="8.5" width="7" height="116.2" fill="url(#cb0)" stroke="#555" stroke-width="0.7"/>
<line x1="287.7" y1="124.7" x2="289" y2="124.7" stroke="#333" stroke-width="0.5"/>
<text x="291.3" y="126.3" class="s">0</text>
<line x1="287.7" y1="121.3" x2="288.5" y2="121.3" stroke="#333" stroke-width="0.4"/>
<line x1="287.7" y1="117.9" x2="289" y2="117.9" stroke="#333" stroke-width="0.5"/>
<text x="291.3" y="119.5" class="s">2</text>
<line x1="287.7" y1="114.4" x2="288.5" y2="114.4" stroke="#333" stroke-width="0.4"/>
<line x1="287.7" y1="111" x2="289" y2="111" stroke="#333" stroke-width="0.5"/>
<text x="291.3" y="112.6" class="s">4</text>
<line x1="287.7" y1="107.6" x2="288.5" y2="107.6" stroke="#333" stroke-width="0.4"/>
<line x1="287.7" y1="104.2" x2="289" y2="104.2" stroke="#333" stroke-width="0.5"/>
<text x="291.3" y="105.8" class="s">6</text>
<line x1="287.7" y1="100.8" x2="288.5" y2="100.8" stroke="#333" stroke-width="0.4"/>
<line x1="287.7" y1="97.4" x2="289" y2="97.4" stroke="#333" stroke-width="0.5"/>
<text x="291.3" y="99" class="s">8</text>
<line x1="287.7" y1="93.9" x2="288.5" y2="93.9" stroke="#333" stroke-width="0.4"/>
<line x1="287.7" y1="90.5" x2="290.3" y2="90.5" stroke="#333" stroke-width="0.5"/>
<text x="291.3" y="92.1" class="s">10</text>
<line x1="287.7" y1="87.1" x2="288.5" y2="87.1" stroke="#333" stroke-width="0.4"/>
<line x1="287.7" y1="83.7" x2="289" y2="83.7" stroke="#333" stroke-width="0.5"/>
<text x="291.3" y="85.3" class="s">12</text>
<line x1="287.7" y1="80.3" x2="288.5" y2="80.3" stroke="#333" stroke-width="0.4"/>
<line x1="287.7" y1="76.9" x2="289" y2="76.9" stroke="#333" stroke-width="0.5"/>
<text x="291.3" y="78.5" class="s">14</text>
<line x1="287.7" y1="73.4" x2="288.5" y2="73.4" stroke="#333" stroke-width="0.4"/>
<line x1="287.7" y1="70" x2="289" y2="70" stroke="#333" stroke-width="0.5"/>
<text x="291.3" y="71.6" class="s">16</text>
<line x1="287.7" y1="66.6" x2="288.5" y2="66.6" stroke="#333" stroke-width="0.4"/>
<line x1="287.7" y1="63.2" x2="289" y2="63.2" stroke="#333" stroke-width="0.5"/>
<text x="291.3" y="64.8" class="s">18</text>
<line x1="287.7" y1="59.8" x2="288.5" y2="59.8" stroke="#333" stroke-width="0.4"/>
<line x1="287.7" y1="56.3" x2="290.3" y2="56.3" stroke="#333" stroke-width="0.5"/>
<text x="291.3" y="57.9" class="s">20</text>
<line x1="287.7" y1="52.9" x2="288.5" y2="52.9" stroke="#333" stroke-width="0.4"/>
<line x1="287.7" y1="49.5" x2="289" y2="49.5" stroke="#333" stroke-width="0.5"/>
<text x="291.3" y="51.1" class="s">22</text>
<line x1="287.7" y1="46.1" x2="288.5" y2="46.1" stroke="#333" stroke-width="0.4"/>
<line x1="287.7" y1="42.7" x2="289" y2="42.7" stroke="#333" stroke-width="0.5"/>
<text x="291.3" y="44.3" class="s">24</text>
<line x1="287.7" y1="39.3" x2="288.5" y2="39.3" stroke="#333" stroke-width="0.4"/>
<line x1="287.7" y1="35.8" x2="289" y2="35.8" stroke="#333" stroke-width="0.5"/>
<text x="291.3" y="37.4" class="s">26</text>
<line x1="287.7" y1="32.4" x2="288.5" y2="32.4" stroke="#333" stroke-width="0.4"/>
<line x1="287.7" y1="29" x2="289" y2="29" stroke="#333" stroke-width="0.5"/>
<text x="291.3" y="30.6" class="s">28</text>
<line x1="287.7" y1="25.6" x2="288.5" y2="25.6" stroke="#333" stroke-width="0.4"/>
<line x1="287.7" y1="22.2" x2="290.3" y2="22.2" stroke="#333" stroke-width="0.5"/>
<text x="291.3" y="23.8" class="s">30</text>
<line x1="287.7" y1="18.8" x2="288.5" y2="18.8" stroke="#333" stroke-width="0.4"/>
<line x1="287.7" y1="15.3" x2="289" y2="15.3" stroke="#333" stroke-width="0.5"/>
<text x="291.3" y="16.9" class="s">32</text>
<line x1="287.7" y1="11.9" x2="288.5" y2="11.9" stroke="#333" stroke-width="0.4"/>
<line x1="287.7" y1="8.5" x2="289" y2="8.5" stroke="#333" stroke-width="0.5"/>
<text x="291.3" y="10.1" class="s">34</text>
<text x="291.1" y="4.1" class="u">µm</text>
<linearGradient id="cb1" x1="0" y1="0" x2="0" y2="1"><stop offset="0.0000" stop-color="#fff5f5"/><stop offset="0.0294" stop-color="#ffe8e8"/><stop offset="0.0588" stop-color="#ffd8d8"/><stop offset="0.0882" stop-color="#ffc4c0"/><stop offset="0.1176" stop-color="#ffb0a8"/><stop offset="0.1471" stop-color="#ff8870"/><stop offset="0.1765" stop-color="#ff6040"/><stop offset="0.2059" stop-color="#ff3000"/><stop offset="0.2353" stop-color="#ff5000"/><stop offset="0.2647" stop-color="#ff7000"/><stop offset="0.2941" stop-color="#ff9000"/><stop offset="0.3235" stop-color="#ffb000"/><stop offset="0.3529" stop-color="#ffd000"/><stop offset="0.3824" stop-color="#ffe800"/><stop offset="0.4118" stop-color="#ffff00"/><stop offset="0.4412" stop-color="#e8ff00"/><stop offset="0.4706" stop-color="#d0ff00"/><stop offset="0.5000" stop-color="#b0ff10"/><stop offset="0.5294" stop-color="#90ff20"/><stop offset="0.5588" stop-color="#68ff40"/><stop offset="0.5882" stop-color="#40ff60"/><stop offset="0.6176" stop-color="#20ff88"/><stop offset="0.6471" stop-color="#00ffb0"/><stop offset="0.6765" stop-color="#00ffe0"/><stop offset="0.7059" stop-color="#00e8ff"/><stop offset="0.7353" stop-color="#00c4ff"/><stop offset="0.7647" stop-color="#00a0ff"/><stop offset="0.7941" stop-color="#0080ff"/><stop offset="0.8235" stop-color="#0060ff"/><stop offset="0.8529" stop-color="#0030ff"/><stop offset="0.8824" stop-color="#0010e8"/><stop offset="0.9118" stop-color="#0000b0"/><stop offset="0.9412" stop-color="#000070"/><stop offset="0.9706" stop-color="#000030"/><stop offset="1.0000" stop-color="#000000"/></linearGradient>
<rect x="584.8" y="8.6" width="7" height="116.1" fill="url(#cb1)" stroke="#555" stroke-width="0.7"/>
<line x1="591.8" y1="124.7" x2="593.1" y2="124.7" stroke="#333" stroke-width="0.5"/>
<text x="595.4" y="126.3" class="s">0</text>
<line x1="591.8" y1="121.3" x2="592.6" y2="121.3" stroke="#333" stroke-width="0.4"/>
<line x1="591.8" y1="117.9" x2="593.1" y2="117.9" stroke="#333" stroke-width="0.5"/>
<text x="595.4" y="119.5" class="s">2</text>
<line x1="591.8" y1="114.5" x2="592.6" y2="114.5" stroke="#333" stroke-width="0.4"/>
<line x1="591.8" y1="111" x2="593.1" y2="111" stroke="#333" stroke-width="0.5"/>
<text x="595.4" y="112.6" class="s">4</text>
<line x1="591.8" y1="107.6" x2="592.6" y2="107.6" stroke="#333" stroke-width="0.4"/>
<line x1="591.8" y1="104.2" x2="593.1" y2="104.2" stroke="#333" stroke-width="0.5"/>
<text x="595.4" y="105.8" class="s">6</text>
<line x1="591.8" y1="100.8" x2="592.6" y2="100.8" stroke="#333" stroke-width="0.4"/>
<line x1="591.8" y1="97.4" x2="593.1" y2="97.4" stroke="#333" stroke-width="0.5"/>
<text x="595.4" y="99" class="s">8</text>
<line x1="591.8" y1="94" x2="592.6" y2="94" stroke="#333" stroke-width="0.4"/>
<line x1="591.8" y1="90.6" x2="594.4" y2="90.6" stroke="#333" stroke-width="0.5"/>
<text x="595.4" y="92.2" class="s">10</text>
<line x1="591.8" y1="87.1" x2="592.6" y2="87.1" stroke="#333" stroke-width="0.4"/>
<line x1="591.8" y1="83.7" x2="593.1" y2="83.7" stroke="#333" stroke-width="0.5"/>
<text x="595.4" y="85.3" class="s">12</text>
<line x1="591.8" y1="80.3" x2="592.6" y2="80.3" stroke="#333" stroke-width="0.4"/>
<line x1="591.8" y1="76.9" x2="593.1" y2="76.9" stroke="#333" stroke-width="0.5"/>
<text x="595.4" y="78.5" class="s">14</text>
<line x1="591.8" y1="73.5" x2="592.6" y2="73.5" stroke="#333" stroke-width="0.4"/>
<line x1="591.8" y1="70.1" x2="593.1" y2="70.1" stroke="#333" stroke-width="0.5"/>
<text x="595.4" y="71.7" class="s">16</text>
<line x1="591.8" y1="66.7" x2="592.6" y2="66.7" stroke="#333" stroke-width="0.4"/>
<line x1="591.8" y1="63.2" x2="593.1" y2="63.2" stroke="#333" stroke-width="0.5"/>
<text x="595.4" y="64.8" class="s">18</text>
<line x1="591.8" y1="59.8" x2="592.6" y2="59.8" stroke="#333" stroke-width="0.4"/>
<line x1="591.8" y1="56.4" x2="594.4" y2="56.4" stroke="#333" stroke-width="0.5"/>
<text x="595.4" y="58" class="s">20</text>
<line x1="591.8" y1="53" x2="592.6" y2="53" stroke="#333" stroke-width="0.4"/>
<line x1="591.8" y1="49.6" x2="593.1" y2="49.6" stroke="#333" stroke-width="0.5"/>
<text x="595.4" y="51.2" class="s">22</text>
<line x1="591.8" y1="46.2" x2="592.6" y2="46.2" stroke="#333" stroke-width="0.4"/>
<line x1="591.8" y1="42.7" x2="593.1" y2="42.7" stroke="#333" stroke-width="0.5"/>
<text x="595.4" y="44.3" class="s">24</text>
<line x1="591.8" y1="39.3" x2="592.6" y2="39.3" stroke="#333" stroke-width="0.4"/>
<line x1="591.8" y1="35.9" x2="593.1" y2="35.9" stroke="#333" stroke-width="0.5"/>
<text x="595.4" y="37.5" class="s">26</text>
<line x1="591.8" y1="32.5" x2="592.6" y2="32.5" stroke="#333" stroke-width="0.4"/>
<line x1="591.8" y1="29.1" x2="593.1" y2="29.1" stroke="#333" stroke-width="0.5"/>
<text x="595.4" y="30.7" class="s">28</text>
<line x1="591.8" y1="25.7" x2="592.6" y2="25.7" stroke="#333" stroke-width="0.4"/>
<line x1="591.8" y1="22.3" x2="594.4" y2="22.3" stroke="#333" stroke-width="0.5"/>
<text x="595.4" y="23.9" class="s">30</text>
<line x1="591.8" y1="18.8" x2="592.6" y2="18.8" stroke="#333" stroke-width="0.4"/>
<line x1="591.8" y1="15.4" x2="593.1" y2="15.4" stroke="#333" stroke-width="0.5"/>
<text x="595.4" y="17" class="s">32</text>
<line x1="591.8" y1="12" x2="592.6" y2="12" stroke="#333" stroke-width="0.4"/>
<line x1="591.8" y1="8.6" x2="593.1" y2="8.6" stroke="#333" stroke-width="0.5"/>
<text x="595.4" y="10.2" class="s">34</text>
<text x="595.2" y="4.2" class="u">µm</text>
<linearGradient id="cb2" x1="0" y1="0" x2="0" y2="1"><stop offset="0.0000" stop-color="#fff5f5"/><stop offset="0.0294" stop-color="#ffe8e8"/><stop offset="0.0588" stop-color="#ffd8d8"/><stop offset="0.0882" stop-color="#ffc4c0"/><stop offset="0.1176" stop-color="#ffb0a8"/><stop offset="0.1471" stop-color="#ff8870"/><stop offset="0.1765" stop-color="#ff6040"/><stop offset="0.2059" stop-color="#ff3000"/><stop offset="0.2353" stop-color="#ff5000"/><stop offset="0.2647" stop-color="#ff7000"/><stop offset="0.2941" stop-color="#ff9000"/><stop offset="0.3235" stop-color="#ffb000"/><stop offset="0.3529" stop-color="#ffd000"/><stop offset="0.3824" stop-color="#ffe800"/><stop offset="0.4118" stop-color="#ffff00"/><stop offset="0.4412" stop-color="#e8ff00"/><stop offset="0.4706" stop-color="#d0ff00"/><stop offset="0.5000" stop-color="#b0ff10"/><stop offset="0.5294" stop-color="#90ff20"/><stop offset="0.5588" stop-color="#68ff40"/><stop offset="0.5882" stop-color="#40ff60"/><stop offset="0.6176" stop-color="#20ff88"/><stop offset="0.6471" stop-color="#00ffb0"/><stop offset="0.6765" stop-color="#00ffe0"/><stop offset="0.7059" stop-color="#00e8ff"/><stop offset="0.7353" stop-color="#00c4ff"/><stop offset="0.7647" stop-color="#00a0ff"/><stop offset="0.7941" stop-color="#0080ff"/><stop offset="0.8235" stop-color="#0060ff"/><stop offset="0.8529" stop-color="#0030ff"/><stop offset="0.8824" stop-color="#0010e8"/><stop offset="0.9118" stop-color="#0000b0"/><stop offset="0.9412" stop-color="#000070"/><stop offset="0.9706" stop-color="#000030"/><stop offset="1.0000" stop-color="#000000"/></linearGradient>
<rect x="280.7" y="135.7" width="7" height="116.5" fill="url(#cb2)" stroke="#555" stroke-width="0.7"/>
<line x1="287.7" y1="252.2" x2="289" y2="252.2" stroke="#333" stroke-width="0.5"/>
<text x="291.3" y="253.8" class="s">0</text>
<line x1="287.7" y1="248.8" x2="288.5" y2="248.8" stroke="#333" stroke-width="0.4"/>
<line x1="287.7" y1="245.3" x2="289" y2="245.3" stroke="#333" stroke-width="0.5"/>
<text x="291.3" y="246.9" class="s">2</text>
<line x1="287.7" y1="241.9" x2="288.5" y2="241.9" stroke="#333" stroke-width="0.4"/>
<line x1="287.7" y1="238.5" x2="289" y2="238.5" stroke="#333" stroke-width="0.5"/>
<text x="291.3" y="240.1" class="s">4</text>
<line x1="287.7" y1="235.1" x2="288.5" y2="235.1" stroke="#333" stroke-width="0.4"/>
<line x1="287.7" y1="231.6" x2="289" y2="231.6" stroke="#333" stroke-width="0.5"/>
<text x="291.3" y="233.2" class="s">6</text>
<line x1="287.7" y1="228.2" x2="288.5" y2="228.2" stroke="#333" stroke-width="0.4"/>
<line x1="287.7" y1="224.8" x2="289" y2="224.8" stroke="#333" stroke-width="0.5"/>
<text x="291.3" y="226.4" class="s">8</text>
<line x1="287.7" y1="221.4" x2="288.5" y2="221.4" stroke="#333" stroke-width="0.4"/>
<line x1="287.7" y1="217.9" x2="290.3" y2="217.9" stroke="#333" stroke-width="0.5"/>
<text x="291.3" y="219.5" class="s">10</text>
<line x1="287.7" y1="214.5" x2="288.5" y2="214.5" stroke="#333" stroke-width="0.4"/>
<line x1="287.7" y1="211.1" x2="289" y2="211.1" stroke="#333" stroke-width="0.5"/>
<text x="291.3" y="212.7" class="s">12</text>
<line x1="287.7" y1="207.7" x2="288.5" y2="207.7" stroke="#333" stroke-width="0.4"/>
<line x1="287.7" y1="204.2" x2="289" y2="204.2" stroke="#333" stroke-width="0.5"/>
<text x="291.3" y="205.8" class="s">14</text>
<line x1="287.7" y1="200.8" x2="288.5" y2="200.8" stroke="#333" stroke-width="0.4"/>
<line x1="287.7" y1="197.4" x2="289" y2="197.4" stroke="#333" stroke-width="0.5"/>
<text x="291.3" y="199" class="s">16</text>
<line x1="287.7" y1="193.9" x2="288.5" y2="193.9" stroke="#333" stroke-width="0.4"/>
<line x1="287.7" y1="190.5" x2="289" y2="190.5" stroke="#333" stroke-width="0.5"/>
<text x="291.3" y="192.1" class="s">18</text>
<line x1="287.7" y1="187.1" x2="288.5" y2="187.1" stroke="#333" stroke-width="0.4"/>
<line x1="287.7" y1="183.7" x2="290.3" y2="183.7" stroke="#333" stroke-width="0.5"/>
<text x="291.3" y="185.3" class="s">20</text>
<line x1="287.7" y1="180.2" x2="288.5" y2="180.2" stroke="#333" stroke-width="0.4"/>
<line x1="287.7" y1="176.8" x2="289" y2="176.8" stroke="#333" stroke-width="0.5"/>
<text x="291.3" y="178.4" class="s">22</text>
<line x1="287.7" y1="173.4" x2="288.5" y2="173.4" stroke="#333" stroke-width="0.4"/>
<line x1="287.7" y1="170" x2="289" y2="170" stroke="#333" stroke-width="0.5"/>
<text x="291.3" y="171.6" class="s">24</text>
<line x1="287.7" y1="166.5" x2="288.5" y2="166.5" stroke="#333" stroke-width="0.4"/>
<line x1="287.7" y1="163.1" x2="289" y2="163.1" stroke="#333" stroke-width="0.5"/>
<text x="291.3" y="164.7" class="s">26</text>
<line x1="287.7" y1="159.7" x2="288.5" y2="159.7" stroke="#333" stroke-width="0.4"/>
<line x1="287.7" y1="156.3" x2="289" y2="156.3" stroke="#333" stroke-width="0.5"/>
<text x="291.3" y="157.9" class="s">28</text>
<line x1="287.7" y1="152.8" x2="288.5" y2="152.8" stroke="#333" stroke-width="0.4"/>
<line x1="287.7" y1="149.4" x2="290.3" y2="149.4" stroke="#333" stroke-width="0.5"/>
<text x="291.3" y="151" class="s">30</text>
<line x1="287.7" y1="146" x2="288.5" y2="146" stroke="#333" stroke-width="0.4"/>
<line x1="287.7" y1="142.6" x2="289" y2="142.6" stroke="#333" stroke-width="0.5"/>
<text x="291.3" y="144.2" class="s">32</text>
<line x1="287.7" y1="139.1" x2="288.5" y2="139.1" stroke="#333" stroke-width="0.4"/>
<line x1="287.7" y1="135.7" x2="289" y2="135.7" stroke="#333" stroke-width="0.5"/>
<text x="291.3" y="137.3" class="s">34</text>
<text x="291.1" y="131.3" class="u">µm</text>
<linearGradient id="cb3" x1="0" y1="0" x2="0" y2="1"><stop offset="0.0000" stop-color="#fff5f5"/><stop offset="0.0294" stop-color="#ffe8e8"/><stop offset="0.0588" stop-color="#ffd8d8"/><stop offset="0.0882" stop-color="#ffc4c0"/><stop offset="0.1176" stop-color="#ffb0a8"/><stop offset="0.1471" stop-color="#ff8870"/><stop offset="0.1765" stop-color="#ff6040"/><stop offset="0.2059" stop-color="#ff3000"/><stop offset="0.2353" stop-color="#ff5000"/><stop offset="0.2647" stop-color="#ff7000"/><stop offset="0.2941" stop-color="#ff9000"/><stop offset="0.3235" stop-color="#ffb000"/><stop offset="0.3529" stop-color="#ffd000"/><stop offset="0.3824" stop-color="#ffe800"/><stop offset="0.4118" stop-color="#ffff00"/><stop offset="0.4412" stop-color="#e8ff00"/><stop offset="0.4706" stop-color="#d0ff00"/><stop offset="0.5000" stop-color="#b0ff10"/><stop offset="0.5294" stop-color="#90ff20"/><stop offset="0.5588" stop-color="#68ff40"/><stop offset="0.5882" stop-color="#40ff60"/><stop offset="0.6176" stop-color="#20ff88"/><stop offset="0.6471" stop-color="#00ffb0"/><stop offset="0.6765" stop-color="#00ffe0"/><stop offset="0.7059" stop-color="#00e8ff"/><stop offset="0.7353" stop-color="#00c4ff"/><stop offset="0.7647" stop-color="#00a0ff"/><stop offset="0.7941" stop-color="#0080ff"/><stop offset="0.8235" stop-color="#0060ff"/><stop offset="0.8529" stop-color="#0030ff"/><stop offset="0.8824" stop-color="#0010e8"/><stop offset="0.9118" stop-color="#0000b0"/><stop offset="0.9412" stop-color="#000070"/><stop offset="0.9706" stop-color="#000030"/><stop offset="1.0000" stop-color="#000000"/></linearGradient>
<rect x="584.8" y="135.5" width="7" height="109.5" fill="url(#cb3)" stroke="#555" stroke-width="0.7"/>
<line x1="591.8" y1="245" x2="593.1" y2="245" stroke="#333" stroke-width="0.5"/>
<text x="595.4" y="246.6" class="s">0</text>
<line x1="591.8" y1="241.8" x2="592.6" y2="241.8" stroke="#333" stroke-width="0.4"/>
<line x1="591.8" y1="238.6" x2="593.1" y2="238.6" stroke="#333" stroke-width="0.5"/>
<text x="595.4" y="240.2" class="s">2</text>
<line x1="591.8" y1="235.3" x2="592.6" y2="235.3" stroke="#333" stroke-width="0.4"/>
<line x1="591.8" y1="232.1" x2="593.1" y2="232.1" stroke="#333" stroke-width="0.5"/>
<text x="595.4" y="233.7" class="s">4</text>
<line x1="591.8" y1="228.9" x2="592.6" y2="228.9" stroke="#333" stroke-width="0.4"/>
<line x1="591.8" y1="225.7" x2="593.1" y2="225.7" stroke="#333" stroke-width="0.5"/>
<text x="595.4" y="227.3" class="s">6</text>
<line x1="591.8" y1="222.5" x2="592.6" y2="222.5" stroke="#333" stroke-width="0.4"/>
<line x1="591.8" y1="219.2" x2="593.1" y2="219.2" stroke="#333" stroke-width="0.5"/>
<text x="595.4" y="220.8" class="s">8</text>
<line x1="591.8" y1="216" x2="592.6" y2="216" stroke="#333" stroke-width="0.4"/>
<line x1="591.8" y1="212.8" x2="594.4" y2="212.8" stroke="#333" stroke-width="0.5"/>
<text x="595.4" y="214.4" class="s">10</text>
<line x1="591.8" y1="209.6" x2="592.6" y2="209.6" stroke="#333" stroke-width="0.4"/>
<line x1="591.8" y1="206.4" x2="593.1" y2="206.4" stroke="#333" stroke-width="0.5"/>
<text x="595.4" y="208" class="s">12</text>
<line x1="591.8" y1="203.1" x2="592.6" y2="203.1" stroke="#333" stroke-width="0.4"/>
<line x1="591.8" y1="199.9" x2="593.1" y2="199.9" stroke="#333" stroke-width="0.5"/>
<text x="595.4" y="201.5" class="s">14</text>
<line x1="591.8" y1="196.7" x2="592.6" y2="196.7" stroke="#333" stroke-width="0.4"/>
<line x1="591.8" y1="193.5" x2="593.1" y2="193.5" stroke="#333" stroke-width="0.5"/>
<text x="595.4" y="195.1" class="s">16</text>
<line x1="591.8" y1="190.2" x2="592.6" y2="190.2" stroke="#333" stroke-width="0.4"/>
<line x1="591.8" y1="187" x2="593.1" y2="187" stroke="#333" stroke-width="0.5"/>
<text x="595.4" y="188.6" class="s">18</text>
<line x1="591.8" y1="183.8" x2="592.6" y2="183.8" stroke="#333" stroke-width="0.4"/>
<line x1="591.8" y1="180.6" x2="594.4" y2="180.6" stroke="#333" stroke-width="0.5"/>
<text x="595.4" y="182.2" class="s">20</text>
<line x1="591.8" y1="177.4" x2="592.6" y2="177.4" stroke="#333" stroke-width="0.4"/>
<line x1="591.8" y1="174.1" x2="593.1" y2="174.1" stroke="#333" stroke-width="0.5"/>
<text x="595.4" y="175.7" class="s">22</text>
<line x1="591.8" y1="170.9" x2="592.6" y2="170.9" stroke="#333" stroke-width="0.4"/>
<line x1="591.8" y1="167.7" x2="593.1" y2="167.7" stroke="#333" stroke-width="0.5"/>
<text x="595.4" y="169.3" class="s">24</text>
<line x1="591.8" y1="164.5" x2="592.6" y2="164.5" stroke="#333" stroke-width="0.4"/>
<line x1="591.8" y1="161.3" x2="593.1" y2="161.3" stroke="#333" stroke-width="0.5"/>
<text x="595.4" y="162.9" class="s">26</text>
<line x1="591.8" y1="158" x2="592.6" y2="158" stroke="#333" stroke-width="0.4"/>
<line x1="591.8" y1="154.8" x2="593.1" y2="154.8" stroke="#333" stroke-width="0.5"/>
<text x="595.4" y="156.4" class="s">28</text>
<line x1="591.8" y1="151.6" x2="592.6" y2="151.6" stroke="#333" stroke-width="0.4"/>
<line x1="591.8" y1="148.4" x2="594.4" y2="148.4" stroke="#333" stroke-width="0.5"/>
<text x="595.4" y="150" class="s">30</text>
<line x1="591.8" y1="145.2" x2="592.6" y2="145.2" stroke="#333" stroke-width="0.4"/>
<line x1="591.8" y1="141.9" x2="593.1" y2="141.9" stroke="#333" stroke-width="0.5"/>
<text x="595.4" y="143.5" class="s">32</text>
<line x1="591.8" y1="138.7" x2="592.6" y2="138.7" stroke="#333" stroke-width="0.4"/>
<line x1="591.8" y1="135.5" x2="593.1" y2="135.5" stroke="#333" stroke-width="0.5"/>
<text x="595.4" y="137.1" class="s">34</text>
<text x="595.2" y="131.1" class="u">µm</text>
<text class="l" x="1.7" y="11.2">(a)</text>
<text class="l" x="306.7" y="10.2">(b)</text>
<text class="l" x="1.0" y="152.5">(c)</text>
<text class="l" x="304.2" y="148.5">(d)</text>
<text class="s" x="21.2" y="109.6">0.954 mm</text>
<text class="s" x="166.5" y="119.6">1.27 mm</text>
<text class="s" x="325.5" y="107">0.954 mm</text>
<text class="s" x="471" y="118">1.27 mm</text>
<text class="s" x="21.2" y="237.2">0.954 mm</text>
<text class="s" x="166.5" y="246.6">1.27 mm</text>
<text class="s" x="325.5" y="225.5">0.954 mm</text>
<text class="s" x="471" y="236.5">1.27 mm</text>
</svg></body></html>
